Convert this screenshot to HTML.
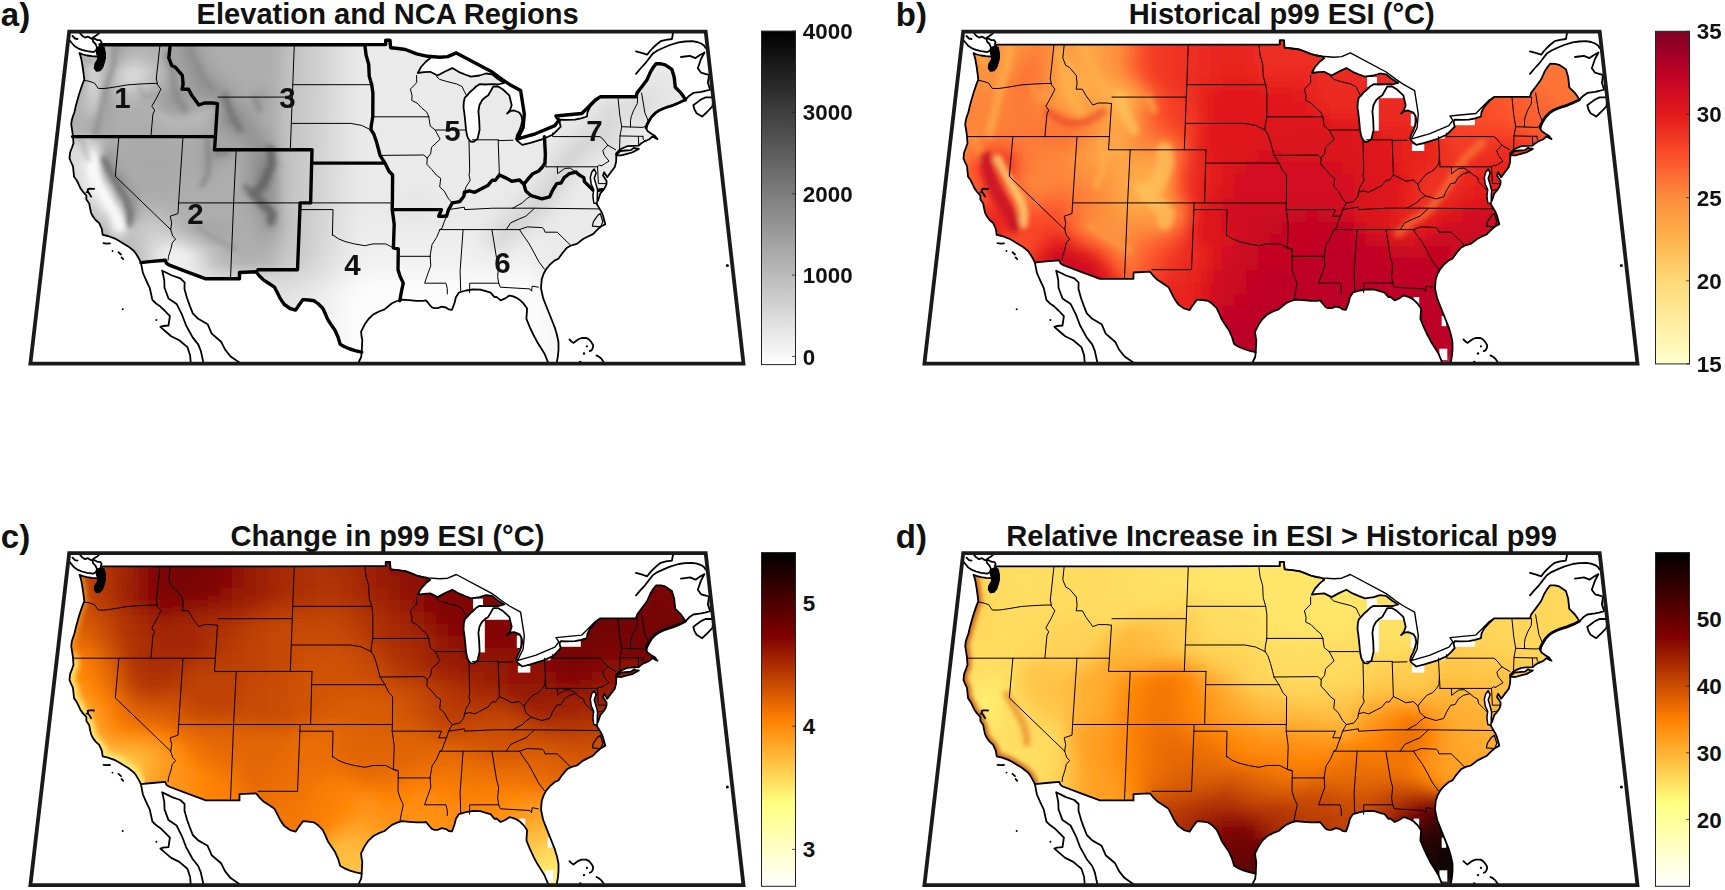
<!DOCTYPE html><html><head><meta charset="utf-8"><title>ESI figure</title><style>html,body{margin:0;padding:0;background:#fff}body{width:1725px;height:890px;overflow:hidden}svg{display:block}text{font-family:"Liberation Sans",Arial,Helvetica,sans-serif;font-weight:bold;fill:#111}</style></head><body><svg width="1725" height="890" viewBox="0 0 1725 890"><defs><clipPath id="land"><path d="M102.8 44.7L160.3 44.7 170.4 44.7 250 44.7 300 44.7 365.3 44.6 385.7 44.6 385.7 40.3 390 40.3 390.6 47.7 398 48.5 405.4 49.5 411 51.5 416.6 53.9 422 55.5 427.7 56.3 430.2 58.2 426 61.5 421 67 417.8 73 424 72.2 430.2 71.8 437.6 75.5 445 71.5 452.4 68.1 458.6 71.8 465 74.5 471 76.7 479.6 75.5 486 73.5 492 74.3 498.2 79.2 504.3 82.9 498 84.5 492 84.2 485 84.5 479.6 84.2 476 86.5 473.4 89.1 470 92 467.2 95.3 464.8 97.7 463.8 102 463.5 107.6 464.2 112 464.8 117.5 465.5 124 466 129.9 467.2 136 468.2 138.5 470.5 141.5 473.5 141.8 477.5 139 479.6 129.9 479.2 120 478.4 111.3 479.5 105 482.1 100.2 485 97.5 488.3 95.3 491 90.5 493.2 86.6 498.2 86.6 503 89.5 509.3 95.3 511.7 105.2 510 110 507.1 113.5 511 110.8 514.2 110.5 519.3 112.5 521.5 116 522.3 120.6 521 126 519.3 130.7 517 135 516.2 138.8 517.2 140.8 522.3 144.9 530.4 142.8 537 140.8 543.5 138.8 548 136.8 552.6 134.7 557 130.5 560.7 126.6 559.5 122 560.7 119.6 567 119.8 574.9 119.6 581 118.3 587 116.5 587.5 112 590 107 595 101.5 600.2 96.8 618 96.8 636 96.8 637.1 92.9 642 86.5 647.2 79.4 650.6 71.6 653.5 67 656.2 63.7 661 63.8 665.2 64.8 671.9 69.3 674.2 77.2 675.3 87.3 680.9 92.9 683.5 96.5 685.4 99.7 679 102.8 673 105.3 668 106.8 662.9 108.7 658.5 110.8 655.1 113.2 651.5 117 648.3 122.1 646.8 125 646.1 127.8 647.5 131 651 133.5 654.8 135.7 657.5 139.1 656.2 138.5 652.5 136.5 649 139.5 645 141 641 143.5 638.7 145.6 633 145.8 627.4 146.2 623 148 619.5 149.8 616 153.5 616.3 157.1 616.1 161.7 614.8 167 610.8 172.3 607.2 177.2 604.1 172.2 603 175.5 606.6 180.9 606.5 184 605.3 187.1 603 190.5 600.4 193.3 597.9 200.7 596 201.5 597.3 205 599.2 208.1 601.5 212 602.9 215.5 605.3 224.2 601 226.5 597.9 229.1 593 234.1 588 236.5 583.1 239 576.9 243.9 571 245.5 567 247.7 562.5 253 558.4 258.8 554.8 260.4 550 264.5 546.1 269.2 543.5 274 541.7 279.4 541 288.2 543.2 298.4 546 305.5 549 313 552 320.5 554.8 327.6 557 335 558.5 342.2 558.5 350 557.8 356.8 556.5 363.6 548.5 363.6 546.5 358.5 544.6 353.9 541 348 537.3 342.2 533.5 335 530 327.6 526.4 318.8 527.1 308.6 523.5 303.5 519.8 299.9 516.5 297.8 512.5 296.2 509.4 295.6 505.2 298.4 500.7 300.4 496.4 296.9 494.5 297.2 490.6 292.6 487.4 291.7 480.4 289.6 473.2 289.3 466 290.5 459 292.5 455.9 297.2 454.5 303 452 309.8 448.8 309.4 446 307.5 441.7 306.6 437.7 308.2 433.9 308.2 431.5 307 426 300.4 422.9 300.8 416.7 300.8 409 300.2 401.9 299.6 397 301 392 303.3 388 306.5 384.6 309.4 379 311.5 373.4 314.4 368.5 319 364.8 324.3 361.1 331.7 361.5 336 362.3 340.3 362 346 361.7 352.1 356 350.8 349.9 349 344 346.5 340.1 344.1 338 337 335.1 330.5 331 324.5 327.7 319.3 325 313 322.7 308.2 318.5 304 314.1 300.8 308.5 300 303 299.6 299 305 295.6 310.1 290 308.5 284.4 304.5 281.5 300.5 279.5 297.1 277 292 274.5 287.2 269 283.5 263.4 279.8 259.5 276 256 271.7 239.5 272.5 239.5 278.8 205.9 278.8 187 271.8 168.8 264.9 166.4 263.2 165.3 260.3 152 261.4 140.9 262.6 138.6 258 136.5 254.5 134 251 128.2 246.4 122.4 242.9 118 240.2 114.3 238.3 108 236 102.7 234.8 101.8 229 99.2 223.2 95.6 220 93 216.5 91.1 212.8 90.3 209.3 89.2 203.5 86.4 199.5 86.3 195.4 83 191.8 80.5 188.4 78.5 184 76.5 180 74.1 176.8 73.5 171.5 73 166.4 71 162 69.5 158.3 70.1 152.5 72 147.5 73.5 143.2 73.2 139.5 73 136.2 72.2 130.5 71.2 124.6 71.8 120 73 116 74.4 112.2 75.8 106 77.3 100.6 79 94.5 80.8 89 82.5 84 84.3 79.7 83.5 73 82.5 66 81.5 60 80.5 56 79.5 53.2 83 54.5 87 55.5 92 56.2 96 56.5 98.8 56.2 99 52 100.5 48.5 101.5 46.5 102.8 44.7ZM616.1 155.1L620.2 151.1 625 150.5 630.9 150.1 634 147.8 636 148.5 638.8 148.9 632.2 152.5 627 153.8 621.6 155.4Z"/></clipPath><clipPath id="frm"><path d="M69.2 31.6L705.7 31.6 743.5 363.6 30.4 363.6Z"/></clipPath><filter id="bl" x="-2%" y="-2%" width="104%" height="104%"><feGaussianBlur stdDeviation="5.5"/></filter><filter id="bl2" x="-5%" y="-5%" width="110%" height="110%"><feGaussianBlur stdDeviation="2.6"/></filter><path id="fr" d="M69.2 31.6L705.7 31.6 743.5 363.6 30.4 363.6Z"/><path id="pug" d="M97 48L101 46 104 47.5 105.2 53 105.3 58 104 63 102.5 67.5 100 70.5 96.5 71 94.5 68 95 64 97.5 60 98 57 96.5 53Z"/><path id="mec" d="M685.4 99.7L679 102.8 673 105.3 668 106.8 662.9 108.7 658.5 110.8 655.1 113.2 651.5 117 648.3 122.1 646.8 125 646.1 127.8"/><path id="bays" d="M594.2 169L596.1 173 594.2 178.3 596.2 184.9 597.6 190.3 597.3 196.2 597.2 201.6 596.5 203.6 593.8 202.9 592.9 196.2 593.7 189.6 591.2 184.3 590.3 177.6 591.7 172.3Z"/><path id="pam" d="M592.4 226.2L600.7 226.9 602.8 221.6 600.3 213.6 597.6 215.6 593.4 221.6Z"/><g id="msk" fill="#fff"><rect x="474" y="98.2" width="10.8" height="32.6"/><rect x="486" y="85" width="25" height="13.2"/><rect x="473" y="77" width="10" height="10"/><rect x="516.8" y="114" width="3.6" height="12.3"/><rect x="517.9" y="144.3" width="12.4" height="6.7"/><rect x="544.9" y="135.3" width="5.6" height="3.4"/><rect x="558.4" y="119.6" width="22.4" height="5.6"/><rect x="519.6" y="297" width="5.6" height="9"/><rect x="547.7" y="316" width="4.5" height="10.2"/><rect x="545.4" y="348.7" width="7.9" height="11.3"/></g><path id="st" d="M84.3 80.3L90 81.5 94.7 83.2 98.2 88.4 104 88.5 109.8 87.8 118 86.5 127.2 84.9 140 84 150 83.5 157.3 83.4M160 44.7L156.3 78.4M156.3 78.4L157.3 83.4M157 84L160.9 89.2 157 97.1 151.8 106.3 154.7 110.2 152.9 114.2 150.9 136.6M73.6 136.6L150.9 136.6 183.1 136.6 215.4 136.6M118.9 136.6L115.3 176.3 170.7 229.6M170.7 229.6L171.7 222.9 170.2 216.2 174 214.9 178 213.6 178.6 202.9M170.7 229.6L172.8 236.2 175.7 238.9 172.2 242.9 171.1 248.3 168.5 256.3 168.1 260.1M183 136.6L178.6 202.9M178.6 202.9L233.6 202.9 300.1 202.9 392.3 202.9M215.4 136.6L214.5 149.8 236.2 149.8M236.2 149.8L290.3 149.8 312 149.8M236.2 149.8L233.6 202.9M233.6 202.9L230.5 278.7M170.2 44.7L168.8 58 171.7 65.4 175.7 67.6 182.3 75.4 183.1 84 182.1 89.2 188.4 89.2 192.1 95.8 196.9 102.3 198.8 105 204.3 103 212.8 103 217.5 103.7M217.5 103.7L215.4 136.6M218 97.1L292.3 97.1M294.3 44.7L290.3 149.8M312 149.8L310.6 202.9M311.6 163.1L385 163.1M300.1 202.9L299.9 209.6M299.9 209.6L297.5 269.7 257.9 269.7M299.9 209.6L333 209.6 332.4 235.4M332.4 234.6L338.2 238.7 345 241.5 354.4 243.9 364.8 245.7 373 243.9 385.7 243.9 393.8 248 397.3 249.1M392.2 209.6L394.2 224.2 393.4 247.8M393.4 247.8L398.3 249 398.2 256.3M398.2 256.3L430.1 256.3M398.2 256.3L398 269.7 400.1 276.4 403.3 283.2 401.5 291.2 399.8 300.7M292.7 84.7L371.7 84.7M364.8 44.7L366.1 55.1 368.7 64.3 369.2 76.1 371.7 84.7M371.7 84.7L372.9 93.1 372.8 116.8M291.3 123.4L350.8 123.4 361.5 125.4 371.1 130M372.8 116.8L371.2 126 371.1 130M371.1 130L373.8 134 376.5 141.9 378.6 149.8 380 155.4M380 155.4L385 163.1M385 163.1L388.8 171 392.6 175 392.4 202.9M392.3 202.9L392.2 209.6M372.8 116.8L428.8 116.8M428.8 116.8L426.8 112.2 421.3 107.6 417 103 411.7 100.4 412.1 95.8 410.4 89.2 416.7 82.6 416.6 75.4M428.8 116.8L430.2 126 435.2 130 440.1 139.2 435.9 143.2 431.6 147.2 430.6 153.8 427.2 158M380 155.4L423.8 155 427.2 158M435.2 130L465.8 130M466.7 95.8L464.5 91.8 462.1 86.6 456.8 84 446.1 81.3 439.7 79.4 436.5 76.5M427.2 158L426.9 164.4 431.9 169.7 436.3 175 440.7 178.3 439.7 186.9 444.1 190.9 448.6 198.9 452.4 202.9M469 140.6L469.7 171 469 175 470.2 180.3 466 186.9 464.4 192.3M464.4 192.3L463.9 196.2 459.6 201.6 452.4 202.9M472.5 139.8L498.4 139.8M498.2 140.6L499.4 175M498.4 140.6L513 140.2M499.4 175L495.4 180.3 492.1 180.3 487.8 185.6 482.4 188.3 474.8 192.3 469.3 190.9 464.4 192.3M499.4 175L505.1 177.6 511.8 181.2 519.4 180 523.9 184.3M523.9 184.3L528.1 179 532.8 173.7 538.7 171 542.4 167 544.9 163.1 545.4 154.6M545.4 154.6L544.4 136.6M523.9 184.3L525.8 190.9 531.2 195.7M531.2 195.7L526.6 198.9 522.3 202.9 512.8 208.2M512.8 208.2L492.7 208.2 464.6 209.6 464.4 207.2 448.6 209.6M452.4 202.9L450.8 205.6 448.6 209.6M392.2 209.6L441.5 209.6 438.7 216.2 446.5 216.2M448.6 209.6L446.5 216.2M446.5 216.2L444.3 221.6 442.1 228.2 439.9 229.6M439.9 229.6L436.5 237.6 432.1 244.3 430.9 251 430.1 256.3M430.1 256.3L430.8 265.7 427.4 275.1 424.6 283.2 445.9 283.2 447.3 288.5 447.3 293.9M439.9 229.6L463.1 229.6 491.9 229.6 506.2 229.6 519.5 229.6M463.1 229.6L460.1 271.1 460.7 291.2M491.9 229.6L496.5 257.7 498.7 265.7 497.6 276.4 498.7 283.2M469.6 292.6L469.7 283.2 498.7 283.2M498.7 283.2L500.3 287.2 529.9 288.9 531.6 291.2 532.2 286.1 538.3 287.2M519.5 229.6L522.9 234.9 528.6 242.9 533.1 251 538.8 261.7 544.4 269.1M519.5 229.6L527.2 226.9 542.2 227.6 543.8 228.9 545 232.2 557.2 232.2 570.2 244.9M506.2 229.6L510.6 222.9 519.3 218.9 525.9 216.2 534.5 208.2M512.8 208.2L534.5 208.2 598.7 208.9M531.2 195.7L541.9 198.9 549.6 196.9 552.6 190.3 556.7 183.6 561.1 183 564.1 177.6 569.4 173.7 575.9 172.1M575.9 172.1L579.3 175 583.8 177.6 584.5 181.6 589.7 186.9 593.2 190.3 598.1 190.3 602.5 189.6M575.9 172.1L570.2 168.1 564.8 168.4 557.6 173.7 557.3 166.8M546 166.8L557.3 166.8 597.4 166.8M546 166.8L545.4 154.6M597.5 166.8L598.4 183.6 606.5 183.6M597.4 166.8L599.4 165.2 601.6 165.7M601.6 165.7L604.8 163.7 609 161.1 604.2 155.1 602.8 150.5 607.8 145.2M552.4 133L552.6 136.6 600 136.6 603 139.2 607.8 145.2M607.8 145.2L615.7 149.8M619.5 149.8L620 135.9 621.7 126.7 619.8 115.5 617.9 97M630.5 127L630.5 120.8 631.2 116.8 633.7 110.2 637.3 103.7 637.6 97M621.7 126.7L630.5 127 642.9 127.4 648.1 125.1M648.9 122.4L644.9 112.9 641.6 93.1M620 135.9L638.4 136.3 642.9 136.3M638.4 136.3L638.7 145.6M642.9 136.3L643.2 139.2 645.9 141.9"/><path id="cst" d="M102.8 44.7L160.3 44.7 170.4 44.7 250 44.7 300 44.7 365.3 44.6 385.7 44.6 385.7 40.3 390 40.3 390.6 47.7 398 48.5 405.4 49.5 411 51.5 416.6 53.9 422 55.5 427.7 56.3 430.2 58.2 426 61.5 421 67 417.8 73 424 72.2 430.2 71.8 437.6 75.5 445 71.5 452.4 68.1 458.6 71.8 465 74.5 471 76.7 479.6 75.5 486 73.5 492 74.3 498.2 79.2 504.3 82.9 498 84.5 492 84.2 485 84.5 479.6 84.2 476 86.5 473.4 89.1 470 92 467.2 95.3 464.8 97.7 463.8 102 463.5 107.6 464.2 112 464.8 117.5 465.5 124 466 129.9 467.2 136 468.2 138.5 470.5 141.5 473.5 141.8 477.5 139 479.6 129.9 479.2 120 478.4 111.3 479.5 105 482.1 100.2 485 97.5 488.3 95.3 491 90.5 493.2 86.6 498.2 86.6 503 89.5 509.3 95.3 511.7 105.2 510 110 507.1 113.5 511 110.8 514.2 110.5 519.3 112.5 521.5 116 522.3 120.6 521 126 519.3 130.7 517 135 516.2 138.8 517.2 140.8 522.3 144.9 530.4 142.8 537 140.8 543.5 138.8 548 136.8 552.6 134.7 557 130.5 560.7 126.6 559.5 122 560.7 119.6 567 119.8 574.9 119.6 581 118.3 587 116.5 587.5 112 590 107 595 101.5 600.2 96.8 618 96.8 636 96.8 637.1 92.9 642 86.5 647.2 79.4 650.6 71.6 653.5 67 656.2 63.7 661 63.8 665.2 64.8 671.9 69.3 674.2 77.2 675.3 87.3 680.9 92.9 683.5 96.5 685.4 99.7 679 102.8 673 105.3 668 106.8 662.9 108.7 658.5 110.8 655.1 113.2 651.5 117 648.3 122.1 646.8 125 646.1 127.8 647.5 131 651 133.5 654.8 135.7 657.5 139.1 656.2 138.5 652.5 136.5 649 139.5 645 141 641 143.5 638.7 145.6 633 145.8 627.4 146.2 623 148 619.5 149.8 616 153.5 616.3 157.1 616.1 161.7 614.8 167 610.8 172.3 607.2 177.2 604.1 172.2 603 175.5 606.6 180.9 606.5 184 605.3 187.1 603 190.5 600.4 193.3 597.9 200.7 596 201.5 597.3 205 599.2 208.1 601.5 212 602.9 215.5 605.3 224.2 601 226.5 597.9 229.1 593 234.1 588 236.5 583.1 239 576.9 243.9 571 245.5 567 247.7 562.5 253 558.4 258.8 554.8 260.4 550 264.5 546.1 269.2 543.5 274 541.7 279.4 541 288.2 543.2 298.4 546 305.5 549 313 552 320.5 554.8 327.6 557 335 558.5 342.2 558.5 350 557.8 356.8 556.5 363.6 548.5 363.6 546.5 358.5 544.6 353.9 541 348 537.3 342.2 533.5 335 530 327.6 526.4 318.8 527.1 308.6 523.5 303.5 519.8 299.9 516.5 297.8 512.5 296.2 509.4 295.6 505.2 298.4 500.7 300.4 496.4 296.9 494.5 297.2 490.6 292.6 487.4 291.7 480.4 289.6 473.2 289.3 466 290.5 459 292.5 455.9 297.2 454.5 303 452 309.8 448.8 309.4 446 307.5 441.7 306.6 437.7 308.2 433.9 308.2 431.5 307 426 300.4 422.9 300.8 416.7 300.8 409 300.2 401.9 299.6 397 301 392 303.3 388 306.5 384.6 309.4 379 311.5 373.4 314.4 368.5 319 364.8 324.3 361.1 331.7 361.5 336 362.3 340.3 362 346 361.7 352.1 356 350.8 349.9 349 344 346.5 340.1 344.1 338 337 335.1 330.5 331 324.5 327.7 319.3 325 313 322.7 308.2 318.5 304 314.1 300.8 308.5 300 303 299.6 299 305 295.6 310.1 290 308.5 284.4 304.5 281.5 300.5 279.5 297.1 277 292 274.5 287.2 269 283.5 263.4 279.8 259.5 276 256 271.7 239.5 272.5 239.5 278.8 205.9 278.8 187 271.8 168.8 264.9 166.4 263.2 165.3 260.3 152 261.4 140.9 262.6 138.6 258 136.5 254.5 134 251 128.2 246.4 122.4 242.9 118 240.2 114.3 238.3 108 236 102.7 234.8 101.8 229 99.2 223.2 95.6 220 93 216.5 91.1 212.8 90.3 209.3 89.2 203.5 86.4 199.5 86.3 195.4 83 191.8 80.5 188.4 78.5 184 76.5 180 74.1 176.8 73.5 171.5 73 166.4 71 162 69.5 158.3 70.1 152.5 72 147.5 73.5 143.2 73.2 139.5 73 136.2 72.2 130.5 71.2 124.6 71.8 120 73 116 74.4 112.2 75.8 106 77.3 100.6 79 94.5 80.8 89 82.5 84 84.3 79.7 83.5 73 82.5 66 81.5 60 80.5 56 79.5 53.2 83 54.5 87 55.5 92 56.2 96 56.5 98.8 56.2 99 52 100.5 48.5 101.5 46.5 102.8 44.7ZM616.1 155.1L620.2 151.1 625 150.5 630.9 150.1 634 147.8 636 148.5 638.8 148.9 632.2 152.5 627 153.8 621.6 155.4Z"/><path id="out" d="M140.9 262.6L142.9 272.9 146 280 149.7 287.8 152.4 299.9 156 303.5 160.4 306.6 165 311 169.9 316.1 168.5 325.5 163 326 160.4 326.9 165 331 171.2 336.3 179.3 340.3 187.4 347.1 190.1 355.2 190.8 363.6M162.2 270.7L163.2 275 164.3 280.6 164.5 287.8 168.5 298.5 176.6 303.9 182 314.7 186.1 325.5 192.8 337.6 198.2 344.4 200.9 351.1 203.6 363.6M162.2 270.7L167 273 172 275.5 180.3 278.4 184.6 282.4 184.5 289.1 187 298 190.1 306.6 192.8 313.4 198.2 318.8 207.6 324.2 211.7 333.6 221.1 341.7 225.2 349.8 230.6 356.5 238.6 361.9 241 363.6M361.7 352.1L361.2 357 359.2 361 358.3 363.6M636 73.8L640.5 68.5 645 63.7 649 58.5 652.8 53.6 657.5 50.5 662.9 48 670 45 678.7 42.4 685 41.5 692.1 41.2 697 42 701.1 43.5 704 45.5 705.6 48M636 51.3L641.5 52.8 647.2 54.7 650 51 652.8 48 656.5 44.5 660.7 41.2 666 39.8 671.9 39 673 33.4M680.9 57L685 56.5 689.9 55.8 695.5 58.1 700 55 704.5 52.5 701 59 697.8 68.2 701.1 72.7 705 73.8 709 74.9 707.9 82.8 710.1 89.6 705 91 701.1 91.8 693.3 92.9 689 96 685.4 99.7M693.3 105.3L694.5 109.5 696.6 113.2 702.2 116.6 707 112 712.4 106.4 713.5 97.4 705.6 97.4 701 99.5 697.8 101.9 693.3 105.3M68.5 39L71 42 74.4 46 78 48.3 82 49.9 87 51.2 93.4 52.1 96 50.5 97 47.5 95.5 44 93 41.5 92.5 37.8 95 36.2 97.5 34.6 99 33.2M80 33.2L82.5 36 85 37.6 88 36.6 91 38.6 94.5 38.6 97.5 40.2 100.2 40.2 101.6 42.2 100.8 44.6M72.5 36L75 38.5 77.5 39M86.6 192.1L88.4 192.3 89.7 194.2 91.1 196.6M88 191.2L87.7 189.3 89.6 188.7 92.3 188.8 94 188.9M103.5 243.2L106.5 243.6 110 243.4M118.5 252.3L121 254.5M121.6 257.4L123.2 259.2M569.5 339.5L571.5 341.5 573.4 342.9 576.7 340.5 579 339 581.6 338 586.4 338 589 339.5 591.2 341.9 593.2 345.3 592.8 348 591.7 350.1 589.8 351.1M596.5 355.4L599 356.8 601.4 358.8 603.8 362.2"/><path id="intl" d="M385.7 44.6L385.7 40.3 390 40.3 390.6 47.7 398 48.5 405.4 49.5 416.6 53.9 427.7 56.3 440 57.2 447.7 56.6 456.3 52.9 492.2 72 502 79.4 509.5 84.4 520.6 90.6 524.3 114 523.1 127.7 518.1 137.5 517.1 139.1 535.4 133.8 554.9 125.6 558.9 120.2 556 116 566 115 581.8 113.5 587.2 108.1 595.3 100 600.2 96.8"/><path id="reg" d="M100 44.7L160.3 44.7 170.4 44.7 250 44.7 300 44.7 365.3 44.6 385.7 44.6 385.7 40.3 390 40.3 390.6 47.7 398 48.5 405.4 49.5 416.6 53.9 427.7 56.3 440 57.2 447.7 56.6 456.3 52.9 492.2 72 502 79.4 509.5 84.4 520.6 90.6 524.3 114 523.1 127.7 518.1 137.5 517.1 139.1 535.4 133.8 554.9 125.6 558.9 120.2 556 116 566 115 581.8 113.5 587.2 108.1 595.3 100 600.2 96.8 618 96.8 636 96.8 637.1 92.9 642 86.5 647.2 79.4 650.6 71.6 653.5 67 656.2 63.7 661 63.8 665.2 64.8 671.9 69.3 674.2 77.2 675.3 87.3 680.9 92.9 683.5 96.5 685.4 99.7M72.5 136.6L150.9 136.6 183.1 136.6 215.4 136.6M170.2 44.7L168.8 58 171.7 65.4 175.7 67.6 182.3 75.4 183.1 84 182.1 89.2 188.4 89.2 192.1 95.8 196.9 102.3 198.8 105 204.3 103 212.8 103 217.5 103.7M217.5 103.7L215.4 136.6M215.4 136.6L214.5 149.8 236.2 149.8M236.2 149.8L290.3 149.8 312 149.8M312 149.8L310.6 202.9 300.1 202.9M300.1 202.9L299.9 209.6M299.9 209.6L297.5 269.7 257.9 269.7M311.6 163.1L385 163.1M364.8 44.7L366.1 55.1 368.7 64.3 369.2 76.1 371.7 84.7M371.7 84.7L372.9 93.1 372.8 116.8M372.8 116.8L371.2 126 371.1 130M371.1 130L373.8 134 376.5 141.9 378.6 149.8 380 155.4M380 155.4L385 163.1M385 163.1L388.8 171 392.6 175 392.4 202.9M392.2 209.6L394.2 224.2 393.4 247.8M393.4 247.8L398.3 249 398.2 256.3M398.2 256.3L398 269.7 400.1 276.4 403.3 283.2 401.5 291.2 399.8 300.7M392.3 202.9L392.2 209.6M392.2 209.6L441.5 209.6 438.7 216.2 446.5 216.2M448.6 209.6L446.5 216.2M452.4 202.9L450.8 205.6 448.6 209.6M464.4 192.3L463.9 196.2 459.6 201.6 452.4 202.9M499.4 175L495.4 180.3 492.1 180.3 487.8 185.6 482.4 188.3 474.8 192.3 469.3 190.9 464.4 192.3M499.4 175L505.1 177.6 511.8 181.2 519.4 180 523.9 184.3M523.9 184.3L528.1 179 532.8 173.7 538.7 171 542.4 167 544.9 163.1 545.4 154.6M545.4 154.6L544.4 136.6M523.9 184.3L525.8 190.9 531.2 195.7M531.2 195.7L541.9 198.9 549.6 196.9 552.6 190.3 556.7 183.6 561.1 183 564.1 177.6 569.4 173.7 575.9 172.1M575.9 172.1L579.3 175 583.8 177.6 584.5 181.6 589.7 186.9 593.2 190.3 598.1 190.3 602.5 189.6M140.9 262.6L152 261.4 165.3 260.3 166.4 263.2 168.8 264.9 187 271.8 205.9 278.8 239.5 278.8 239.5 272.5 256 271.7 259.5 276 263.4 279.8 269 283.5 274.5 287.2 277 292 279.5 297.1 281.5 300.5 284.4 304.5 290 308.5 295.6 310.1 299 305 303 299.6 308.5 300 314.1 300.8 318.5 304 322.7 308.2 325 313 327.7 319.3 331 324.5 335.1 330.5 338 337 340.1 344.1 344 346.5 349.9 349 356 350.8 361.7 352.1"/><g id="dots"><circle cx="727.4" cy="265.5" r="1.5"/><circle cx="586.9" cy="346.3" r="1.1"/><circle cx="584" cy="353.5" r="1.2"/><circle cx="580.3" cy="362.2" r="1.5"/><circle cx="122.7" cy="309.3" r="1"/><circle cx="156.4" cy="320.1" r="1"/><circle cx="112.5" cy="251" r="0.9"/></g><linearGradient id="cb0" x1="0" y1="1" x2="0" y2="0"><stop offset="0%" stop-color="#ffffff"/><stop offset="5%" stop-color="#f2f2f2"/><stop offset="10%" stop-color="#e6e6e6"/><stop offset="15%" stop-color="#d9d9d9"/><stop offset="20%" stop-color="#cccccc"/><stop offset="25%" stop-color="#bfbfbf"/><stop offset="30%" stop-color="#b2b2b2"/><stop offset="35%" stop-color="#a6a6a6"/><stop offset="40%" stop-color="#999999"/><stop offset="45%" stop-color="#8c8c8c"/><stop offset="50%" stop-color="#808080"/><stop offset="55%" stop-color="#737373"/><stop offset="60%" stop-color="#666666"/><stop offset="65%" stop-color="#595959"/><stop offset="70%" stop-color="#4c4c4c"/><stop offset="75%" stop-color="#404040"/><stop offset="80%" stop-color="#333333"/><stop offset="85%" stop-color="#262626"/><stop offset="90%" stop-color="#1a1a1a"/><stop offset="95%" stop-color="#0d0d0d"/><stop offset="100%" stop-color="#000000"/></linearGradient><linearGradient id="cb1" x1="0" y1="1" x2="0" y2="0"><stop offset="0%" stop-color="#ffffcc"/><stop offset="5%" stop-color="#fff8ba"/><stop offset="10%" stop-color="#fff1a9"/><stop offset="15%" stop-color="#ffe998"/><stop offset="20%" stop-color="#fee187"/><stop offset="25%" stop-color="#fed976"/><stop offset="30%" stop-color="#fec965"/><stop offset="35%" stop-color="#feba54"/><stop offset="40%" stop-color="#feab49"/><stop offset="45%" stop-color="#fd9c42"/><stop offset="50%" stop-color="#fd8d3c"/><stop offset="55%" stop-color="#fd7435"/><stop offset="60%" stop-color="#fc5b2e"/><stop offset="65%" stop-color="#f74427"/><stop offset="70%" stop-color="#ed2f22"/><stop offset="75%" stop-color="#e31a1c"/><stop offset="80%" stop-color="#d41020"/><stop offset="85%" stop-color="#c50524"/><stop offset="90%" stop-color="#b10026"/><stop offset="95%" stop-color="#980026"/><stop offset="100%" stop-color="#800026"/></linearGradient><linearGradient id="cb2" x1="0" y1="1" x2="0" y2="0"><stop offset="0%" stop-color="#ffffff"/><stop offset="5%" stop-color="#ffffe5"/><stop offset="10%" stop-color="#ffffcc"/><stop offset="15%" stop-color="#ffffb2"/><stop offset="20%" stop-color="#ffff99"/><stop offset="25%" stop-color="#ffff80"/><stop offset="30%" stop-color="#ffe566"/><stop offset="35%" stop-color="#ffcc4d"/><stop offset="40%" stop-color="#ffb233"/><stop offset="45%" stop-color="#ff991a"/><stop offset="50%" stop-color="#ff8000"/><stop offset="55%" stop-color="#e56600"/><stop offset="60%" stop-color="#cc4d00"/><stop offset="65%" stop-color="#b23300"/><stop offset="70%" stop-color="#991a00"/><stop offset="75%" stop-color="#800000"/><stop offset="80%" stop-color="#660000"/><stop offset="85%" stop-color="#4d0000"/><stop offset="90%" stop-color="#330000"/><stop offset="95%" stop-color="#1a0000"/><stop offset="100%" stop-color="#000000"/></linearGradient><linearGradient id="cb3" x1="0" y1="1" x2="0" y2="0"><stop offset="0%" stop-color="#ffffff"/><stop offset="5%" stop-color="#ffffe5"/><stop offset="10%" stop-color="#ffffcc"/><stop offset="15%" stop-color="#ffffb2"/><stop offset="20%" stop-color="#ffff99"/><stop offset="25%" stop-color="#ffff80"/><stop offset="30%" stop-color="#ffe566"/><stop offset="35%" stop-color="#ffcc4d"/><stop offset="40%" stop-color="#ffb233"/><stop offset="45%" stop-color="#ff991a"/><stop offset="50%" stop-color="#ff8000"/><stop offset="55%" stop-color="#e56600"/><stop offset="60%" stop-color="#cc4d00"/><stop offset="65%" stop-color="#b23300"/><stop offset="70%" stop-color="#991a00"/><stop offset="75%" stop-color="#800000"/><stop offset="80%" stop-color="#660000"/><stop offset="85%" stop-color="#4d0000"/><stop offset="90%" stop-color="#330000"/><stop offset="95%" stop-color="#1a0000"/><stop offset="100%" stop-color="#000000"/></linearGradient></defs><rect width="1725" height="890" fill="#fff"/><g font-size="33"><text x="0.8" y="26.4">a)</text><text x="895.8" y="26.4">b)</text><text x="0.8" y="548">c)</text><text x="895.8" y="548">d)</text></g><g font-size="29.1" text-anchor="middle"><text x="387.6" y="24.2">Elevation and NCA Regions</text><text x="1281.8" y="24.2">Historical p99 ESI (°C)</text><text x="387.5" y="545.8">Change in p99 ESI (°C)</text><text x="1281.6" y="545.8">Relative Increase in ESI &gt; Historical p99</text></g><g transform="translate(0 0)"><g clip-path="url(#land)"><g class="c" filter="url(#bl)"><g transform="translate(0 30)"><rect x="88" width="12" height="12" fill="#aeaeae"/><rect x="100" width="12" height="12" fill="#aeaeae"/><rect x="112" width="12" height="12" fill="#ababab"/><rect x="124" width="12" height="12" fill="#aeaeae"/><rect x="136" width="12" height="12" fill="#aeaeae"/><rect x="148" width="12" height="12" fill="#aeaeae"/><rect x="160" width="12" height="12" fill="#adadad"/><rect x="172" width="12" height="12" fill="#a6a6a6"/><rect x="184" width="12" height="12" fill="#a0a0a0"/><rect x="196" width="12" height="12" fill="#ababab"/><rect x="208" width="12" height="12" fill="#adadad"/><rect x="220" width="12" height="12" fill="#aeaeae"/><rect x="232" width="12" height="12" fill="#aeaeae"/><rect x="244" width="12" height="12" fill="#aeaeae"/><rect x="256" width="12" height="12" fill="#aeaeae"/><rect x="268" width="12" height="12" fill="#aeaeae"/><rect x="280" width="12" height="12" fill="#bbbbbb"/><rect x="292" width="12" height="12" fill="#c6c6c6"/><rect x="304" width="12" height="12" fill="#cbcbcb"/><rect x="316" width="12" height="12" fill="#d2d2d2"/><rect x="328" width="12" height="12" fill="#dadada"/><rect x="340" width="12" height="12" fill="#e1e1e1"/><rect x="352" width="12" height="12" fill="#e7e7e7"/><rect x="364" width="12" height="12" fill="#eaeaea"/><rect x="376" width="12" height="12" fill="#eaeaea"/><rect x="388" width="12" height="12" fill="#eaeaea"/><rect x="400" width="12" height="12" fill="#eaeaea"/></g><g transform="translate(0 42)"><rect x="64" width="12" height="12" fill="#aeaeae"/><rect x="76" width="12" height="12" fill="#aeaeae"/><rect x="88" width="12" height="12" fill="#c3c3c3"/><rect x="100" width="12" height="12" fill="#b8b8b8"/><rect x="112" width="12" height="12" fill="#a2a2a2"/><rect x="124" width="12" height="12" fill="#b0b0b0"/><rect x="136" width="12" height="12" fill="#b0b0b0"/><rect x="148" width="12" height="12" fill="#afafaf"/><rect x="160" width="12" height="12" fill="#adadad"/><rect x="172" width="12" height="12" fill="#9d9d9d"/><rect x="184" width="12" height="12" fill="#959595"/><rect x="196" width="12" height="12" fill="#a7a7a7"/><rect x="208" width="12" height="12" fill="#adadad"/><rect x="220" width="12" height="12" fill="#aeaeae"/><rect x="232" width="12" height="12" fill="#aeaeae"/><rect x="244" width="12" height="12" fill="#aeaeae"/><rect x="256" width="12" height="12" fill="#aeaeae"/><rect x="268" width="12" height="12" fill="#aeaeae"/><rect x="280" width="12" height="12" fill="#bcbcbc"/><rect x="292" width="12" height="12" fill="#c6c6c6"/><rect x="304" width="12" height="12" fill="#cbcbcb"/><rect x="316" width="12" height="12" fill="#d2d2d2"/><rect x="328" width="12" height="12" fill="#dadada"/><rect x="340" width="12" height="12" fill="#e2e2e2"/><rect x="352" width="12" height="12" fill="#e7e7e7"/><rect x="364" width="12" height="12" fill="#eaeaea"/><rect x="376" width="12" height="12" fill="#eaeaea"/><rect x="388" width="12" height="12" fill="#eaeaea"/><rect x="400" width="12" height="12" fill="#eaeaea"/><rect x="412" width="12" height="12" fill="#eaeaea"/><rect x="424" width="12" height="12" fill="#eaeaea"/></g><g transform="translate(0 54)"><rect x="64" width="12" height="12" fill="#aeaeae"/><rect x="76" width="12" height="12" fill="#aeaeae"/><rect x="88" width="12" height="12" fill="#cfcfcf"/><rect x="100" width="12" height="12" fill="#b5b5b5"/><rect x="112" width="12" height="12" fill="#afafaf"/><rect x="124" width="12" height="12" fill="#c0c0c0"/><rect x="136" width="12" height="12" fill="#bfbfbf"/><rect x="148" width="12" height="12" fill="#b7b7b7"/><rect x="160" width="12" height="12" fill="#afafaf"/><rect x="172" width="12" height="12" fill="#a3a3a3"/><rect x="184" width="12" height="12" fill="#939393"/><rect x="196" width="12" height="12" fill="#a0a0a0"/><rect x="208" width="12" height="12" fill="#ababab"/><rect x="220" width="12" height="12" fill="#adadad"/><rect x="232" width="12" height="12" fill="#aeaeae"/><rect x="244" width="12" height="12" fill="#aeaeae"/><rect x="256" width="12" height="12" fill="#aeaeae"/><rect x="268" width="12" height="12" fill="#aeaeae"/><rect x="280" width="12" height="12" fill="#bdbdbd"/><rect x="292" width="12" height="12" fill="#c6c6c6"/><rect x="304" width="12" height="12" fill="#cbcbcb"/><rect x="316" width="12" height="12" fill="#d2d2d2"/><rect x="328" width="12" height="12" fill="#dadada"/><rect x="340" width="12" height="12" fill="#e2e2e2"/><rect x="352" width="12" height="12" fill="#e8e8e8"/><rect x="364" width="12" height="12" fill="#eaeaea"/><rect x="376" width="12" height="12" fill="#eaeaea"/><rect x="388" width="12" height="12" fill="#eaeaea"/><rect x="400" width="12" height="12" fill="#eaeaea"/><rect x="412" width="12" height="12" fill="#eaeaea"/><rect x="424" width="12" height="12" fill="#eaeaea"/><rect x="436" width="12" height="12" fill="#eaeaea"/><rect x="448" width="12" height="12" fill="#eaeaea"/><rect x="460" width="12" height="12" fill="#eaeaea"/><rect x="484" width="12" height="12" fill="#eaeaea"/><rect x="640" width="12" height="12" fill="#eaeaea"/><rect x="652" width="12" height="12" fill="#eaeaea"/><rect x="664" width="12" height="12" fill="#eaeaea"/><rect x="676" width="12" height="12" fill="#eaeaea"/></g><g transform="translate(0 66)"><rect x="64" width="12" height="12" fill="#aeaeae"/><rect x="76" width="12" height="12" fill="#aeaeae"/><rect x="88" width="12" height="12" fill="#d6d6d6"/><rect x="100" width="12" height="12" fill="#b5b5b5"/><rect x="112" width="12" height="12" fill="#c5c5c5"/><rect x="124" width="12" height="12" fill="#dbdbdb"/><rect x="136" width="12" height="12" fill="#d6d6d6"/><rect x="148" width="12" height="12" fill="#c1c1c1"/><rect x="160" width="12" height="12" fill="#b2b2b2"/><rect x="172" width="12" height="12" fill="#a7a7a7"/><rect x="184" width="12" height="12" fill="#979797"/><rect x="196" width="12" height="12" fill="#969696"/><rect x="208" width="12" height="12" fill="#a6a6a6"/><rect x="220" width="12" height="12" fill="#acacac"/><rect x="232" width="12" height="12" fill="#adadad"/><rect x="244" width="12" height="12" fill="#aeaeae"/><rect x="256" width="12" height="12" fill="#aeaeae"/><rect x="268" width="12" height="12" fill="#aeaeae"/><rect x="280" width="12" height="12" fill="#bebebe"/><rect x="292" width="12" height="12" fill="#c6c6c6"/><rect x="304" width="12" height="12" fill="#cbcbcb"/><rect x="316" width="12" height="12" fill="#d2d2d2"/><rect x="328" width="12" height="12" fill="#dadada"/><rect x="340" width="12" height="12" fill="#e2e2e2"/><rect x="352" width="12" height="12" fill="#e8e8e8"/><rect x="364" width="12" height="12" fill="#eaeaea"/><rect x="376" width="12" height="12" fill="#eaeaea"/><rect x="388" width="12" height="12" fill="#eaeaea"/><rect x="400" width="12" height="12" fill="#eaeaea"/><rect x="412" width="12" height="12" fill="#eaeaea"/><rect x="424" width="12" height="12" fill="#eaeaea"/><rect x="436" width="12" height="12" fill="#eaeaea"/><rect x="448" width="12" height="12" fill="#eaeaea"/><rect x="460" width="12" height="12" fill="#eaeaea"/><rect x="472" width="12" height="12" fill="#eaeaea"/><rect x="484" width="12" height="12" fill="#eaeaea"/><rect x="496" width="12" height="12" fill="#eaeaea"/><rect x="640" width="12" height="12" fill="#e8e8e8"/><rect x="652" width="12" height="12" fill="#e8e8e8"/><rect x="664" width="12" height="12" fill="#e9e9e9"/><rect x="676" width="12" height="12" fill="#eaeaea"/></g><g transform="translate(0 78)"><rect x="64" width="12" height="12" fill="#aeaeae"/><rect x="76" width="12" height="12" fill="#afafaf"/><rect x="88" width="12" height="12" fill="#dbdbdb"/><rect x="100" width="12" height="12" fill="#acacac"/><rect x="112" width="12" height="12" fill="#c6c6c6"/><rect x="124" width="12" height="12" fill="#d5d5d5"/><rect x="136" width="12" height="12" fill="#cecece"/><rect x="148" width="12" height="12" fill="#bababa"/><rect x="160" width="12" height="12" fill="#ababab"/><rect x="172" width="12" height="12" fill="#a4a4a4"/><rect x="184" width="12" height="12" fill="#9d9d9d"/><rect x="196" width="12" height="12" fill="#939393"/><rect x="208" width="12" height="12" fill="#989898"/><rect x="220" width="12" height="12" fill="#a3a3a3"/><rect x="232" width="12" height="12" fill="#ababab"/><rect x="244" width="12" height="12" fill="#adadad"/><rect x="256" width="12" height="12" fill="#adadad"/><rect x="268" width="12" height="12" fill="#aeaeae"/><rect x="280" width="12" height="12" fill="#bfbfbf"/><rect x="292" width="12" height="12" fill="#c7c7c7"/><rect x="304" width="12" height="12" fill="#cbcbcb"/><rect x="316" width="12" height="12" fill="#d2d2d2"/><rect x="328" width="12" height="12" fill="#dadada"/><rect x="340" width="12" height="12" fill="#e2e2e2"/><rect x="352" width="12" height="12" fill="#e8e8e8"/><rect x="364" width="12" height="12" fill="#eaeaea"/><rect x="376" width="12" height="12" fill="#eaeaea"/><rect x="388" width="12" height="12" fill="#eaeaea"/><rect x="400" width="12" height="12" fill="#eaeaea"/><rect x="412" width="12" height="12" fill="#eaeaea"/><rect x="424" width="12" height="12" fill="#eaeaea"/><rect x="436" width="12" height="12" fill="#eaeaea"/><rect x="448" width="12" height="12" fill="#eaeaea"/><rect x="460" width="12" height="12" fill="#eaeaea"/><rect x="472" width="12" height="12" fill="#eaeaea"/><rect x="484" width="12" height="12" fill="#eaeaea"/><rect x="496" width="12" height="12" fill="#eaeaea"/><rect x="508" width="12" height="12" fill="#eaeaea"/><rect x="592" width="12" height="12" fill="#eaeaea"/><rect x="604" width="12" height="12" fill="#eaeaea"/><rect x="616" width="12" height="12" fill="#e9e9e9"/><rect x="628" width="12" height="12" fill="#e7e7e7"/><rect x="640" width="12" height="12" fill="#e5e5e5"/><rect x="652" width="12" height="12" fill="#e4e4e4"/><rect x="664" width="12" height="12" fill="#e6e6e6"/><rect x="676" width="12" height="12" fill="#e9e9e9"/></g><g transform="translate(0 90)"><rect x="64" width="12" height="12" fill="#aeaeae"/><rect x="76" width="12" height="12" fill="#b2b2b2"/><rect x="88" width="12" height="12" fill="#d6d6d6"/><rect x="100" width="12" height="12" fill="#a3a3a3"/><rect x="112" width="12" height="12" fill="#b6b6b6"/><rect x="124" width="12" height="12" fill="#b9b9b9"/><rect x="136" width="12" height="12" fill="#b6b6b6"/><rect x="148" width="12" height="12" fill="#ababab"/><rect x="160" width="12" height="12" fill="#9d9d9d"/><rect x="172" width="12" height="12" fill="#999999"/><rect x="184" width="12" height="12" fill="#9f9f9f"/><rect x="196" width="12" height="12" fill="#9c9c9c"/><rect x="208" width="12" height="12" fill="#959595"/><rect x="220" width="12" height="12" fill="#959595"/><rect x="232" width="12" height="12" fill="#a6a6a6"/><rect x="244" width="12" height="12" fill="#aaaaaa"/><rect x="256" width="12" height="12" fill="#9d9d9d"/><rect x="268" width="12" height="12" fill="#aeaeae"/><rect x="280" width="12" height="12" fill="#bfbfbf"/><rect x="292" width="12" height="12" fill="#c7c7c7"/><rect x="304" width="12" height="12" fill="#cccccc"/><rect x="316" width="12" height="12" fill="#d3d3d3"/><rect x="328" width="12" height="12" fill="#dadada"/><rect x="340" width="12" height="12" fill="#e2e2e2"/><rect x="352" width="12" height="12" fill="#e8e8e8"/><rect x="364" width="12" height="12" fill="#eaeaea"/><rect x="376" width="12" height="12" fill="#eaeaea"/><rect x="388" width="12" height="12" fill="#eaeaea"/><rect x="400" width="12" height="12" fill="#eaeaea"/><rect x="412" width="12" height="12" fill="#eaeaea"/><rect x="424" width="12" height="12" fill="#eaeaea"/><rect x="436" width="12" height="12" fill="#eaeaea"/><rect x="448" width="12" height="12" fill="#eaeaea"/><rect x="460" width="12" height="12" fill="#eaeaea"/><rect x="472" width="12" height="12" fill="#eaeaea"/><rect x="484" width="12" height="12" fill="#eaeaea"/><rect x="496" width="12" height="12" fill="#eaeaea"/><rect x="508" width="12" height="12" fill="#eaeaea"/><rect x="580" width="12" height="12" fill="#eaeaea"/><rect x="592" width="12" height="12" fill="#e9e9e9"/><rect x="604" width="12" height="12" fill="#e7e7e7"/><rect x="616" width="12" height="12" fill="#e6e6e6"/><rect x="628" width="12" height="12" fill="#e0e0e0"/><rect x="640" width="12" height="12" fill="#dfdfdf"/><rect x="652" width="12" height="12" fill="#e2e2e2"/><rect x="664" width="12" height="12" fill="#e5e5e5"/><rect x="676" width="12" height="12" fill="#e8e8e8"/><rect x="688" width="12" height="12" fill="#eaeaea"/></g><g transform="translate(0 102)"><rect x="64" width="12" height="12" fill="#aeaeae"/><rect x="76" width="12" height="12" fill="#b8b8b8"/><rect x="88" width="12" height="12" fill="#c9c9c9"/><rect x="100" width="12" height="12" fill="#a2a2a2"/><rect x="112" width="12" height="12" fill="#aeaeae"/><rect x="124" width="12" height="12" fill="#aeaeae"/><rect x="136" width="12" height="12" fill="#adadad"/><rect x="148" width="12" height="12" fill="#b2b2b2"/><rect x="160" width="12" height="12" fill="#a0a0a0"/><rect x="172" width="12" height="12" fill="#9b9b9b"/><rect x="184" width="12" height="12" fill="#a5a5a5"/><rect x="196" width="12" height="12" fill="#aeaeae"/><rect x="208" width="12" height="12" fill="#aaaaaa"/><rect x="220" width="12" height="12" fill="#8e8e8e"/><rect x="232" width="12" height="12" fill="#9a9a9a"/><rect x="244" width="12" height="12" fill="#a2a2a2"/><rect x="256" width="12" height="12" fill="#a8a8a8"/><rect x="268" width="12" height="12" fill="#afafaf"/><rect x="280" width="12" height="12" fill="#c0c0c0"/><rect x="292" width="12" height="12" fill="#c7c7c7"/><rect x="304" width="12" height="12" fill="#cccccc"/><rect x="316" width="12" height="12" fill="#d3d3d3"/><rect x="328" width="12" height="12" fill="#dbdbdb"/><rect x="340" width="12" height="12" fill="#e2e2e2"/><rect x="352" width="12" height="12" fill="#e8e8e8"/><rect x="364" width="12" height="12" fill="#eaeaea"/><rect x="376" width="12" height="12" fill="#eaeaea"/><rect x="388" width="12" height="12" fill="#eaeaea"/><rect x="400" width="12" height="12" fill="#eaeaea"/><rect x="412" width="12" height="12" fill="#eaeaea"/><rect x="424" width="12" height="12" fill="#eaeaea"/><rect x="436" width="12" height="12" fill="#eaeaea"/><rect x="448" width="12" height="12" fill="#eaeaea"/><rect x="460" width="12" height="12" fill="#eaeaea"/><rect x="472" width="12" height="12" fill="#eaeaea"/><rect x="484" width="12" height="12" fill="#eaeaea"/><rect x="496" width="12" height="12" fill="#eaeaea"/><rect x="508" width="12" height="12" fill="#eaeaea"/><rect x="520" width="12" height="12" fill="#eaeaea"/><rect x="556" width="12" height="12" fill="#eaeaea"/><rect x="568" width="12" height="12" fill="#eaeaea"/><rect x="580" width="12" height="12" fill="#e9e9e9"/><rect x="592" width="12" height="12" fill="#e3e3e3"/><rect x="604" width="12" height="12" fill="#d7d7d7"/><rect x="616" width="12" height="12" fill="#dfdfdf"/><rect x="628" width="12" height="12" fill="#dbdbdb"/><rect x="640" width="12" height="12" fill="#dcdcdc"/><rect x="652" width="12" height="12" fill="#e4e4e4"/><rect x="664" width="12" height="12" fill="#e8e8e8"/><rect x="676" width="12" height="12" fill="#e9e9e9"/><rect x="688" width="12" height="12" fill="#eaeaea"/></g><g transform="translate(0 114)"><rect x="52" width="12" height="12" fill="#aeaeae"/><rect x="64" width="12" height="12" fill="#aeaeae"/><rect x="76" width="12" height="12" fill="#b2b2b2"/><rect x="88" width="12" height="12" fill="#acacac"/><rect x="100" width="12" height="12" fill="#a6a6a6"/><rect x="112" width="12" height="12" fill="#adadad"/><rect x="124" width="12" height="12" fill="#adadad"/><rect x="136" width="12" height="12" fill="#adadad"/><rect x="148" width="12" height="12" fill="#b3b3b3"/><rect x="160" width="12" height="12" fill="#b6b6b6"/><rect x="172" width="12" height="12" fill="#b4b4b4"/><rect x="184" width="12" height="12" fill="#b9b9b9"/><rect x="196" width="12" height="12" fill="#bababa"/><rect x="208" width="12" height="12" fill="#aaaaaa"/><rect x="220" width="12" height="12" fill="#8b8b8b"/><rect x="232" width="12" height="12" fill="#888888"/><rect x="244" width="12" height="12" fill="#9c9c9c"/><rect x="256" width="12" height="12" fill="#a8a8a8"/><rect x="268" width="12" height="12" fill="#afafaf"/><rect x="280" width="12" height="12" fill="#c1c1c1"/><rect x="292" width="12" height="12" fill="#c7c7c7"/><rect x="304" width="12" height="12" fill="#cccccc"/><rect x="316" width="12" height="12" fill="#d3d3d3"/><rect x="328" width="12" height="12" fill="#dbdbdb"/><rect x="340" width="12" height="12" fill="#e2e2e2"/><rect x="352" width="12" height="12" fill="#e8e8e8"/><rect x="364" width="12" height="12" fill="#eaeaea"/><rect x="376" width="12" height="12" fill="#eaeaea"/><rect x="388" width="12" height="12" fill="#eaeaea"/><rect x="400" width="12" height="12" fill="#eaeaea"/><rect x="412" width="12" height="12" fill="#eaeaea"/><rect x="424" width="12" height="12" fill="#eaeaea"/><rect x="436" width="12" height="12" fill="#eaeaea"/><rect x="448" width="12" height="12" fill="#eaeaea"/><rect x="460" width="12" height="12" fill="#eaeaea"/><rect x="472" width="12" height="12" fill="#eaeaea"/><rect x="484" width="12" height="12" fill="#eaeaea"/><rect x="496" width="12" height="12" fill="#eaeaea"/><rect x="508" width="12" height="12" fill="#eaeaea"/><rect x="520" width="12" height="12" fill="#eaeaea"/><rect x="544" width="12" height="12" fill="#eaeaea"/><rect x="556" width="12" height="12" fill="#eaeaea"/><rect x="568" width="12" height="12" fill="#e8e8e8"/><rect x="580" width="12" height="12" fill="#e5e5e5"/><rect x="592" width="12" height="12" fill="#dfdfdf"/><rect x="604" width="12" height="12" fill="#d7d7d7"/><rect x="616" width="12" height="12" fill="#e1e1e1"/><rect x="628" width="12" height="12" fill="#e3e3e3"/><rect x="640" width="12" height="12" fill="#e3e3e3"/><rect x="652" width="12" height="12" fill="#e8e8e8"/><rect x="664" width="12" height="12" fill="#eaeaea"/></g><g transform="translate(0 126)"><rect x="64" width="12" height="12" fill="#b0b0b0"/><rect x="76" width="12" height="12" fill="#b0b0b0"/><rect x="88" width="12" height="12" fill="#a5a5a5"/><rect x="100" width="12" height="12" fill="#a9a9a9"/><rect x="112" width="12" height="12" fill="#adadad"/><rect x="124" width="12" height="12" fill="#acacac"/><rect x="136" width="12" height="12" fill="#ababab"/><rect x="148" width="12" height="12" fill="#ababab"/><rect x="160" width="12" height="12" fill="#adadad"/><rect x="172" width="12" height="12" fill="#b0b0b0"/><rect x="184" width="12" height="12" fill="#afafaf"/><rect x="196" width="12" height="12" fill="#ababab"/><rect x="208" width="12" height="12" fill="#a7a7a7"/><rect x="220" width="12" height="12" fill="#9f9f9f"/><rect x="232" width="12" height="12" fill="#949494"/><rect x="244" width="12" height="12" fill="#939393"/><rect x="256" width="12" height="12" fill="#9e9e9e"/><rect x="268" width="12" height="12" fill="#adadad"/><rect x="280" width="12" height="12" fill="#c1c1c1"/><rect x="292" width="12" height="12" fill="#c7c7c7"/><rect x="304" width="12" height="12" fill="#cccccc"/><rect x="316" width="12" height="12" fill="#d3d3d3"/><rect x="328" width="12" height="12" fill="#dbdbdb"/><rect x="340" width="12" height="12" fill="#e2e2e2"/><rect x="352" width="12" height="12" fill="#e8e8e8"/><rect x="364" width="12" height="12" fill="#eaeaea"/><rect x="376" width="12" height="12" fill="#eaeaea"/><rect x="388" width="12" height="12" fill="#eaeaea"/><rect x="400" width="12" height="12" fill="#eaeaea"/><rect x="412" width="12" height="12" fill="#eaeaea"/><rect x="424" width="12" height="12" fill="#eaeaea"/><rect x="436" width="12" height="12" fill="#eaeaea"/><rect x="448" width="12" height="12" fill="#eaeaea"/><rect x="460" width="12" height="12" fill="#eaeaea"/><rect x="472" width="12" height="12" fill="#eaeaea"/><rect x="484" width="12" height="12" fill="#eaeaea"/><rect x="496" width="12" height="12" fill="#eaeaea"/><rect x="508" width="12" height="12" fill="#eaeaea"/><rect x="520" width="12" height="12" fill="#eaeaea"/><rect x="532" width="12" height="12" fill="#eaeaea"/><rect x="544" width="12" height="12" fill="#eaeaea"/><rect x="556" width="12" height="12" fill="#e8e8e8"/><rect x="568" width="12" height="12" fill="#e3e3e3"/><rect x="580" width="12" height="12" fill="#dbdbdb"/><rect x="592" width="12" height="12" fill="#d7d7d7"/><rect x="604" width="12" height="12" fill="#d6d6d6"/><rect x="616" width="12" height="12" fill="#e2e2e2"/><rect x="628" width="12" height="12" fill="#e9e9e9"/><rect x="640" width="12" height="12" fill="#e9e9e9"/><rect x="652" width="12" height="12" fill="#eaeaea"/></g><g transform="translate(0 138)"><rect x="64" width="12" height="12" fill="#d9d9d9"/><rect x="76" width="12" height="12" fill="#d9d9d9"/><rect x="88" width="12" height="12" fill="#d0d0d0"/><rect x="100" width="12" height="12" fill="#adadad"/><rect x="112" width="12" height="12" fill="#acacac"/><rect x="124" width="12" height="12" fill="#ababab"/><rect x="136" width="12" height="12" fill="#aaaaaa"/><rect x="148" width="12" height="12" fill="#aaaaaa"/><rect x="160" width="12" height="12" fill="#aaaaaa"/><rect x="172" width="12" height="12" fill="#ababab"/><rect x="184" width="12" height="12" fill="#acacac"/><rect x="196" width="12" height="12" fill="#a6a6a6"/><rect x="208" width="12" height="12" fill="#a4a4a4"/><rect x="220" width="12" height="12" fill="#a9a9a9"/><rect x="232" width="12" height="12" fill="#a5a5a5"/><rect x="244" width="12" height="12" fill="#989898"/><rect x="256" width="12" height="12" fill="#949494"/><rect x="268" width="12" height="12" fill="#a8a8a8"/><rect x="280" width="12" height="12" fill="#c1c1c1"/><rect x="292" width="12" height="12" fill="#c7c7c7"/><rect x="304" width="12" height="12" fill="#cccccc"/><rect x="316" width="12" height="12" fill="#d3d3d3"/><rect x="328" width="12" height="12" fill="#dbdbdb"/><rect x="340" width="12" height="12" fill="#e2e2e2"/><rect x="352" width="12" height="12" fill="#e8e8e8"/><rect x="364" width="12" height="12" fill="#eaeaea"/><rect x="376" width="12" height="12" fill="#eaeaea"/><rect x="388" width="12" height="12" fill="#eaeaea"/><rect x="400" width="12" height="12" fill="#eaeaea"/><rect x="412" width="12" height="12" fill="#eaeaea"/><rect x="424" width="12" height="12" fill="#eaeaea"/><rect x="436" width="12" height="12" fill="#eaeaea"/><rect x="448" width="12" height="12" fill="#eaeaea"/><rect x="460" width="12" height="12" fill="#eaeaea"/><rect x="472" width="12" height="12" fill="#eaeaea"/><rect x="484" width="12" height="12" fill="#eaeaea"/><rect x="496" width="12" height="12" fill="#eaeaea"/><rect x="508" width="12" height="12" fill="#eaeaea"/><rect x="520" width="12" height="12" fill="#eaeaea"/><rect x="532" width="12" height="12" fill="#eaeaea"/><rect x="544" width="12" height="12" fill="#e8e8e8"/><rect x="556" width="12" height="12" fill="#e2e2e2"/><rect x="568" width="12" height="12" fill="#d9d9d9"/><rect x="580" width="12" height="12" fill="#d6d6d6"/><rect x="592" width="12" height="12" fill="#d9d9d9"/><rect x="604" width="12" height="12" fill="#dddddd"/><rect x="616" width="12" height="12" fill="#e4e4e4"/><rect x="628" width="12" height="12" fill="#eaeaea"/><rect x="640" width="12" height="12" fill="#eaeaea"/><rect x="652" width="12" height="12" fill="#eaeaea"/><rect x="664" width="12" height="12" fill="#eaeaea"/></g><g transform="translate(0 150)"><rect x="52" width="12" height="12" fill="#d9d9d9"/><rect x="64" width="12" height="12" fill="#d9d9d9"/><rect x="76" width="12" height="12" fill="#dedede"/><rect x="88" width="12" height="12" fill="#fcfcfc"/><rect x="100" width="12" height="12" fill="#8d8d8d"/><rect x="112" width="12" height="12" fill="#ababab"/><rect x="124" width="12" height="12" fill="#aaaaaa"/><rect x="136" width="12" height="12" fill="#a9a9a9"/><rect x="148" width="12" height="12" fill="#a9a9a9"/><rect x="160" width="12" height="12" fill="#a9a9a9"/><rect x="172" width="12" height="12" fill="#aaaaaa"/><rect x="184" width="12" height="12" fill="#ababab"/><rect x="196" width="12" height="12" fill="#a5a5a5"/><rect x="208" width="12" height="12" fill="#9a9a9a"/><rect x="220" width="12" height="12" fill="#9c9c9c"/><rect x="232" width="12" height="12" fill="#a8a8a8"/><rect x="244" width="12" height="12" fill="#9e9e9e"/><rect x="256" width="12" height="12" fill="#8c8c8c"/><rect x="268" width="12" height="12" fill="#9f9f9f"/><rect x="280" width="12" height="12" fill="#c0c0c0"/><rect x="292" width="12" height="12" fill="#c7c7c7"/><rect x="304" width="12" height="12" fill="#cdcdcd"/><rect x="316" width="12" height="12" fill="#d4d4d4"/><rect x="328" width="12" height="12" fill="#dbdbdb"/><rect x="340" width="12" height="12" fill="#e2e2e2"/><rect x="352" width="12" height="12" fill="#e8e8e8"/><rect x="364" width="12" height="12" fill="#eaeaea"/><rect x="376" width="12" height="12" fill="#eaeaea"/><rect x="388" width="12" height="12" fill="#eaeaea"/><rect x="400" width="12" height="12" fill="#eaeaea"/><rect x="412" width="12" height="12" fill="#eaeaea"/><rect x="424" width="12" height="12" fill="#eaeaea"/><rect x="436" width="12" height="12" fill="#eaeaea"/><rect x="448" width="12" height="12" fill="#eaeaea"/><rect x="460" width="12" height="12" fill="#eaeaea"/><rect x="472" width="12" height="12" fill="#eaeaea"/><rect x="484" width="12" height="12" fill="#eaeaea"/><rect x="496" width="12" height="12" fill="#eaeaea"/><rect x="508" width="12" height="12" fill="#eaeaea"/><rect x="520" width="12" height="12" fill="#eaeaea"/><rect x="532" width="12" height="12" fill="#eaeaea"/><rect x="544" width="12" height="12" fill="#e5e5e5"/><rect x="556" width="12" height="12" fill="#d9d9d9"/><rect x="568" width="12" height="12" fill="#d6d6d6"/><rect x="580" width="12" height="12" fill="#dddddd"/><rect x="592" width="12" height="12" fill="#e4e4e4"/><rect x="604" width="12" height="12" fill="#e7e7e7"/><rect x="616" width="12" height="12" fill="#e9e9e9"/><rect x="628" width="12" height="12" fill="#eaeaea"/><rect x="640" width="12" height="12" fill="#eaeaea"/></g><g transform="translate(0 162)"><rect x="64" width="12" height="12" fill="#d9d9d9"/><rect x="76" width="12" height="12" fill="#e4e4e4"/><rect x="88" width="12" height="12" fill="#fcfcfc"/><rect x="100" width="12" height="12" fill="#888888"/><rect x="112" width="12" height="12" fill="#a7a7a7"/><rect x="124" width="12" height="12" fill="#aaaaaa"/><rect x="136" width="12" height="12" fill="#a9a9a9"/><rect x="148" width="12" height="12" fill="#a9a9a9"/><rect x="160" width="12" height="12" fill="#a9a9a9"/><rect x="172" width="12" height="12" fill="#aaaaaa"/><rect x="184" width="12" height="12" fill="#ababab"/><rect x="196" width="12" height="12" fill="#a4a4a4"/><rect x="208" width="12" height="12" fill="#a7a7a7"/><rect x="220" width="12" height="12" fill="#adadad"/><rect x="232" width="12" height="12" fill="#ababab"/><rect x="244" width="12" height="12" fill="#9d9d9d"/><rect x="256" width="12" height="12" fill="#848484"/><rect x="268" width="12" height="12" fill="#999999"/><rect x="280" width="12" height="12" fill="#bfbfbf"/><rect x="292" width="12" height="12" fill="#c7c7c7"/><rect x="304" width="12" height="12" fill="#cdcdcd"/><rect x="316" width="12" height="12" fill="#d4d4d4"/><rect x="328" width="12" height="12" fill="#dbdbdb"/><rect x="340" width="12" height="12" fill="#e3e3e3"/><rect x="352" width="12" height="12" fill="#e8e8e8"/><rect x="364" width="12" height="12" fill="#eaeaea"/><rect x="376" width="12" height="12" fill="#eaeaea"/><rect x="388" width="12" height="12" fill="#eaeaea"/><rect x="400" width="12" height="12" fill="#eaeaea"/><rect x="412" width="12" height="12" fill="#eaeaea"/><rect x="424" width="12" height="12" fill="#eaeaea"/><rect x="436" width="12" height="12" fill="#eaeaea"/><rect x="448" width="12" height="12" fill="#eaeaea"/><rect x="460" width="12" height="12" fill="#eaeaea"/><rect x="472" width="12" height="12" fill="#eaeaea"/><rect x="484" width="12" height="12" fill="#eaeaea"/><rect x="496" width="12" height="12" fill="#eaeaea"/><rect x="508" width="12" height="12" fill="#eaeaea"/><rect x="520" width="12" height="12" fill="#eaeaea"/><rect x="532" width="12" height="12" fill="#e8e8e8"/><rect x="544" width="12" height="12" fill="#dfdfdf"/><rect x="556" width="12" height="12" fill="#d6d6d6"/><rect x="568" width="12" height="12" fill="#dddddd"/><rect x="580" width="12" height="12" fill="#e5e5e5"/><rect x="592" width="12" height="12" fill="#e9e9e9"/><rect x="604" width="12" height="12" fill="#eaeaea"/><rect x="616" width="12" height="12" fill="#eaeaea"/></g><g transform="translate(0 174)"><rect x="64" width="12" height="12" fill="#d9d9d9"/><rect x="76" width="12" height="12" fill="#dddddd"/><rect x="88" width="12" height="12" fill="#fcfcfc"/><rect x="100" width="12" height="12" fill="#b6b6b6"/><rect x="112" width="12" height="12" fill="#898989"/><rect x="124" width="12" height="12" fill="#aaaaaa"/><rect x="136" width="12" height="12" fill="#aaaaaa"/><rect x="148" width="12" height="12" fill="#a9a9a9"/><rect x="160" width="12" height="12" fill="#aaaaaa"/><rect x="172" width="12" height="12" fill="#ababab"/><rect x="184" width="12" height="12" fill="#acacac"/><rect x="196" width="12" height="12" fill="#ababab"/><rect x="208" width="12" height="12" fill="#acacac"/><rect x="220" width="12" height="12" fill="#adadad"/><rect x="232" width="12" height="12" fill="#aaaaaa"/><rect x="244" width="12" height="12" fill="#9b9b9b"/><rect x="256" width="12" height="12" fill="#818181"/><rect x="268" width="12" height="12" fill="#969696"/><rect x="280" width="12" height="12" fill="#bfbfbf"/><rect x="292" width="12" height="12" fill="#c7c7c7"/><rect x="304" width="12" height="12" fill="#cdcdcd"/><rect x="316" width="12" height="12" fill="#d4d4d4"/><rect x="328" width="12" height="12" fill="#dcdcdc"/><rect x="340" width="12" height="12" fill="#e3e3e3"/><rect x="352" width="12" height="12" fill="#e8e8e8"/><rect x="364" width="12" height="12" fill="#eaeaea"/><rect x="376" width="12" height="12" fill="#eaeaea"/><rect x="388" width="12" height="12" fill="#eaeaea"/><rect x="400" width="12" height="12" fill="#eaeaea"/><rect x="412" width="12" height="12" fill="#eaeaea"/><rect x="424" width="12" height="12" fill="#eaeaea"/><rect x="436" width="12" height="12" fill="#eaeaea"/><rect x="448" width="12" height="12" fill="#eaeaea"/><rect x="460" width="12" height="12" fill="#eaeaea"/><rect x="472" width="12" height="12" fill="#eaeaea"/><rect x="484" width="12" height="12" fill="#eaeaea"/><rect x="496" width="12" height="12" fill="#eaeaea"/><rect x="508" width="12" height="12" fill="#eaeaea"/><rect x="520" width="12" height="12" fill="#e9e9e9"/><rect x="532" width="12" height="12" fill="#e2e2e2"/><rect x="544" width="12" height="12" fill="#d8d8d8"/><rect x="556" width="12" height="12" fill="#d8d8d8"/><rect x="568" width="12" height="12" fill="#e4e4e4"/><rect x="580" width="12" height="12" fill="#e9e9e9"/><rect x="592" width="12" height="12" fill="#eaeaea"/><rect x="604" width="12" height="12" fill="#eaeaea"/><rect x="616" width="12" height="12" fill="#eaeaea"/></g><g transform="translate(0 186)"><rect x="64" width="12" height="12" fill="#d9d9d9"/><rect x="76" width="12" height="12" fill="#dadada"/><rect x="88" width="12" height="12" fill="#f2f2f2"/><rect x="100" width="12" height="12" fill="#eeeeee"/><rect x="112" width="12" height="12" fill="#8b8b8b"/><rect x="124" width="12" height="12" fill="#9d9d9d"/><rect x="136" width="12" height="12" fill="#ababab"/><rect x="148" width="12" height="12" fill="#ababab"/><rect x="160" width="12" height="12" fill="#ababab"/><rect x="172" width="12" height="12" fill="#acacac"/><rect x="184" width="12" height="12" fill="#acacac"/><rect x="196" width="12" height="12" fill="#adadad"/><rect x="208" width="12" height="12" fill="#adadad"/><rect x="220" width="12" height="12" fill="#adadad"/><rect x="232" width="12" height="12" fill="#ababab"/><rect x="244" width="12" height="12" fill="#9f9f9f"/><rect x="256" width="12" height="12" fill="#888888"/><rect x="268" width="12" height="12" fill="#979797"/><rect x="280" width="12" height="12" fill="#bfbfbf"/><rect x="292" width="12" height="12" fill="#c8c8c8"/><rect x="304" width="12" height="12" fill="#cdcdcd"/><rect x="316" width="12" height="12" fill="#d4d4d4"/><rect x="328" width="12" height="12" fill="#dcdcdc"/><rect x="340" width="12" height="12" fill="#e3e3e3"/><rect x="352" width="12" height="12" fill="#e8e8e8"/><rect x="364" width="12" height="12" fill="#eaeaea"/><rect x="376" width="12" height="12" fill="#eaeaea"/><rect x="388" width="12" height="12" fill="#eaeaea"/><rect x="400" width="12" height="12" fill="#e9e9e9"/><rect x="412" width="12" height="12" fill="#e9e9e9"/><rect x="424" width="12" height="12" fill="#e9e9e9"/><rect x="436" width="12" height="12" fill="#eaeaea"/><rect x="448" width="12" height="12" fill="#eaeaea"/><rect x="460" width="12" height="12" fill="#eaeaea"/><rect x="472" width="12" height="12" fill="#eaeaea"/><rect x="484" width="12" height="12" fill="#eaeaea"/><rect x="496" width="12" height="12" fill="#eaeaea"/><rect x="508" width="12" height="12" fill="#e9e9e9"/><rect x="520" width="12" height="12" fill="#e4e4e4"/><rect x="532" width="12" height="12" fill="#dadada"/><rect x="544" width="12" height="12" fill="#d6d6d6"/><rect x="556" width="12" height="12" fill="#dfdfdf"/><rect x="568" width="12" height="12" fill="#e8e8e8"/><rect x="580" width="12" height="12" fill="#eaeaea"/><rect x="592" width="12" height="12" fill="#eaeaea"/><rect x="604" width="12" height="12" fill="#eaeaea"/></g><g transform="translate(0 198)"><rect x="76" width="12" height="12" fill="#d9d9d9"/><rect x="88" width="12" height="12" fill="#cccccc"/><rect x="100" width="12" height="12" fill="#fafafa"/><rect x="112" width="12" height="12" fill="#c7c7c7"/><rect x="124" width="12" height="12" fill="#858585"/><rect x="136" width="12" height="12" fill="#b0b0b0"/><rect x="148" width="12" height="12" fill="#b0b0b0"/><rect x="160" width="12" height="12" fill="#afafaf"/><rect x="172" width="12" height="12" fill="#aeaeae"/><rect x="184" width="12" height="12" fill="#adadad"/><rect x="196" width="12" height="12" fill="#adadad"/><rect x="208" width="12" height="12" fill="#adadad"/><rect x="220" width="12" height="12" fill="#adadad"/><rect x="232" width="12" height="12" fill="#acacac"/><rect x="244" width="12" height="12" fill="#a6a6a6"/><rect x="256" width="12" height="12" fill="#949494"/><rect x="268" width="12" height="12" fill="#9a9a9a"/><rect x="280" width="12" height="12" fill="#bfbfbf"/><rect x="292" width="12" height="12" fill="#c8c8c8"/><rect x="304" width="12" height="12" fill="#cdcdcd"/><rect x="316" width="12" height="12" fill="#d4d4d4"/><rect x="328" width="12" height="12" fill="#dcdcdc"/><rect x="340" width="12" height="12" fill="#e3e3e3"/><rect x="352" width="12" height="12" fill="#e8e8e8"/><rect x="364" width="12" height="12" fill="#eaeaea"/><rect x="376" width="12" height="12" fill="#eaeaea"/><rect x="388" width="12" height="12" fill="#e8e8e8"/><rect x="400" width="12" height="12" fill="#e6e6e6"/><rect x="412" width="12" height="12" fill="#e5e5e5"/><rect x="424" width="12" height="12" fill="#e7e7e7"/><rect x="436" width="12" height="12" fill="#e9e9e9"/><rect x="448" width="12" height="12" fill="#eaeaea"/><rect x="460" width="12" height="12" fill="#eaeaea"/><rect x="472" width="12" height="12" fill="#eaeaea"/><rect x="484" width="12" height="12" fill="#eaeaea"/><rect x="496" width="12" height="12" fill="#e8e8e8"/><rect x="508" width="12" height="12" fill="#e2e2e2"/><rect x="520" width="12" height="12" fill="#dadada"/><rect x="532" width="12" height="12" fill="#d6d6d6"/><rect x="544" width="12" height="12" fill="#dcdcdc"/><rect x="556" width="12" height="12" fill="#e6e6e6"/><rect x="568" width="12" height="12" fill="#eaeaea"/><rect x="580" width="12" height="12" fill="#eaeaea"/><rect x="592" width="12" height="12" fill="#eaeaea"/><rect x="604" width="12" height="12" fill="#eaeaea"/></g><g transform="translate(0 210)"><rect x="76" width="12" height="12" fill="#d9d9d9"/><rect x="88" width="12" height="12" fill="#c0c0c0"/><rect x="100" width="12" height="12" fill="#d2d2d2"/><rect x="112" width="12" height="12" fill="#f6f6f6"/><rect x="124" width="12" height="12" fill="#898989"/><rect x="136" width="12" height="12" fill="#bbbbbb"/><rect x="148" width="12" height="12" fill="#bebebe"/><rect x="160" width="12" height="12" fill="#b8b8b8"/><rect x="172" width="12" height="12" fill="#b2b2b2"/><rect x="184" width="12" height="12" fill="#aeaeae"/><rect x="196" width="12" height="12" fill="#adadad"/><rect x="208" width="12" height="12" fill="#adadad"/><rect x="220" width="12" height="12" fill="#adadad"/><rect x="232" width="12" height="12" fill="#adadad"/><rect x="244" width="12" height="12" fill="#ababab"/><rect x="256" width="12" height="12" fill="#9c9c9c"/><rect x="268" width="12" height="12" fill="#9a9a9a"/><rect x="280" width="12" height="12" fill="#bebebe"/><rect x="292" width="12" height="12" fill="#c8c8c8"/><rect x="304" width="12" height="12" fill="#cdcdcd"/><rect x="316" width="12" height="12" fill="#d4d4d4"/><rect x="328" width="12" height="12" fill="#dcdcdc"/><rect x="340" width="12" height="12" fill="#e3e3e3"/><rect x="352" width="12" height="12" fill="#e8e8e8"/><rect x="364" width="12" height="12" fill="#eaeaea"/><rect x="376" width="12" height="12" fill="#eaeaea"/><rect x="388" width="12" height="12" fill="#e8e8e8"/><rect x="400" width="12" height="12" fill="#e6e6e6"/><rect x="412" width="12" height="12" fill="#e5e5e5"/><rect x="424" width="12" height="12" fill="#e7e7e7"/><rect x="436" width="12" height="12" fill="#e9e9e9"/><rect x="448" width="12" height="12" fill="#eaeaea"/><rect x="460" width="12" height="12" fill="#eaeaea"/><rect x="472" width="12" height="12" fill="#eaeaea"/><rect x="484" width="12" height="12" fill="#e8e8e8"/><rect x="496" width="12" height="12" fill="#e2e2e2"/><rect x="508" width="12" height="12" fill="#d9d9d9"/><rect x="520" width="12" height="12" fill="#d6d6d6"/><rect x="532" width="12" height="12" fill="#dbdbdb"/><rect x="544" width="12" height="12" fill="#e4e4e4"/><rect x="556" width="12" height="12" fill="#e9e9e9"/><rect x="568" width="12" height="12" fill="#eaeaea"/><rect x="580" width="12" height="12" fill="#eaeaea"/><rect x="592" width="12" height="12" fill="#eaeaea"/><rect x="604" width="12" height="12" fill="#eaeaea"/></g><g transform="translate(0 222)"><rect x="88" width="12" height="12" fill="#bcbcbc"/><rect x="100" width="12" height="12" fill="#b6b6b6"/><rect x="112" width="12" height="12" fill="#fcfcfc"/><rect x="124" width="12" height="12" fill="#c4c4c4"/><rect x="136" width="12" height="12" fill="#c8c8c8"/><rect x="148" width="12" height="12" fill="#cccccc"/><rect x="160" width="12" height="12" fill="#c5c5c5"/><rect x="172" width="12" height="12" fill="#b9b9b9"/><rect x="184" width="12" height="12" fill="#aeaeae"/><rect x="196" width="12" height="12" fill="#a7a7a7"/><rect x="208" width="12" height="12" fill="#a5a5a5"/><rect x="220" width="12" height="12" fill="#a8a8a8"/><rect x="232" width="12" height="12" fill="#acacac"/><rect x="244" width="12" height="12" fill="#acacac"/><rect x="256" width="12" height="12" fill="#a1a1a1"/><rect x="268" width="12" height="12" fill="#9e9e9e"/><rect x="280" width="12" height="12" fill="#bebebe"/><rect x="292" width="12" height="12" fill="#c8c8c8"/><rect x="304" width="12" height="12" fill="#cecece"/><rect x="316" width="12" height="12" fill="#d5d5d5"/><rect x="328" width="12" height="12" fill="#dddddd"/><rect x="340" width="12" height="12" fill="#e4e4e4"/><rect x="352" width="12" height="12" fill="#e9e9e9"/><rect x="364" width="12" height="12" fill="#ebebeb"/><rect x="376" width="12" height="12" fill="#ebebeb"/><rect x="388" width="12" height="12" fill="#ebebeb"/><rect x="400" width="12" height="12" fill="#eaeaea"/><rect x="412" width="12" height="12" fill="#eaeaea"/><rect x="424" width="12" height="12" fill="#eaeaea"/><rect x="436" width="12" height="12" fill="#ebebeb"/><rect x="448" width="12" height="12" fill="#ebebeb"/><rect x="460" width="12" height="12" fill="#ebebeb"/><rect x="472" width="12" height="12" fill="#eaeaea"/><rect x="484" width="12" height="12" fill="#e2e2e2"/><rect x="496" width="12" height="12" fill="#d9d9d9"/><rect x="508" width="12" height="12" fill="#d7d7d7"/><rect x="520" width="12" height="12" fill="#dedede"/><rect x="532" width="12" height="12" fill="#e5e5e5"/><rect x="544" width="12" height="12" fill="#e9e9e9"/><rect x="556" width="12" height="12" fill="#eaeaea"/><rect x="568" width="12" height="12" fill="#eaeaea"/><rect x="580" width="12" height="12" fill="#eaeaea"/><rect x="592" width="12" height="12" fill="#eaeaea"/><rect x="604" width="12" height="12" fill="#eaeaea"/></g><g transform="translate(0 234)"><rect x="88" width="12" height="12" fill="#b9b9b9"/><rect x="100" width="12" height="12" fill="#afafaf"/><rect x="112" width="12" height="12" fill="#bdbdbd"/><rect x="124" width="12" height="12" fill="#bcbcbc"/><rect x="136" width="12" height="12" fill="#c8c8c8"/><rect x="148" width="12" height="12" fill="#d4d4d4"/><rect x="160" width="12" height="12" fill="#d7d7d7"/><rect x="172" width="12" height="12" fill="#cfcfcf"/><rect x="184" width="12" height="12" fill="#c2c2c2"/><rect x="196" width="12" height="12" fill="#b5b5b5"/><rect x="208" width="12" height="12" fill="#adadad"/><rect x="220" width="12" height="12" fill="#acacac"/><rect x="232" width="12" height="12" fill="#adadad"/><rect x="244" width="12" height="12" fill="#adadad"/><rect x="256" width="12" height="12" fill="#a9a9a9"/><rect x="268" width="12" height="12" fill="#aeaeae"/><rect x="280" width="12" height="12" fill="#c3c3c3"/><rect x="292" width="12" height="12" fill="#c8c8c8"/><rect x="304" width="12" height="12" fill="#cecece"/><rect x="316" width="12" height="12" fill="#d6d6d6"/><rect x="328" width="12" height="12" fill="#dedede"/><rect x="340" width="12" height="12" fill="#e5e5e5"/><rect x="352" width="12" height="12" fill="#ebebeb"/><rect x="364" width="12" height="12" fill="#ededed"/><rect x="376" width="12" height="12" fill="#ededed"/><rect x="388" width="12" height="12" fill="#ededed"/><rect x="400" width="12" height="12" fill="#ededed"/><rect x="412" width="12" height="12" fill="#ededed"/><rect x="424" width="12" height="12" fill="#ededed"/><rect x="436" width="12" height="12" fill="#ededed"/><rect x="448" width="12" height="12" fill="#ededed"/><rect x="460" width="12" height="12" fill="#ededed"/><rect x="472" width="12" height="12" fill="#ebebeb"/><rect x="484" width="12" height="12" fill="#dfdfdf"/><rect x="496" width="12" height="12" fill="#d9d9d9"/><rect x="508" width="12" height="12" fill="#e1e1e1"/><rect x="520" width="12" height="12" fill="#e8e8e8"/><rect x="532" width="12" height="12" fill="#ebebeb"/><rect x="544" width="12" height="12" fill="#eaeaea"/><rect x="556" width="12" height="12" fill="#eaeaea"/><rect x="568" width="12" height="12" fill="#eaeaea"/><rect x="580" width="12" height="12" fill="#eaeaea"/><rect x="592" width="12" height="12" fill="#eaeaea"/></g><g transform="translate(0 246)"><rect x="112" width="12" height="12" fill="#b1b1b1"/><rect x="124" width="12" height="12" fill="#b7b7b7"/><rect x="136" width="12" height="12" fill="#c6c6c6"/><rect x="148" width="12" height="12" fill="#dddddd"/><rect x="160" width="12" height="12" fill="#efefef"/><rect x="172" width="12" height="12" fill="#f1f1f1"/><rect x="184" width="12" height="12" fill="#e6e6e6"/><rect x="196" width="12" height="12" fill="#d2d2d2"/><rect x="208" width="12" height="12" fill="#bebebe"/><rect x="220" width="12" height="12" fill="#b3b3b3"/><rect x="232" width="12" height="12" fill="#afafaf"/><rect x="244" width="12" height="12" fill="#afafaf"/><rect x="256" width="12" height="12" fill="#aeaeae"/><rect x="268" width="12" height="12" fill="#b6b6b6"/><rect x="280" width="12" height="12" fill="#c6c6c6"/><rect x="292" width="12" height="12" fill="#cacaca"/><rect x="304" width="12" height="12" fill="#d0d0d0"/><rect x="316" width="12" height="12" fill="#d8d8d8"/><rect x="328" width="12" height="12" fill="#e0e0e0"/><rect x="340" width="12" height="12" fill="#e8e8e8"/><rect x="352" width="12" height="12" fill="#ededed"/><rect x="364" width="12" height="12" fill="#f0f0f0"/><rect x="376" width="12" height="12" fill="#f0f0f0"/><rect x="388" width="12" height="12" fill="#f0f0f0"/><rect x="400" width="12" height="12" fill="#f0f0f0"/><rect x="412" width="12" height="12" fill="#f0f0f0"/><rect x="424" width="12" height="12" fill="#f0f0f0"/><rect x="436" width="12" height="12" fill="#f0f0f0"/><rect x="448" width="12" height="12" fill="#f0f0f0"/><rect x="460" width="12" height="12" fill="#f0f0f0"/><rect x="472" width="12" height="12" fill="#eeeeee"/><rect x="484" width="12" height="12" fill="#e8e8e8"/><rect x="496" width="12" height="12" fill="#e5e5e5"/><rect x="508" width="12" height="12" fill="#ececec"/><rect x="520" width="12" height="12" fill="#eeeeee"/><rect x="532" width="12" height="12" fill="#ededed"/><rect x="544" width="12" height="12" fill="#ebebeb"/><rect x="556" width="12" height="12" fill="#eaeaea"/><rect x="568" width="12" height="12" fill="#eaeaea"/><rect x="580" width="12" height="12" fill="#eaeaea"/></g><g transform="translate(0 258)"><rect x="124" width="12" height="12" fill="#b9b9b9"/><rect x="136" width="12" height="12" fill="#c4c4c4"/><rect x="148" width="12" height="12" fill="#dadada"/><rect x="160" width="12" height="12" fill="#ececec"/><rect x="172" width="12" height="12" fill="#f2f2f2"/><rect x="184" width="12" height="12" fill="#ebebeb"/><rect x="196" width="12" height="12" fill="#d8d8d8"/><rect x="208" width="12" height="12" fill="#c3c3c3"/><rect x="220" width="12" height="12" fill="#b8b8b8"/><rect x="232" width="12" height="12" fill="#b4b4b4"/><rect x="244" width="12" height="12" fill="#b4b4b4"/><rect x="256" width="12" height="12" fill="#b4b4b4"/><rect x="268" width="12" height="12" fill="#bcbcbc"/><rect x="280" width="12" height="12" fill="#cbcbcb"/><rect x="292" width="12" height="12" fill="#cfcfcf"/><rect x="304" width="12" height="12" fill="#d4d4d4"/><rect x="316" width="12" height="12" fill="#dbdbdb"/><rect x="328" width="12" height="12" fill="#e3e3e3"/><rect x="340" width="12" height="12" fill="#eaeaea"/><rect x="352" width="12" height="12" fill="#efefef"/><rect x="364" width="12" height="12" fill="#f2f2f2"/><rect x="376" width="12" height="12" fill="#f2f2f2"/><rect x="388" width="12" height="12" fill="#f2f2f2"/><rect x="400" width="12" height="12" fill="#f2f2f2"/><rect x="412" width="12" height="12" fill="#f2f2f2"/><rect x="424" width="12" height="12" fill="#f2f2f2"/><rect x="436" width="12" height="12" fill="#f2f2f2"/><rect x="448" width="12" height="12" fill="#f2f2f2"/><rect x="460" width="12" height="12" fill="#f2f2f2"/><rect x="472" width="12" height="12" fill="#f2f2f2"/><rect x="484" width="12" height="12" fill="#f0f0f0"/><rect x="496" width="12" height="12" fill="#f0f0f0"/><rect x="508" width="12" height="12" fill="#f1f1f1"/><rect x="520" width="12" height="12" fill="#f1f1f1"/><rect x="532" width="12" height="12" fill="#eeeeee"/><rect x="544" width="12" height="12" fill="#ebebeb"/><rect x="556" width="12" height="12" fill="#eaeaea"/></g><g transform="translate(0 270)"><rect x="136" width="12" height="12" fill="#dbdbdb"/><rect x="160" width="12" height="12" fill="#ebebeb"/><rect x="172" width="12" height="12" fill="#ededed"/><rect x="184" width="12" height="12" fill="#eaeaea"/><rect x="196" width="12" height="12" fill="#e2e2e2"/><rect x="208" width="12" height="12" fill="#dadada"/><rect x="220" width="12" height="12" fill="#d5d5d5"/><rect x="232" width="12" height="12" fill="#d4d4d4"/><rect x="244" width="12" height="12" fill="#d4d4d4"/><rect x="256" width="12" height="12" fill="#d4d4d4"/><rect x="268" width="12" height="12" fill="#d4d4d4"/><rect x="280" width="12" height="12" fill="#d4d4d4"/><rect x="292" width="12" height="12" fill="#d7d7d7"/><rect x="304" width="12" height="12" fill="#dcdcdc"/><rect x="316" width="12" height="12" fill="#e2e2e2"/><rect x="328" width="12" height="12" fill="#e8e8e8"/><rect x="340" width="12" height="12" fill="#eeeeee"/><rect x="352" width="12" height="12" fill="#f4f4f4"/><rect x="364" width="12" height="12" fill="#f7f7f7"/><rect x="376" width="12" height="12" fill="#f7f7f7"/><rect x="388" width="12" height="12" fill="#f7f7f7"/><rect x="400" width="12" height="12" fill="#f7f7f7"/><rect x="412" width="12" height="12" fill="#f7f7f7"/><rect x="424" width="12" height="12" fill="#f7f7f7"/><rect x="436" width="12" height="12" fill="#f7f7f7"/><rect x="448" width="12" height="12" fill="#f7f7f7"/><rect x="460" width="12" height="12" fill="#f7f7f7"/><rect x="472" width="12" height="12" fill="#f7f7f7"/><rect x="484" width="12" height="12" fill="#f6f6f6"/><rect x="496" width="12" height="12" fill="#f6f6f6"/><rect x="508" width="12" height="12" fill="#f6f6f6"/><rect x="520" width="12" height="12" fill="#f6f6f6"/><rect x="532" width="12" height="12" fill="#f2f2f2"/><rect x="544" width="12" height="12" fill="#eeeeee"/></g><g transform="translate(0 282)"><rect x="196" width="12" height="12" fill="#e0e0e0"/><rect x="208" width="12" height="12" fill="#dfdfdf"/><rect x="220" width="12" height="12" fill="#dedede"/><rect x="232" width="12" height="12" fill="#dedede"/><rect x="244" width="12" height="12" fill="#dedede"/><rect x="256" width="12" height="12" fill="#dedede"/><rect x="268" width="12" height="12" fill="#dedede"/><rect x="280" width="12" height="12" fill="#dedede"/><rect x="292" width="12" height="12" fill="#e1e1e1"/><rect x="304" width="12" height="12" fill="#e5e5e5"/><rect x="316" width="12" height="12" fill="#e9e9e9"/><rect x="328" width="12" height="12" fill="#efefef"/><rect x="340" width="12" height="12" fill="#f4f4f4"/><rect x="352" width="12" height="12" fill="#fafafa"/><rect x="364" width="12" height="12" fill="#fcfcfc"/><rect x="376" width="12" height="12" fill="#fcfcfc"/><rect x="388" width="12" height="12" fill="#fcfcfc"/><rect x="400" width="12" height="12" fill="#fcfcfc"/><rect x="412" width="12" height="12" fill="#fcfcfc"/><rect x="424" width="12" height="12" fill="#fcfcfc"/><rect x="436" width="12" height="12" fill="#fcfcfc"/><rect x="448" width="12" height="12" fill="#fcfcfc"/><rect x="460" width="12" height="12" fill="#fcfcfc"/><rect x="472" width="12" height="12" fill="#fcfcfc"/><rect x="484" width="12" height="12" fill="#fcfcfc"/><rect x="496" width="12" height="12" fill="#fcfcfc"/><rect x="508" width="12" height="12" fill="#fcfcfc"/><rect x="520" width="12" height="12" fill="#fcfcfc"/><rect x="532" width="12" height="12" fill="#f7f7f7"/><rect x="544" width="12" height="12" fill="#f3f3f3"/></g><g transform="translate(0 294)"><rect x="268" width="12" height="12" fill="#e3e3e3"/><rect x="280" width="12" height="12" fill="#e3e3e3"/><rect x="292" width="12" height="12" fill="#e6e6e6"/><rect x="304" width="12" height="12" fill="#eaeaea"/><rect x="316" width="12" height="12" fill="#eeeeee"/><rect x="328" width="12" height="12" fill="#f3f3f3"/><rect x="340" width="12" height="12" fill="#f8f8f8"/><rect x="352" width="12" height="12" fill="#fcfcfc"/><rect x="364" width="12" height="12" fill="#fcfcfc"/><rect x="376" width="12" height="12" fill="#fcfcfc"/><rect x="388" width="12" height="12" fill="#fcfcfc"/><rect x="400" width="12" height="12" fill="#fcfcfc"/><rect x="412" width="12" height="12" fill="#fcfcfc"/><rect x="424" width="12" height="12" fill="#fcfcfc"/><rect x="436" width="12" height="12" fill="#fcfcfc"/><rect x="448" width="12" height="12" fill="#fcfcfc"/><rect x="460" width="12" height="12" fill="#fcfcfc"/><rect x="472" width="12" height="12" fill="#fcfcfc"/><rect x="484" width="12" height="12" fill="#fcfcfc"/><rect x="496" width="12" height="12" fill="#fcfcfc"/><rect x="508" width="12" height="12" fill="#fcfcfc"/><rect x="520" width="12" height="12" fill="#fcfcfc"/><rect x="532" width="12" height="12" fill="#fbfbfb"/><rect x="544" width="12" height="12" fill="#f7f7f7"/></g><g transform="translate(0 306)"><rect x="268" width="12" height="12" fill="#e3e3e3"/><rect x="280" width="12" height="12" fill="#e4e4e4"/><rect x="292" width="12" height="12" fill="#e6e6e6"/><rect x="304" width="12" height="12" fill="#eaeaea"/><rect x="316" width="12" height="12" fill="#eeeeee"/><rect x="328" width="12" height="12" fill="#f3f3f3"/><rect x="340" width="12" height="12" fill="#f9f9f9"/><rect x="352" width="12" height="12" fill="#fcfcfc"/><rect x="364" width="12" height="12" fill="#fcfcfc"/><rect x="376" width="12" height="12" fill="#fcfcfc"/><rect x="388" width="12" height="12" fill="#fcfcfc"/><rect x="400" width="12" height="12" fill="#fcfcfc"/><rect x="412" width="12" height="12" fill="#fcfcfc"/><rect x="424" width="12" height="12" fill="#fcfcfc"/><rect x="436" width="12" height="12" fill="#fcfcfc"/><rect x="448" width="12" height="12" fill="#fcfcfc"/><rect x="460" width="12" height="12" fill="#fcfcfc"/><rect x="496" width="12" height="12" fill="#fcfcfc"/><rect x="508" width="12" height="12" fill="#fcfcfc"/><rect x="520" width="12" height="12" fill="#fcfcfc"/><rect x="532" width="12" height="12" fill="#fbfbfb"/><rect x="544" width="12" height="12" fill="#f7f7f7"/><rect x="556" width="12" height="12" fill="#f7f7f7"/></g><g transform="translate(0 318)"><rect x="316" width="12" height="12" fill="#eeeeee"/><rect x="328" width="12" height="12" fill="#f3f3f3"/><rect x="340" width="12" height="12" fill="#f9f9f9"/><rect x="352" width="12" height="12" fill="#fcfcfc"/><rect x="364" width="12" height="12" fill="#fcfcfc"/><rect x="376" width="12" height="12" fill="#fcfcfc"/><rect x="508" width="12" height="12" fill="#fcfcfc"/><rect x="520" width="12" height="12" fill="#fcfcfc"/><rect x="532" width="12" height="12" fill="#fbfbfb"/><rect x="544" width="12" height="12" fill="#f7f7f7"/><rect x="556" width="12" height="12" fill="#f7f7f7"/></g><g transform="translate(0 330)"><rect x="316" width="12" height="12" fill="#eeeeee"/><rect x="328" width="12" height="12" fill="#f3f3f3"/><rect x="340" width="12" height="12" fill="#f9f9f9"/><rect x="352" width="12" height="12" fill="#fcfcfc"/><rect x="364" width="12" height="12" fill="#fcfcfc"/><rect x="520" width="12" height="12" fill="#fcfcfc"/><rect x="532" width="12" height="12" fill="#fbfbfb"/><rect x="544" width="12" height="12" fill="#f7f7f7"/><rect x="556" width="12" height="12" fill="#f7f7f7"/></g><g transform="translate(0 342)"><rect x="328" width="12" height="12" fill="#f4f4f4"/><rect x="340" width="12" height="12" fill="#f9f9f9"/><rect x="352" width="12" height="12" fill="#fcfcfc"/><rect x="364" width="12" height="12" fill="#fcfcfc"/><rect x="520" width="12" height="12" fill="#fcfcfc"/><rect x="532" width="12" height="12" fill="#fbfbfb"/><rect x="544" width="12" height="12" fill="#f7f7f7"/><rect x="556" width="12" height="12" fill="#f7f7f7"/></g><g transform="translate(0 354)"><rect x="340" width="12" height="12" fill="#f9f9f9"/><rect x="352" width="12" height="12" fill="#fcfcfc"/><rect x="364" width="12" height="12" fill="#fcfcfc"/><rect x="532" width="12" height="12" fill="#fbfbfb"/><rect x="544" width="12" height="12" fill="#f7f7f7"/><rect x="556" width="12" height="12" fill="#f7f7f7"/></g></g><g fill="none" stroke-linecap="round" stroke-linejoin="round" filter="url(#bl2)"><path d="M91.9 157.8L93.9 171 98.2 184.3 105.9 197.6 113.7 210.9 120.4 225.6" stroke="#fafafa" stroke-width="9" opacity="0.9"/><path d="M103.7 159.1L111.1 173.7 118.8 186.9 126.5 200.2 130 213.6 129.3 224.2" stroke="#6e6e6e" stroke-width="6" opacity="0.9"/><path d="M115.6 47.3L113 66.9 108 81.3 103.6 99.7 99.5 116.8 95.5 134" stroke="#8c8c8c" stroke-width="5" opacity="0.8"/><path d="M270.3 149.8L271.9 163.1 267.1 176.3 262.3 185.6 253.2 193.6 260.6 201.6 272.2 213.6 270.8 221.6" stroke="#5e5e5e" stroke-width="9" opacity="0.8"/><path d="M245.8 186.9L252.1 194.9" stroke="#686868" stroke-width="6" opacity="0.8"/><path d="M225 95.8L228.5 106.3 233.1 118.1 240 130" stroke="#6e6e6e" stroke-width="6" opacity="0.8"/><path d="M254.5 98.4L260.3 110.2" stroke="#7c7c7c" stroke-width="4" opacity="0.8"/><path d="M214.8 153.8L227.9 152.5" stroke="#747474" stroke-width="4" opacity="0.8"/><path d="M207.2 137.9L208.3 155.1 208.3 172.3 202.1 185.6" stroke="#7c7c7c" stroke-width="4" opacity="0.8"/><path d="M166.6 53.8L172.2 70.8 173.9 86.6 178 99.7 185.6 110.2" stroke="#808080" stroke-width="7" opacity="0.6"/><path d="M189.2 46L196.9 64.3 203 78.7 212.7 89.2" stroke="#868686" stroke-width="6" opacity="0.6"/><path d="M153.5 111.6L163.6 118.1 173.8 123.4 190 122.1 202.2 116.8 209 111.6" stroke="#b6b6b6" stroke-width="6" opacity="0.8"/><path d="M196.6 226.9L210.5 236.2 223.5 242.9 235.5 249.6" stroke="#8e8e8e" stroke-width="4" opacity="0.6"/><path d="M504.1 233.6L517.2 221.6 531.3 213.6 544.1 198.9 554.6 184.3 562.7 169.7 572.8 156.4 588.2 143.2" stroke="#d2d2d2" stroke-width="5" opacity="0.5"/><path d="M86.8 59.7L92.9 61" stroke="#9a9a9a" stroke-width="4" opacity="0.8"/><path d="M80.1 136.6L85.1 149.8 88.5 159.1" stroke="#a0a0a0" stroke-width="5" opacity="0.6"/><path d="M139 86.6L144.3 97.1 151.9 94.5" stroke="#959595" stroke-width="4" opacity="0.6"/></g></g><g clip-path="url(#frm)" fill="none" stroke="#000" stroke-linejoin="round" stroke-linecap="round"><use href="#st" stroke-width="1"/><use href="#cst" stroke-width="1.8"/><use href="#out" stroke-width="1.8"/><use href="#reg" stroke-width="3.4"/><use href="#dots" fill="#000" stroke="none"/><use href="#mec" stroke-width="2.8"/><use href="#pug" fill="#000" stroke="#000" stroke-width="1.5"/><use href="#bays" fill="#fff" stroke="#000" stroke-width="1.5"/><use href="#pam" fill="none" stroke="#000" stroke-width="1.2"/></g><use href="#fr" fill="none" stroke="#1a1a1a" stroke-width="3.8" stroke-linejoin="miter"/><g font-size="29.5" text-anchor="middle"><text x="122.5" y="108">1</text><text x="195.5" y="224.2">2</text><text x="287.5" y="107.5">3</text><text x="352.5" y="275">4</text><text x="452.5" y="140.7">5</text><text x="502.5" y="272.5">6</text><text x="594.5" y="141">7</text></g><rect x="761.5" y="31.1" width="34" height="333.5" fill="url(#cb0)" stroke="#222" stroke-width="1"/><path d="M795.6 356.5h-3.5" stroke="#222" stroke-width="0.8"/><text x="802.8" y="364.5" font-size="22.4">0</text><path d="M795.6 275.1h-3.5" stroke="#222" stroke-width="0.8"/><text x="802.8" y="283.1" font-size="22.4">1000</text><path d="M795.6 193.8h-3.5" stroke="#222" stroke-width="0.8"/><text x="802.8" y="201.8" font-size="22.4">2000</text><path d="M795.6 112.4h-3.5" stroke="#222" stroke-width="0.8"/><text x="802.8" y="120.4" font-size="22.4">3000</text><path d="M795.6 31.1h-3.5" stroke="#222" stroke-width="0.8"/><text x="802.8" y="39.1" font-size="22.4">4000</text></g><g transform="translate(894 0)"><g clip-path="url(#land)"><g class="c" filter="url(#bl)"><g transform="translate(0 30)"><rect x="88" width="12" height="12" fill="#fd933f"/><rect x="100" width="12" height="12" fill="#fd9841"/><rect x="112" width="12" height="12" fill="#fd9a41"/><rect x="124" width="12" height="12" fill="#fd923e"/><rect x="136" width="12" height="12" fill="#fd893b"/><rect x="148" width="12" height="12" fill="#fd8c3c"/><rect x="160" width="12" height="12" fill="#fd923e"/><rect x="172" width="12" height="12" fill="#fd9a42"/><rect x="184" width="12" height="12" fill="#fea145"/><rect x="196" width="12" height="12" fill="#fea044"/><rect x="208" width="12" height="12" fill="#fd9741"/><rect x="220" width="12" height="12" fill="#fd8b3b"/><rect x="232" width="12" height="12" fill="#fd6f33"/><rect x="244" width="12" height="12" fill="#fb4b29"/><rect x="256" width="12" height="12" fill="#f33c25"/><rect x="268" width="12" height="12" fill="#f13724"/><rect x="280" width="12" height="12" fill="#ef3223"/><rect x="292" width="12" height="12" fill="#ed2f22"/><rect x="304" width="12" height="12" fill="#ec2c21"/><rect x="316" width="12" height="12" fill="#ea2820"/><rect x="328" width="12" height="12" fill="#e8251f"/><rect x="340" width="12" height="12" fill="#e8251f"/><rect x="352" width="12" height="12" fill="#ea2820"/><rect x="364" width="12" height="12" fill="#ec2d21"/><rect x="376" width="12" height="12" fill="#ed2e22"/><rect x="388" width="12" height="12" fill="#ed2f22"/><rect x="400" width="12" height="12" fill="#ed2f22"/></g><g transform="translate(0 42)"><rect x="64" width="12" height="12" fill="#fd893b"/><rect x="76" width="12" height="12" fill="#fd8e3d"/><rect x="88" width="12" height="12" fill="#fd943f"/><rect x="100" width="12" height="12" fill="#fd9841"/><rect x="112" width="12" height="12" fill="#fd9740"/><rect x="124" width="12" height="12" fill="#fd8d3c"/><rect x="136" width="12" height="12" fill="#fd8339"/><rect x="148" width="12" height="12" fill="#fd8b3c"/><rect x="160" width="12" height="12" fill="#fd953f"/><rect x="172" width="12" height="12" fill="#fd9e43"/><rect x="184" width="12" height="12" fill="#fea446"/><rect x="196" width="12" height="12" fill="#fea145"/><rect x="208" width="12" height="12" fill="#fd9741"/><rect x="220" width="12" height="12" fill="#fd8a3b"/><rect x="232" width="12" height="12" fill="#fc6c33"/><rect x="244" width="12" height="12" fill="#fa4a29"/><rect x="256" width="12" height="12" fill="#f33c25"/><rect x="268" width="12" height="12" fill="#f13624"/><rect x="280" width="12" height="12" fill="#ef3223"/><rect x="292" width="12" height="12" fill="#ed2f22"/><rect x="304" width="12" height="12" fill="#ec2c21"/><rect x="316" width="12" height="12" fill="#e92720"/><rect x="328" width="12" height="12" fill="#e8251f"/><rect x="340" width="12" height="12" fill="#e8251f"/><rect x="352" width="12" height="12" fill="#ea2820"/><rect x="364" width="12" height="12" fill="#ec2d21"/><rect x="376" width="12" height="12" fill="#ed2e22"/><rect x="388" width="12" height="12" fill="#ed2f22"/><rect x="400" width="12" height="12" fill="#ed2f22"/><rect x="412" width="12" height="12" fill="#ed2f22"/><rect x="424" width="12" height="12" fill="#ec2e21"/></g><g transform="translate(0 54)"><rect x="64" width="12" height="12" fill="#fd8a3b"/><rect x="76" width="12" height="12" fill="#fd8f3d"/><rect x="88" width="12" height="12" fill="#fd943f"/><rect x="100" width="12" height="12" fill="#fd9740"/><rect x="112" width="12" height="12" fill="#fd933e"/><rect x="124" width="12" height="12" fill="#fd8139"/><rect x="136" width="12" height="12" fill="#fd7b37"/><rect x="148" width="12" height="12" fill="#fd8b3b"/><rect x="160" width="12" height="12" fill="#fd9841"/><rect x="172" width="12" height="12" fill="#fea245"/><rect x="184" width="12" height="12" fill="#fea647"/><rect x="196" width="12" height="12" fill="#fea245"/><rect x="208" width="12" height="12" fill="#fd9841"/><rect x="220" width="12" height="12" fill="#fd893b"/><rect x="232" width="12" height="12" fill="#fc6a32"/><rect x="244" width="12" height="12" fill="#f94828"/><rect x="256" width="12" height="12" fill="#f33b25"/><rect x="268" width="12" height="12" fill="#f13624"/><rect x="280" width="12" height="12" fill="#ef3222"/><rect x="292" width="12" height="12" fill="#ed2f22"/><rect x="304" width="12" height="12" fill="#eb2c21"/><rect x="316" width="12" height="12" fill="#e92720"/><rect x="328" width="12" height="12" fill="#e8251f"/><rect x="340" width="12" height="12" fill="#e8251f"/><rect x="352" width="12" height="12" fill="#ea2820"/><rect x="364" width="12" height="12" fill="#ec2d21"/><rect x="376" width="12" height="12" fill="#ed2e21"/><rect x="388" width="12" height="12" fill="#ed2e22"/><rect x="400" width="12" height="12" fill="#ed2e22"/><rect x="412" width="12" height="12" fill="#ed2e21"/><rect x="424" width="12" height="12" fill="#ec2c21"/><rect x="436" width="12" height="12" fill="#eb2b21"/><rect x="448" width="12" height="12" fill="#eb2b20"/><rect x="460" width="12" height="12" fill="#eb2b20"/><rect x="484" width="12" height="12" fill="#eb2b20"/><rect x="640" width="12" height="12" fill="#fd7335"/><rect x="652" width="12" height="12" fill="#fd7435"/><rect x="664" width="12" height="12" fill="#fd7435"/><rect x="676" width="12" height="12" fill="#fd7435"/></g><g transform="translate(0 66)"><rect x="64" width="12" height="12" fill="#fd8a3b"/><rect x="76" width="12" height="12" fill="#fd8f3d"/><rect x="88" width="12" height="12" fill="#fd943f"/><rect x="100" width="12" height="12" fill="#fd953f"/><rect x="112" width="12" height="12" fill="#fd8b3b"/><rect x="124" width="12" height="12" fill="#fd7535"/><rect x="136" width="12" height="12" fill="#fd7635"/><rect x="148" width="12" height="12" fill="#fd8d3c"/><rect x="160" width="12" height="12" fill="#fd9d43"/><rect x="172" width="12" height="12" fill="#fea747"/><rect x="184" width="12" height="12" fill="#feaa48"/><rect x="196" width="12" height="12" fill="#fea546"/><rect x="208" width="12" height="12" fill="#fd9a42"/><rect x="220" width="12" height="12" fill="#fd8d3c"/><rect x="232" width="12" height="12" fill="#fc6c33"/><rect x="244" width="12" height="12" fill="#fa4929"/><rect x="256" width="12" height="12" fill="#f33c25"/><rect x="268" width="12" height="12" fill="#f03624"/><rect x="280" width="12" height="12" fill="#ee3222"/><rect x="292" width="12" height="12" fill="#ed2f22"/><rect x="304" width="12" height="12" fill="#eb2b21"/><rect x="316" width="12" height="12" fill="#e9261f"/><rect x="328" width="12" height="12" fill="#e8241f"/><rect x="340" width="12" height="12" fill="#e8241f"/><rect x="352" width="12" height="12" fill="#e9261f"/><rect x="364" width="12" height="12" fill="#eb2b20"/><rect x="376" width="12" height="12" fill="#ec2c21"/><rect x="388" width="12" height="12" fill="#ec2c21"/><rect x="400" width="12" height="12" fill="#ec2c21"/><rect x="412" width="12" height="12" fill="#eb2c21"/><rect x="424" width="12" height="12" fill="#eb2b21"/><rect x="436" width="12" height="12" fill="#eb2b20"/><rect x="448" width="12" height="12" fill="#eb2b20"/><rect x="460" width="12" height="12" fill="#eb2b20"/><rect x="472" width="12" height="12" fill="#eb2b20"/><rect x="484" width="12" height="12" fill="#eb2b20"/><rect x="496" width="12" height="12" fill="#eb2b20"/><rect x="640" width="12" height="12" fill="#fd7334"/><rect x="652" width="12" height="12" fill="#fd7335"/><rect x="664" width="12" height="12" fill="#fd7435"/><rect x="676" width="12" height="12" fill="#fd7435"/></g><g transform="translate(0 78)"><rect x="64" width="12" height="12" fill="#fd883b"/><rect x="76" width="12" height="12" fill="#fd8d3c"/><rect x="88" width="12" height="12" fill="#fd913e"/><rect x="100" width="12" height="12" fill="#fd8f3d"/><rect x="112" width="12" height="12" fill="#fd7f38"/><rect x="124" width="12" height="12" fill="#fd7234"/><rect x="136" width="12" height="12" fill="#fd7c37"/><rect x="148" width="12" height="12" fill="#fd923e"/><rect x="160" width="12" height="12" fill="#fea245"/><rect x="172" width="12" height="12" fill="#feab49"/><rect x="184" width="12" height="12" fill="#fead4a"/><rect x="196" width="12" height="12" fill="#feaa48"/><rect x="208" width="12" height="12" fill="#fea546"/><rect x="220" width="12" height="12" fill="#fd9f44"/><rect x="232" width="12" height="12" fill="#fd8d3c"/><rect x="244" width="12" height="12" fill="#fc5e2f"/><rect x="256" width="12" height="12" fill="#f74327"/><rect x="268" width="12" height="12" fill="#f13824"/><rect x="280" width="12" height="12" fill="#ef3323"/><rect x="292" width="12" height="12" fill="#ed2e21"/><rect x="304" width="12" height="12" fill="#e9271f"/><rect x="316" width="12" height="12" fill="#e6201e"/><rect x="328" width="12" height="12" fill="#e51e1d"/><rect x="340" width="12" height="12" fill="#e51d1d"/><rect x="352" width="12" height="12" fill="#e51f1d"/><rect x="364" width="12" height="12" fill="#e7211e"/><rect x="376" width="12" height="12" fill="#e7221e"/><rect x="388" width="12" height="12" fill="#e7221e"/><rect x="400" width="12" height="12" fill="#e8241f"/><rect x="412" width="12" height="12" fill="#ea2820"/><rect x="424" width="12" height="12" fill="#eb2a20"/><rect x="436" width="12" height="12" fill="#eb2b20"/><rect x="448" width="12" height="12" fill="#eb2b20"/><rect x="460" width="12" height="12" fill="#eb2b20"/><rect x="472" width="12" height="12" fill="#eb2b20"/><rect x="484" width="12" height="12" fill="#eb2b20"/><rect x="496" width="12" height="12" fill="#eb2b20"/><rect x="508" width="12" height="12" fill="#eb2b20"/><rect x="592" width="12" height="12" fill="#fc532b"/><rect x="604" width="12" height="12" fill="#fc5a2d"/><rect x="616" width="12" height="12" fill="#fc6130"/><rect x="628" width="12" height="12" fill="#fc6a32"/><rect x="640" width="12" height="12" fill="#fd7034"/><rect x="652" width="12" height="12" fill="#fd7334"/><rect x="664" width="12" height="12" fill="#fd7435"/><rect x="676" width="12" height="12" fill="#fd7435"/></g><g transform="translate(0 90)"><rect x="64" width="12" height="12" fill="#fd853a"/><rect x="76" width="12" height="12" fill="#fd873a"/><rect x="88" width="12" height="12" fill="#fd883b"/><rect x="100" width="12" height="12" fill="#fd843a"/><rect x="112" width="12" height="12" fill="#fd7d37"/><rect x="124" width="12" height="12" fill="#fd7c37"/><rect x="136" width="12" height="12" fill="#fd853a"/><rect x="148" width="12" height="12" fill="#fd943f"/><rect x="160" width="12" height="12" fill="#fea044"/><rect x="172" width="12" height="12" fill="#fea747"/><rect x="184" width="12" height="12" fill="#fea847"/><rect x="196" width="12" height="12" fill="#fea847"/><rect x="208" width="12" height="12" fill="#fead4a"/><rect x="220" width="12" height="12" fill="#feb44e"/><rect x="232" width="12" height="12" fill="#fea848"/><rect x="244" width="12" height="12" fill="#fd8a3b"/><rect x="256" width="12" height="12" fill="#fc582d"/><rect x="268" width="12" height="12" fill="#f54026"/><rect x="280" width="12" height="12" fill="#f23824"/><rect x="292" width="12" height="12" fill="#ee3022"/><rect x="304" width="12" height="12" fill="#e6201e"/><rect x="316" width="12" height="12" fill="#e2191c"/><rect x="328" width="12" height="12" fill="#e1191d"/><rect x="340" width="12" height="12" fill="#e1191d"/><rect x="352" width="12" height="12" fill="#e1191c"/><rect x="364" width="12" height="12" fill="#e2191c"/><rect x="376" width="12" height="12" fill="#e2191c"/><rect x="388" width="12" height="12" fill="#e2191c"/><rect x="400" width="12" height="12" fill="#e31b1c"/><rect x="412" width="12" height="12" fill="#e8241f"/><rect x="424" width="12" height="12" fill="#ea2920"/><rect x="436" width="12" height="12" fill="#eb2a20"/><rect x="448" width="12" height="12" fill="#eb2b20"/><rect x="460" width="12" height="12" fill="#eb2b20"/><rect x="472" width="12" height="12" fill="#eb2b20"/><rect x="484" width="12" height="12" fill="#eb2b20"/><rect x="496" width="12" height="12" fill="#eb2b20"/><rect x="508" width="12" height="12" fill="#eb2b20"/><rect x="580" width="12" height="12" fill="#fc4f2a"/><rect x="592" width="12" height="12" fill="#fc512b"/><rect x="604" width="12" height="12" fill="#fc562c"/><rect x="616" width="12" height="12" fill="#fc5d2e"/><rect x="628" width="12" height="12" fill="#fc6330"/><rect x="640" width="12" height="12" fill="#fc6a32"/><rect x="652" width="12" height="12" fill="#fd7034"/><rect x="664" width="12" height="12" fill="#fd7335"/><rect x="676" width="12" height="12" fill="#fd7435"/><rect x="688" width="12" height="12" fill="#fd7435"/></g><g transform="translate(0 102)"><rect x="64" width="12" height="12" fill="#fd8439"/><rect x="76" width="12" height="12" fill="#fd853a"/><rect x="88" width="12" height="12" fill="#fd863a"/><rect x="100" width="12" height="12" fill="#fd8239"/><rect x="112" width="12" height="12" fill="#fd7d37"/><rect x="124" width="12" height="12" fill="#fd7d37"/><rect x="136" width="12" height="12" fill="#fd8239"/><rect x="148" width="12" height="12" fill="#fd8c3c"/><rect x="160" width="12" height="12" fill="#fd943f"/><rect x="172" width="12" height="12" fill="#fd9941"/><rect x="184" width="12" height="12" fill="#fd9a41"/><rect x="196" width="12" height="12" fill="#fd9d43"/><rect x="208" width="12" height="12" fill="#fea848"/><rect x="220" width="12" height="12" fill="#feb14c"/><rect x="232" width="12" height="12" fill="#fea446"/><rect x="244" width="12" height="12" fill="#fd8339"/><rect x="256" width="12" height="12" fill="#fc592d"/><rect x="268" width="12" height="12" fill="#f74327"/><rect x="280" width="12" height="12" fill="#f33b25"/><rect x="292" width="12" height="12" fill="#f03523"/><rect x="304" width="12" height="12" fill="#e7211e"/><rect x="316" width="12" height="12" fill="#e1191d"/><rect x="328" width="12" height="12" fill="#e0181d"/><rect x="340" width="12" height="12" fill="#e0181d"/><rect x="352" width="12" height="12" fill="#e0181d"/><rect x="364" width="12" height="12" fill="#e0181d"/><rect x="376" width="12" height="12" fill="#e0181d"/><rect x="388" width="12" height="12" fill="#e0181d"/><rect x="400" width="12" height="12" fill="#e0181d"/><rect x="412" width="12" height="12" fill="#e41c1c"/><rect x="424" width="12" height="12" fill="#e9261f"/><rect x="436" width="12" height="12" fill="#ea2920"/><rect x="448" width="12" height="12" fill="#ea2920"/><rect x="460" width="12" height="12" fill="#eb2a20"/><rect x="472" width="12" height="12" fill="#eb2a20"/><rect x="484" width="12" height="12" fill="#eb2b20"/><rect x="496" width="12" height="12" fill="#eb2b20"/><rect x="508" width="12" height="12" fill="#eb2b20"/><rect x="520" width="12" height="12" fill="#eb2a20"/><rect x="556" width="12" height="12" fill="#fa4b29"/><rect x="568" width="12" height="12" fill="#fb4d2a"/><rect x="580" width="12" height="12" fill="#fc4e2a"/><rect x="592" width="12" height="12" fill="#fc502a"/><rect x="604" width="12" height="12" fill="#fc542c"/><rect x="616" width="12" height="12" fill="#fc5a2d"/><rect x="628" width="12" height="12" fill="#fc5f2f"/><rect x="640" width="12" height="12" fill="#fc6430"/><rect x="652" width="12" height="12" fill="#fc6b32"/><rect x="664" width="12" height="12" fill="#fd7134"/><rect x="676" width="12" height="12" fill="#fd7335"/><rect x="688" width="12" height="12" fill="#fd7435"/></g><g transform="translate(0 114)"><rect x="52" width="12" height="12" fill="#fd8339"/><rect x="64" width="12" height="12" fill="#fd853a"/><rect x="76" width="12" height="12" fill="#fd863a"/><rect x="88" width="12" height="12" fill="#fd853a"/><rect x="100" width="12" height="12" fill="#fd8139"/><rect x="112" width="12" height="12" fill="#fd7d37"/><rect x="124" width="12" height="12" fill="#fd7b37"/><rect x="136" width="12" height="12" fill="#fd7a37"/><rect x="148" width="12" height="12" fill="#fd7b37"/><rect x="160" width="12" height="12" fill="#fd8138"/><rect x="172" width="12" height="12" fill="#fd863a"/><rect x="184" width="12" height="12" fill="#fd8b3b"/><rect x="196" width="12" height="12" fill="#fd933f"/><rect x="208" width="12" height="12" fill="#fea245"/><rect x="220" width="12" height="12" fill="#feaa49"/><rect x="232" width="12" height="12" fill="#fd9b42"/><rect x="244" width="12" height="12" fill="#fd7936"/><rect x="256" width="12" height="12" fill="#fc5c2e"/><rect x="268" width="12" height="12" fill="#f94728"/><rect x="280" width="12" height="12" fill="#f43e26"/><rect x="292" width="12" height="12" fill="#f13724"/><rect x="304" width="12" height="12" fill="#e8241f"/><rect x="316" width="12" height="12" fill="#e1191c"/><rect x="328" width="12" height="12" fill="#e0181d"/><rect x="340" width="12" height="12" fill="#e0181d"/><rect x="352" width="12" height="12" fill="#e0181d"/><rect x="364" width="12" height="12" fill="#df171d"/><rect x="376" width="12" height="12" fill="#de171d"/><rect x="388" width="12" height="12" fill="#dd161e"/><rect x="400" width="12" height="12" fill="#dc151e"/><rect x="412" width="12" height="12" fill="#dd161e"/><rect x="424" width="12" height="12" fill="#e1191d"/><rect x="436" width="12" height="12" fill="#e41c1c"/><rect x="448" width="12" height="12" fill="#e41b1c"/><rect x="460" width="12" height="12" fill="#e61f1d"/><rect x="472" width="12" height="12" fill="#e92720"/><rect x="484" width="12" height="12" fill="#eb2a20"/><rect x="496" width="12" height="12" fill="#eb2a20"/><rect x="508" width="12" height="12" fill="#ea2920"/><rect x="520" width="12" height="12" fill="#ea2820"/><rect x="544" width="12" height="12" fill="#f33a25"/><rect x="556" width="12" height="12" fill="#f74427"/><rect x="568" width="12" height="12" fill="#f94828"/><rect x="580" width="12" height="12" fill="#fb4b29"/><rect x="592" width="12" height="12" fill="#fc4d2a"/><rect x="604" width="12" height="12" fill="#fc502b"/><rect x="616" width="12" height="12" fill="#fc562c"/><rect x="628" width="12" height="12" fill="#fc5d2e"/><rect x="640" width="12" height="12" fill="#fc602f"/><rect x="652" width="12" height="12" fill="#fc6531"/><rect x="664" width="12" height="12" fill="#fc6c33"/></g><g transform="translate(0 126)"><rect x="64" width="12" height="12" fill="#fd873a"/><rect x="76" width="12" height="12" fill="#fd863a"/><rect x="88" width="12" height="12" fill="#fd8339"/><rect x="100" width="12" height="12" fill="#fd7e38"/><rect x="112" width="12" height="12" fill="#fd7d37"/><rect x="124" width="12" height="12" fill="#fd7c37"/><rect x="136" width="12" height="12" fill="#fd7836"/><rect x="148" width="12" height="12" fill="#fd7435"/><rect x="160" width="12" height="12" fill="#fd7435"/><rect x="172" width="12" height="12" fill="#fd7836"/><rect x="184" width="12" height="12" fill="#fd8239"/><rect x="196" width="12" height="12" fill="#fd933e"/><rect x="208" width="12" height="12" fill="#fea145"/><rect x="220" width="12" height="12" fill="#fea647"/><rect x="232" width="12" height="12" fill="#fd9640"/><rect x="244" width="12" height="12" fill="#fd7a37"/><rect x="256" width="12" height="12" fill="#fc6831"/><rect x="268" width="12" height="12" fill="#fc562c"/><rect x="280" width="12" height="12" fill="#f84628"/><rect x="292" width="12" height="12" fill="#f13724"/><rect x="304" width="12" height="12" fill="#e51f1d"/><rect x="316" width="12" height="12" fill="#e1181d"/><rect x="328" width="12" height="12" fill="#e0181d"/><rect x="340" width="12" height="12" fill="#e0181d"/><rect x="352" width="12" height="12" fill="#e0181d"/><rect x="364" width="12" height="12" fill="#de161d"/><rect x="376" width="12" height="12" fill="#dc151e"/><rect x="388" width="12" height="12" fill="#db141e"/><rect x="400" width="12" height="12" fill="#da141e"/><rect x="412" width="12" height="12" fill="#da141e"/><rect x="424" width="12" height="12" fill="#da141e"/><rect x="436" width="12" height="12" fill="#db141e"/><rect x="448" width="12" height="12" fill="#db141e"/><rect x="460" width="12" height="12" fill="#dc151e"/><rect x="472" width="12" height="12" fill="#e1191c"/><rect x="484" width="12" height="12" fill="#e6201e"/><rect x="496" width="12" height="12" fill="#e8231f"/><rect x="508" width="12" height="12" fill="#e8241f"/><rect x="520" width="12" height="12" fill="#e7231f"/><rect x="532" width="12" height="12" fill="#e9271f"/><rect x="544" width="12" height="12" fill="#f03624"/><rect x="556" width="12" height="12" fill="#f53f26"/><rect x="568" width="12" height="12" fill="#f64126"/><rect x="580" width="12" height="12" fill="#f64327"/><rect x="592" width="12" height="12" fill="#f74427"/><rect x="604" width="12" height="12" fill="#f84528"/><rect x="616" width="12" height="12" fill="#fa4a29"/><rect x="628" width="12" height="12" fill="#fc532c"/><rect x="640" width="12" height="12" fill="#fc5c2e"/><rect x="652" width="12" height="12" fill="#fc602f"/></g><g transform="translate(0 138)"><rect x="64" width="12" height="12" fill="#fd873a"/><rect x="76" width="12" height="12" fill="#fd7e38"/><rect x="88" width="12" height="12" fill="#fd6f34"/><rect x="100" width="12" height="12" fill="#fc6932"/><rect x="112" width="12" height="12" fill="#fd7234"/><rect x="124" width="12" height="12" fill="#fd7a37"/><rect x="136" width="12" height="12" fill="#fd7d37"/><rect x="148" width="12" height="12" fill="#fd7c37"/><rect x="160" width="12" height="12" fill="#fd7a37"/><rect x="172" width="12" height="12" fill="#fd7f38"/><rect x="184" width="12" height="12" fill="#fd913e"/><rect x="196" width="12" height="12" fill="#fd9d43"/><rect x="208" width="12" height="12" fill="#fea446"/><rect x="220" width="12" height="12" fill="#fea446"/><rect x="232" width="12" height="12" fill="#fd9640"/><rect x="244" width="12" height="12" fill="#fd863a"/><rect x="256" width="12" height="12" fill="#fd8139"/><rect x="268" width="12" height="12" fill="#fd7936"/><rect x="280" width="12" height="12" fill="#fc5e2f"/><rect x="292" width="12" height="12" fill="#f03623"/><rect x="304" width="12" height="12" fill="#e41c1d"/><rect x="316" width="12" height="12" fill="#e1181d"/><rect x="328" width="12" height="12" fill="#e0181d"/><rect x="340" width="12" height="12" fill="#e0181d"/><rect x="352" width="12" height="12" fill="#df171d"/><rect x="364" width="12" height="12" fill="#dc151e"/><rect x="376" width="12" height="12" fill="#da141e"/><rect x="388" width="12" height="12" fill="#da141e"/><rect x="400" width="12" height="12" fill="#da141e"/><rect x="412" width="12" height="12" fill="#da141e"/><rect x="424" width="12" height="12" fill="#da141e"/><rect x="436" width="12" height="12" fill="#da141e"/><rect x="448" width="12" height="12" fill="#da141e"/><rect x="460" width="12" height="12" fill="#db151e"/><rect x="472" width="12" height="12" fill="#de161d"/><rect x="484" width="12" height="12" fill="#e1191d"/><rect x="496" width="12" height="12" fill="#e41d1d"/><rect x="508" width="12" height="12" fill="#e6211e"/><rect x="520" width="12" height="12" fill="#e7231e"/><rect x="532" width="12" height="12" fill="#e9261f"/><rect x="544" width="12" height="12" fill="#ef3223"/><rect x="556" width="12" height="12" fill="#f33c25"/><rect x="568" width="12" height="12" fill="#f43d25"/><rect x="580" width="12" height="12" fill="#f23a25"/><rect x="592" width="12" height="12" fill="#f03623"/><rect x="604" width="12" height="12" fill="#ef3323"/><rect x="616" width="12" height="12" fill="#ef3323"/><rect x="628" width="12" height="12" fill="#f23824"/><rect x="640" width="12" height="12" fill="#f84528"/><rect x="652" width="12" height="12" fill="#fc542c"/><rect x="664" width="12" height="12" fill="#fc5f2f"/></g><g transform="translate(0 150)"><rect x="52" width="12" height="12" fill="#fd873a"/><rect x="64" width="12" height="12" fill="#fd7c37"/><rect x="76" width="12" height="12" fill="#fc6531"/><rect x="88" width="12" height="12" fill="#f94728"/><rect x="100" width="12" height="12" fill="#f23a25"/><rect x="112" width="12" height="12" fill="#fb4b29"/><rect x="124" width="12" height="12" fill="#fd7334"/><rect x="136" width="12" height="12" fill="#fd8038"/><rect x="148" width="12" height="12" fill="#fd8239"/><rect x="160" width="12" height="12" fill="#fd853a"/><rect x="172" width="12" height="12" fill="#fd8e3c"/><rect x="184" width="12" height="12" fill="#fd9941"/><rect x="196" width="12" height="12" fill="#fea044"/><rect x="208" width="12" height="12" fill="#fea446"/><rect x="220" width="12" height="12" fill="#fea546"/><rect x="232" width="12" height="12" fill="#fd9d43"/><rect x="244" width="12" height="12" fill="#fd9941"/><rect x="256" width="12" height="12" fill="#fd9d43"/><rect x="268" width="12" height="12" fill="#fd9540"/><rect x="280" width="12" height="12" fill="#fc6330"/><rect x="292" width="12" height="12" fill="#ef3423"/><rect x="304" width="12" height="12" fill="#e6201e"/><rect x="316" width="12" height="12" fill="#e2191c"/><rect x="328" width="12" height="12" fill="#df181d"/><rect x="340" width="12" height="12" fill="#dd161d"/><rect x="352" width="12" height="12" fill="#da141e"/><rect x="364" width="12" height="12" fill="#d7111f"/><rect x="376" width="12" height="12" fill="#d6111f"/><rect x="388" width="12" height="12" fill="#d7121f"/><rect x="400" width="12" height="12" fill="#d8121f"/><rect x="412" width="12" height="12" fill="#d8121f"/><rect x="424" width="12" height="12" fill="#d8121f"/><rect x="436" width="12" height="12" fill="#d9131f"/><rect x="448" width="12" height="12" fill="#d9131f"/><rect x="460" width="12" height="12" fill="#db151e"/><rect x="472" width="12" height="12" fill="#de171d"/><rect x="484" width="12" height="12" fill="#e0181d"/><rect x="496" width="12" height="12" fill="#e31b1c"/><rect x="508" width="12" height="12" fill="#e6201e"/><rect x="520" width="12" height="12" fill="#e7231e"/><rect x="532" width="12" height="12" fill="#e9271f"/><rect x="544" width="12" height="12" fill="#ee3122"/><rect x="556" width="12" height="12" fill="#f13824"/><rect x="568" width="12" height="12" fill="#f13724"/><rect x="580" width="12" height="12" fill="#ef3222"/><rect x="592" width="12" height="12" fill="#ec2d21"/><rect x="604" width="12" height="12" fill="#eb2b21"/><rect x="616" width="12" height="12" fill="#eb2b21"/><rect x="628" width="12" height="12" fill="#ec2c21"/><rect x="640" width="12" height="12" fill="#ed2e21"/></g><g transform="translate(0 162)"><rect x="64" width="12" height="12" fill="#fc6831"/><rect x="76" width="12" height="12" fill="#fb4c29"/><rect x="88" width="12" height="12" fill="#f03523"/><rect x="100" width="12" height="12" fill="#ea2920"/><rect x="112" width="12" height="12" fill="#f43c25"/><rect x="124" width="12" height="12" fill="#fd7234"/><rect x="136" width="12" height="12" fill="#fd8339"/><rect x="148" width="12" height="12" fill="#fd863a"/><rect x="160" width="12" height="12" fill="#fd883b"/><rect x="172" width="12" height="12" fill="#fd8d3c"/><rect x="184" width="12" height="12" fill="#fd933f"/><rect x="196" width="12" height="12" fill="#fd9941"/><rect x="208" width="12" height="12" fill="#fd9e43"/><rect x="220" width="12" height="12" fill="#fea446"/><rect x="232" width="12" height="12" fill="#fea446"/><rect x="244" width="12" height="12" fill="#fea647"/><rect x="256" width="12" height="12" fill="#feaa49"/><rect x="268" width="12" height="12" fill="#fd9740"/><rect x="280" width="12" height="12" fill="#fc582d"/><rect x="292" width="12" height="12" fill="#ee3022"/><rect x="304" width="12" height="12" fill="#e7221e"/><rect x="316" width="12" height="12" fill="#e31b1c"/><rect x="328" width="12" height="12" fill="#dd161e"/><rect x="340" width="12" height="12" fill="#d8121f"/><rect x="352" width="12" height="12" fill="#d51020"/><rect x="364" width="12" height="12" fill="#d41020"/><rect x="376" width="12" height="12" fill="#d41020"/><rect x="388" width="12" height="12" fill="#d41020"/><rect x="400" width="12" height="12" fill="#d41020"/><rect x="412" width="12" height="12" fill="#d51020"/><rect x="424" width="12" height="12" fill="#d51120"/><rect x="436" width="12" height="12" fill="#d6111f"/><rect x="448" width="12" height="12" fill="#d7121f"/><rect x="460" width="12" height="12" fill="#da141e"/><rect x="472" width="12" height="12" fill="#dd161e"/><rect x="484" width="12" height="12" fill="#df171d"/><rect x="496" width="12" height="12" fill="#e2191c"/><rect x="508" width="12" height="12" fill="#e6201e"/><rect x="520" width="12" height="12" fill="#e9261f"/><rect x="532" width="12" height="12" fill="#ec2c21"/><rect x="544" width="12" height="12" fill="#ef3223"/><rect x="556" width="12" height="12" fill="#ee3222"/><rect x="568" width="12" height="12" fill="#ec2c21"/><rect x="580" width="12" height="12" fill="#e92720"/><rect x="592" width="12" height="12" fill="#e8251f"/><rect x="604" width="12" height="12" fill="#e9271f"/><rect x="616" width="12" height="12" fill="#ea2920"/></g><g transform="translate(0 174)"><rect x="64" width="12" height="12" fill="#fc6531"/><rect x="76" width="12" height="12" fill="#fc512b"/><rect x="88" width="12" height="12" fill="#f43e26"/><rect x="100" width="12" height="12" fill="#f03623"/><rect x="112" width="12" height="12" fill="#fc4e2a"/><rect x="124" width="12" height="12" fill="#fd7a37"/><rect x="136" width="12" height="12" fill="#fd863a"/><rect x="148" width="12" height="12" fill="#fd853a"/><rect x="160" width="12" height="12" fill="#fd843a"/><rect x="172" width="12" height="12" fill="#fd863a"/><rect x="184" width="12" height="12" fill="#fd8c3c"/><rect x="196" width="12" height="12" fill="#fd923e"/><rect x="208" width="12" height="12" fill="#fd9941"/><rect x="220" width="12" height="12" fill="#fea245"/><rect x="232" width="12" height="12" fill="#fea747"/><rect x="244" width="12" height="12" fill="#feac49"/><rect x="256" width="12" height="12" fill="#fead4a"/><rect x="268" width="12" height="12" fill="#fd933f"/><rect x="280" width="12" height="12" fill="#fc4f2a"/><rect x="292" width="12" height="12" fill="#ec2d21"/><rect x="304" width="12" height="12" fill="#e7221e"/><rect x="316" width="12" height="12" fill="#e31a1c"/><rect x="328" width="12" height="12" fill="#da141e"/><rect x="340" width="12" height="12" fill="#d51020"/><rect x="352" width="12" height="12" fill="#d41020"/><rect x="364" width="12" height="12" fill="#d41020"/><rect x="376" width="12" height="12" fill="#d41020"/><rect x="388" width="12" height="12" fill="#d41020"/><rect x="400" width="12" height="12" fill="#d41020"/><rect x="412" width="12" height="12" fill="#d41020"/><rect x="424" width="12" height="12" fill="#d41020"/><rect x="436" width="12" height="12" fill="#d41020"/><rect x="448" width="12" height="12" fill="#d51120"/><rect x="460" width="12" height="12" fill="#d7121f"/><rect x="472" width="12" height="12" fill="#db141e"/><rect x="484" width="12" height="12" fill="#dd161e"/><rect x="496" width="12" height="12" fill="#df171d"/><rect x="508" width="12" height="12" fill="#e51f1d"/><rect x="520" width="12" height="12" fill="#ec2c21"/><rect x="532" width="12" height="12" fill="#ef3222"/><rect x="544" width="12" height="12" fill="#ef3323"/><rect x="556" width="12" height="12" fill="#ed2e21"/><rect x="568" width="12" height="12" fill="#e9261f"/><rect x="580" width="12" height="12" fill="#e6211e"/><rect x="592" width="12" height="12" fill="#e51f1d"/><rect x="604" width="12" height="12" fill="#e6211e"/><rect x="616" width="12" height="12" fill="#e8251f"/></g><g transform="translate(0 186)"><rect x="64" width="12" height="12" fill="#fd6f34"/><rect x="76" width="12" height="12" fill="#fc5e2f"/><rect x="88" width="12" height="12" fill="#f84628"/><rect x="100" width="12" height="12" fill="#f43d26"/><rect x="112" width="12" height="12" fill="#fc552c"/><rect x="124" width="12" height="12" fill="#fd7736"/><rect x="136" width="12" height="12" fill="#fd8139"/><rect x="148" width="12" height="12" fill="#fd7b37"/><rect x="160" width="12" height="12" fill="#fd7736"/><rect x="172" width="12" height="12" fill="#fd7b37"/><rect x="184" width="12" height="12" fill="#fd8239"/><rect x="196" width="12" height="12" fill="#fd8c3c"/><rect x="208" width="12" height="12" fill="#fd953f"/><rect x="220" width="12" height="12" fill="#fea145"/><rect x="232" width="12" height="12" fill="#feaa48"/><rect x="244" width="12" height="12" fill="#fead4a"/><rect x="256" width="12" height="12" fill="#feab49"/><rect x="268" width="12" height="12" fill="#fd923e"/><rect x="280" width="12" height="12" fill="#fc4f2a"/><rect x="292" width="12" height="12" fill="#ec2d21"/><rect x="304" width="12" height="12" fill="#e6211e"/><rect x="316" width="12" height="12" fill="#e2191c"/><rect x="328" width="12" height="12" fill="#d8121f"/><rect x="340" width="12" height="12" fill="#d30f20"/><rect x="352" width="12" height="12" fill="#d30f20"/><rect x="364" width="12" height="12" fill="#d30f20"/><rect x="376" width="12" height="12" fill="#d30f20"/><rect x="388" width="12" height="12" fill="#d40f20"/><rect x="400" width="12" height="12" fill="#d30f20"/><rect x="412" width="12" height="12" fill="#d30f20"/><rect x="424" width="12" height="12" fill="#d30f20"/><rect x="436" width="12" height="12" fill="#d41020"/><rect x="448" width="12" height="12" fill="#d51020"/><rect x="460" width="12" height="12" fill="#d7121f"/><rect x="472" width="12" height="12" fill="#d9131f"/><rect x="484" width="12" height="12" fill="#db151e"/><rect x="496" width="12" height="12" fill="#de171d"/><rect x="508" width="12" height="12" fill="#e6211e"/><rect x="520" width="12" height="12" fill="#ed2f22"/><rect x="532" width="12" height="12" fill="#ee3122"/><rect x="544" width="12" height="12" fill="#ed2e21"/><rect x="556" width="12" height="12" fill="#ea2920"/><rect x="568" width="12" height="12" fill="#e7221e"/><rect x="580" width="12" height="12" fill="#e41d1d"/><rect x="592" width="12" height="12" fill="#e31a1c"/><rect x="604" width="12" height="12" fill="#e31b1c"/></g><g transform="translate(0 198)"><rect x="76" width="12" height="12" fill="#fc582d"/><rect x="88" width="12" height="12" fill="#f33b25"/><rect x="100" width="12" height="12" fill="#f03523"/><rect x="112" width="12" height="12" fill="#f94828"/><rect x="124" width="12" height="12" fill="#fc6330"/><rect x="136" width="12" height="12" fill="#fc6c33"/><rect x="148" width="12" height="12" fill="#fc6530"/><rect x="160" width="12" height="12" fill="#fc6430"/><rect x="172" width="12" height="12" fill="#fd6f33"/><rect x="184" width="12" height="12" fill="#fd7d37"/><rect x="196" width="12" height="12" fill="#fd873a"/><rect x="208" width="12" height="12" fill="#fd913e"/><rect x="220" width="12" height="12" fill="#fd9f44"/><rect x="232" width="12" height="12" fill="#feaa48"/><rect x="244" width="12" height="12" fill="#fea948"/><rect x="256" width="12" height="12" fill="#fea446"/><rect x="268" width="12" height="12" fill="#fd9841"/><rect x="280" width="12" height="12" fill="#fd6f33"/><rect x="292" width="12" height="12" fill="#f03523"/><rect x="304" width="12" height="12" fill="#e41c1c"/><rect x="316" width="12" height="12" fill="#dd161e"/><rect x="328" width="12" height="12" fill="#d51120"/><rect x="340" width="12" height="12" fill="#d00d21"/><rect x="352" width="12" height="12" fill="#cf0c21"/><rect x="364" width="12" height="12" fill="#cf0d21"/><rect x="376" width="12" height="12" fill="#d10d21"/><rect x="388" width="12" height="12" fill="#d10d21"/><rect x="400" width="12" height="12" fill="#cf0c21"/><rect x="412" width="12" height="12" fill="#cf0c21"/><rect x="424" width="12" height="12" fill="#cf0d21"/><rect x="436" width="12" height="12" fill="#d20e20"/><rect x="448" width="12" height="12" fill="#d51020"/><rect x="460" width="12" height="12" fill="#d8121f"/><rect x="472" width="12" height="12" fill="#da141e"/><rect x="484" width="12" height="12" fill="#dc151e"/><rect x="496" width="12" height="12" fill="#e1191d"/><rect x="508" width="12" height="12" fill="#e8241f"/><rect x="520" width="12" height="12" fill="#ec2d21"/><rect x="532" width="12" height="12" fill="#eb2c21"/><rect x="544" width="12" height="12" fill="#e8251f"/><rect x="556" width="12" height="12" fill="#e51d1d"/><rect x="568" width="12" height="12" fill="#e1191d"/><rect x="580" width="12" height="12" fill="#dc161e"/><rect x="592" width="12" height="12" fill="#d9131f"/><rect x="604" width="12" height="12" fill="#d8121f"/></g><g transform="translate(0 210)"><rect x="76" width="12" height="12" fill="#f64227"/><rect x="88" width="12" height="12" fill="#ea2920"/><rect x="100" width="12" height="12" fill="#ea2920"/><rect x="112" width="12" height="12" fill="#f23824"/><rect x="124" width="12" height="12" fill="#f94929"/><rect x="136" width="12" height="12" fill="#fc4f2a"/><rect x="148" width="12" height="12" fill="#fc4d2a"/><rect x="160" width="12" height="12" fill="#fc532c"/><rect x="172" width="12" height="12" fill="#fc6932"/><rect x="184" width="12" height="12" fill="#fd7e38"/><rect x="196" width="12" height="12" fill="#fd8c3c"/><rect x="208" width="12" height="12" fill="#fd933e"/><rect x="220" width="12" height="12" fill="#fd9841"/><rect x="232" width="12" height="12" fill="#fd9d43"/><rect x="244" width="12" height="12" fill="#fd9d43"/><rect x="256" width="12" height="12" fill="#fd9b42"/><rect x="268" width="12" height="12" fill="#fd9640"/><rect x="280" width="12" height="12" fill="#fd7f38"/><rect x="292" width="12" height="12" fill="#ef3223"/><rect x="304" width="12" height="12" fill="#df171d"/><rect x="316" width="12" height="12" fill="#db141e"/><rect x="328" width="12" height="12" fill="#d51120"/><rect x="340" width="12" height="12" fill="#ce0b22"/><rect x="352" width="12" height="12" fill="#cc0a22"/><rect x="364" width="12" height="12" fill="#cb0a22"/><rect x="376" width="12" height="12" fill="#ca0923"/><rect x="388" width="12" height="12" fill="#c80823"/><rect x="400" width="12" height="12" fill="#c70723"/><rect x="412" width="12" height="12" fill="#c60624"/><rect x="424" width="12" height="12" fill="#c70723"/><rect x="436" width="12" height="12" fill="#c90823"/><rect x="448" width="12" height="12" fill="#d20e21"/><rect x="460" width="12" height="12" fill="#d8131f"/><rect x="472" width="12" height="12" fill="#da141e"/><rect x="484" width="12" height="12" fill="#dd161d"/><rect x="496" width="12" height="12" fill="#e31b1c"/><rect x="508" width="12" height="12" fill="#e8251f"/><rect x="520" width="12" height="12" fill="#ea2820"/><rect x="532" width="12" height="12" fill="#e6211e"/><rect x="544" width="12" height="12" fill="#df181d"/><rect x="556" width="12" height="12" fill="#d9131f"/><rect x="568" width="12" height="12" fill="#d51120"/><rect x="580" width="12" height="12" fill="#d20e20"/><rect x="592" width="12" height="12" fill="#d00d21"/><rect x="604" width="12" height="12" fill="#ce0c21"/></g><g transform="translate(0 222)"><rect x="88" width="12" height="12" fill="#e51f1d"/><rect x="100" width="12" height="12" fill="#e9261f"/><rect x="112" width="12" height="12" fill="#f03523"/><rect x="124" width="12" height="12" fill="#f74327"/><rect x="136" width="12" height="12" fill="#f84628"/><rect x="148" width="12" height="12" fill="#f64127"/><rect x="160" width="12" height="12" fill="#f74427"/><rect x="172" width="12" height="12" fill="#fc5f2f"/><rect x="184" width="12" height="12" fill="#fd7f38"/><rect x="196" width="12" height="12" fill="#fd8d3c"/><rect x="208" width="12" height="12" fill="#fd933f"/><rect x="220" width="12" height="12" fill="#fd953f"/><rect x="232" width="12" height="12" fill="#fd8f3d"/><rect x="244" width="12" height="12" fill="#fd8d3c"/><rect x="256" width="12" height="12" fill="#fd8d3c"/><rect x="268" width="12" height="12" fill="#fd8339"/><rect x="280" width="12" height="12" fill="#fc5e2f"/><rect x="292" width="12" height="12" fill="#ea2820"/><rect x="304" width="12" height="12" fill="#de171d"/><rect x="316" width="12" height="12" fill="#db151e"/><rect x="328" width="12" height="12" fill="#d7111f"/><rect x="340" width="12" height="12" fill="#ce0b22"/><rect x="352" width="12" height="12" fill="#cb0922"/><rect x="364" width="12" height="12" fill="#ca0923"/><rect x="376" width="12" height="12" fill="#c70723"/><rect x="388" width="12" height="12" fill="#c50624"/><rect x="400" width="12" height="12" fill="#c50524"/><rect x="412" width="12" height="12" fill="#c50524"/><rect x="424" width="12" height="12" fill="#c40524"/><rect x="436" width="12" height="12" fill="#c30424"/><rect x="448" width="12" height="12" fill="#c40524"/><rect x="460" width="12" height="12" fill="#cf0d21"/><rect x="472" width="12" height="12" fill="#d7121f"/><rect x="484" width="12" height="12" fill="#dc151e"/><rect x="496" width="12" height="12" fill="#e31a1c"/><rect x="508" width="12" height="12" fill="#e6201e"/><rect x="520" width="12" height="12" fill="#e41c1d"/><rect x="532" width="12" height="12" fill="#db141e"/><rect x="544" width="12" height="12" fill="#d30f20"/><rect x="556" width="12" height="12" fill="#cf0d21"/><rect x="568" width="12" height="12" fill="#ce0c22"/><rect x="580" width="12" height="12" fill="#cd0b22"/><rect x="592" width="12" height="12" fill="#cd0b22"/><rect x="604" width="12" height="12" fill="#cc0b22"/></g><g transform="translate(0 234)"><rect x="88" width="12" height="12" fill="#e8241f"/><rect x="100" width="12" height="12" fill="#ef3323"/><rect x="112" width="12" height="12" fill="#f74427"/><rect x="124" width="12" height="12" fill="#fb4b29"/><rect x="136" width="12" height="12" fill="#f74327"/><rect x="148" width="12" height="12" fill="#ed2f22"/><rect x="160" width="12" height="12" fill="#e7231e"/><rect x="172" width="12" height="12" fill="#f03523"/><rect x="184" width="12" height="12" fill="#fc572d"/><rect x="196" width="12" height="12" fill="#fd6e33"/><rect x="208" width="12" height="12" fill="#fd863a"/><rect x="220" width="12" height="12" fill="#fd903d"/><rect x="232" width="12" height="12" fill="#fd853a"/><rect x="244" width="12" height="12" fill="#fd7435"/><rect x="256" width="12" height="12" fill="#fc6a32"/><rect x="268" width="12" height="12" fill="#fc582d"/><rect x="280" width="12" height="12" fill="#f53f26"/><rect x="292" width="12" height="12" fill="#ea2820"/><rect x="304" width="12" height="12" fill="#e2191c"/><rect x="316" width="12" height="12" fill="#dd161e"/><rect x="328" width="12" height="12" fill="#d8121f"/><rect x="340" width="12" height="12" fill="#ce0c21"/><rect x="352" width="12" height="12" fill="#ca0922"/><rect x="364" width="12" height="12" fill="#c80823"/><rect x="376" width="12" height="12" fill="#c60624"/><rect x="388" width="12" height="12" fill="#c50524"/><rect x="400" width="12" height="12" fill="#c50524"/><rect x="412" width="12" height="12" fill="#c40524"/><rect x="424" width="12" height="12" fill="#c30425"/><rect x="436" width="12" height="12" fill="#c00225"/><rect x="448" width="12" height="12" fill="#c00225"/><rect x="460" width="12" height="12" fill="#c30424"/><rect x="472" width="12" height="12" fill="#ca0923"/><rect x="484" width="12" height="12" fill="#d10e21"/><rect x="496" width="12" height="12" fill="#d8121f"/><rect x="508" width="12" height="12" fill="#d9131f"/><rect x="520" width="12" height="12" fill="#d41020"/><rect x="532" width="12" height="12" fill="#cd0b22"/><rect x="544" width="12" height="12" fill="#ca0922"/><rect x="556" width="12" height="12" fill="#ca0923"/><rect x="568" width="12" height="12" fill="#ca0923"/><rect x="580" width="12" height="12" fill="#ca0923"/><rect x="592" width="12" height="12" fill="#cb0a22"/></g><g transform="translate(0 246)"><rect x="112" width="12" height="12" fill="#fc532b"/><rect x="124" width="12" height="12" fill="#fc4d2a"/><rect x="136" width="12" height="12" fill="#ef3323"/><rect x="148" width="12" height="12" fill="#df171d"/><rect x="160" width="12" height="12" fill="#d51020"/><rect x="172" width="12" height="12" fill="#d8131f"/><rect x="184" width="12" height="12" fill="#e51e1d"/><rect x="196" width="12" height="12" fill="#f03523"/><rect x="208" width="12" height="12" fill="#fc5e2e"/><rect x="220" width="12" height="12" fill="#fd8239"/><rect x="232" width="12" height="12" fill="#fd7d37"/><rect x="244" width="12" height="12" fill="#fc6531"/><rect x="256" width="12" height="12" fill="#fc552c"/><rect x="268" width="12" height="12" fill="#f74327"/><rect x="280" width="12" height="12" fill="#ef3323"/><rect x="292" width="12" height="12" fill="#eb2a20"/><rect x="304" width="12" height="12" fill="#e6211e"/><rect x="316" width="12" height="12" fill="#de171d"/><rect x="328" width="12" height="12" fill="#d51020"/><rect x="340" width="12" height="12" fill="#ce0b22"/><rect x="352" width="12" height="12" fill="#c90923"/><rect x="364" width="12" height="12" fill="#c60624"/><rect x="376" width="12" height="12" fill="#c50524"/><rect x="388" width="12" height="12" fill="#c40524"/><rect x="400" width="12" height="12" fill="#c40524"/><rect x="412" width="12" height="12" fill="#c20425"/><rect x="424" width="12" height="12" fill="#c00225"/><rect x="436" width="12" height="12" fill="#bf0126"/><rect x="448" width="12" height="12" fill="#bf0125"/><rect x="460" width="12" height="12" fill="#c00225"/><rect x="472" width="12" height="12" fill="#c20425"/><rect x="484" width="12" height="12" fill="#c40524"/><rect x="496" width="12" height="12" fill="#c70723"/><rect x="508" width="12" height="12" fill="#c70723"/><rect x="520" width="12" height="12" fill="#c70723"/><rect x="532" width="12" height="12" fill="#c60624"/><rect x="544" width="12" height="12" fill="#c60624"/><rect x="556" width="12" height="12" fill="#c70723"/><rect x="568" width="12" height="12" fill="#c70723"/><rect x="580" width="12" height="12" fill="#c80823"/></g><g transform="translate(0 258)"><rect x="124" width="12" height="12" fill="#f54026"/><rect x="136" width="12" height="12" fill="#e31a1c"/><rect x="148" width="12" height="12" fill="#d30f20"/><rect x="160" width="12" height="12" fill="#ce0c21"/><rect x="172" width="12" height="12" fill="#cf0c21"/><rect x="184" width="12" height="12" fill="#d30f20"/><rect x="196" width="12" height="12" fill="#dd161e"/><rect x="208" width="12" height="12" fill="#f03523"/><rect x="220" width="12" height="12" fill="#fc6731"/><rect x="232" width="12" height="12" fill="#fd7335"/><rect x="244" width="12" height="12" fill="#fc5d2e"/><rect x="256" width="12" height="12" fill="#fa4a29"/><rect x="268" width="12" height="12" fill="#f23924"/><rect x="280" width="12" height="12" fill="#ec2e21"/><rect x="292" width="12" height="12" fill="#ea2820"/><rect x="304" width="12" height="12" fill="#e6201e"/><rect x="316" width="12" height="12" fill="#d8121f"/><rect x="328" width="12" height="12" fill="#cd0b22"/><rect x="340" width="12" height="12" fill="#cb0922"/><rect x="352" width="12" height="12" fill="#c70723"/><rect x="364" width="12" height="12" fill="#c30424"/><rect x="376" width="12" height="12" fill="#c30424"/><rect x="388" width="12" height="12" fill="#c30424"/><rect x="400" width="12" height="12" fill="#c10325"/><rect x="412" width="12" height="12" fill="#bf0126"/><rect x="424" width="12" height="12" fill="#be0126"/><rect x="436" width="12" height="12" fill="#be0126"/><rect x="448" width="12" height="12" fill="#bf0126"/><rect x="460" width="12" height="12" fill="#c00225"/><rect x="472" width="12" height="12" fill="#c10325"/><rect x="484" width="12" height="12" fill="#c10325"/><rect x="496" width="12" height="12" fill="#c20325"/><rect x="508" width="12" height="12" fill="#c20325"/><rect x="520" width="12" height="12" fill="#c20425"/><rect x="532" width="12" height="12" fill="#c30424"/><rect x="544" width="12" height="12" fill="#c50524"/><rect x="556" width="12" height="12" fill="#c50624"/></g><g transform="translate(0 270)"><rect x="136" width="12" height="12" fill="#d6111f"/><rect x="160" width="12" height="12" fill="#cd0b22"/><rect x="172" width="12" height="12" fill="#cd0b22"/><rect x="184" width="12" height="12" fill="#ce0c21"/><rect x="196" width="12" height="12" fill="#d20f20"/><rect x="208" width="12" height="12" fill="#e2191c"/><rect x="220" width="12" height="12" fill="#f84628"/><rect x="232" width="12" height="12" fill="#fc6731"/><rect x="244" width="12" height="12" fill="#fc542c"/><rect x="256" width="12" height="12" fill="#f53f26"/><rect x="268" width="12" height="12" fill="#ed3022"/><rect x="280" width="12" height="12" fill="#ea2920"/><rect x="292" width="12" height="12" fill="#e8251f"/><rect x="304" width="12" height="12" fill="#e21a1c"/><rect x="316" width="12" height="12" fill="#d10e21"/><rect x="328" width="12" height="12" fill="#cb0a22"/><rect x="340" width="12" height="12" fill="#ca0923"/><rect x="352" width="12" height="12" fill="#c40524"/><rect x="364" width="12" height="12" fill="#c00225"/><rect x="376" width="12" height="12" fill="#bf0225"/><rect x="388" width="12" height="12" fill="#bf0125"/><rect x="400" width="12" height="12" fill="#be0026"/><rect x="412" width="12" height="12" fill="#bd0026"/><rect x="424" width="12" height="12" fill="#bd0026"/><rect x="436" width="12" height="12" fill="#bd0026"/><rect x="448" width="12" height="12" fill="#be0126"/><rect x="460" width="12" height="12" fill="#bf0225"/><rect x="472" width="12" height="12" fill="#c00225"/><rect x="484" width="12" height="12" fill="#c10225"/><rect x="496" width="12" height="12" fill="#c10225"/><rect x="508" width="12" height="12" fill="#c10225"/><rect x="520" width="12" height="12" fill="#c00225"/><rect x="532" width="12" height="12" fill="#c00225"/><rect x="544" width="12" height="12" fill="#c10325"/></g><g transform="translate(0 282)"><rect x="196" width="12" height="12" fill="#cf0c21"/><rect x="208" width="12" height="12" fill="#d7111f"/><rect x="220" width="12" height="12" fill="#ea2820"/><rect x="232" width="12" height="12" fill="#fc552c"/><rect x="244" width="12" height="12" fill="#f64227"/><rect x="256" width="12" height="12" fill="#ed2f22"/><rect x="268" width="12" height="12" fill="#ea2820"/><rect x="280" width="12" height="12" fill="#e9251f"/><rect x="292" width="12" height="12" fill="#e7231e"/><rect x="304" width="12" height="12" fill="#e0181d"/><rect x="316" width="12" height="12" fill="#d00d21"/><rect x="328" width="12" height="12" fill="#cb0a22"/><rect x="340" width="12" height="12" fill="#c90823"/><rect x="352" width="12" height="12" fill="#c20325"/><rect x="364" width="12" height="12" fill="#bf0126"/><rect x="376" width="12" height="12" fill="#bf0126"/><rect x="388" width="12" height="12" fill="#be0126"/><rect x="400" width="12" height="12" fill="#bd0026"/><rect x="412" width="12" height="12" fill="#bd0026"/><rect x="424" width="12" height="12" fill="#bd0026"/><rect x="436" width="12" height="12" fill="#bd0026"/><rect x="448" width="12" height="12" fill="#be0126"/><rect x="460" width="12" height="12" fill="#bf0125"/><rect x="472" width="12" height="12" fill="#c00225"/><rect x="484" width="12" height="12" fill="#c00225"/><rect x="496" width="12" height="12" fill="#c00225"/><rect x="508" width="12" height="12" fill="#c00225"/><rect x="520" width="12" height="12" fill="#bf0126"/><rect x="532" width="12" height="12" fill="#be0126"/><rect x="544" width="12" height="12" fill="#be0026"/></g><g transform="translate(0 294)"><rect x="268" width="12" height="12" fill="#e8251f"/><rect x="280" width="12" height="12" fill="#e8241f"/><rect x="292" width="12" height="12" fill="#e7231e"/><rect x="304" width="12" height="12" fill="#e0181d"/><rect x="316" width="12" height="12" fill="#cf0c21"/><rect x="328" width="12" height="12" fill="#c90823"/><rect x="340" width="12" height="12" fill="#c50624"/><rect x="352" width="12" height="12" fill="#c00225"/><rect x="364" width="12" height="12" fill="#bf0126"/><rect x="376" width="12" height="12" fill="#be0126"/><rect x="388" width="12" height="12" fill="#be0126"/><rect x="400" width="12" height="12" fill="#bd0026"/><rect x="412" width="12" height="12" fill="#bd0026"/><rect x="424" width="12" height="12" fill="#bd0026"/><rect x="436" width="12" height="12" fill="#bd0026"/><rect x="448" width="12" height="12" fill="#be0026"/><rect x="460" width="12" height="12" fill="#bf0126"/><rect x="472" width="12" height="12" fill="#c00225"/><rect x="484" width="12" height="12" fill="#c00225"/><rect x="496" width="12" height="12" fill="#c00225"/><rect x="508" width="12" height="12" fill="#bf0125"/><rect x="520" width="12" height="12" fill="#be0126"/><rect x="532" width="12" height="12" fill="#bd0026"/><rect x="544" width="12" height="12" fill="#bd0026"/></g><g transform="translate(0 306)"><rect x="268" width="12" height="12" fill="#e8241f"/><rect x="280" width="12" height="12" fill="#e8241f"/><rect x="292" width="12" height="12" fill="#e7231e"/><rect x="304" width="12" height="12" fill="#e0181d"/><rect x="316" width="12" height="12" fill="#ca0923"/><rect x="328" width="12" height="12" fill="#c20325"/><rect x="340" width="12" height="12" fill="#bf0125"/><rect x="352" width="12" height="12" fill="#be0126"/><rect x="364" width="12" height="12" fill="#be0126"/><rect x="376" width="12" height="12" fill="#be0126"/><rect x="388" width="12" height="12" fill="#be0126"/><rect x="400" width="12" height="12" fill="#bd0026"/><rect x="412" width="12" height="12" fill="#bd0026"/><rect x="424" width="12" height="12" fill="#bd0026"/><rect x="436" width="12" height="12" fill="#bd0026"/><rect x="448" width="12" height="12" fill="#bd0026"/><rect x="460" width="12" height="12" fill="#bf0126"/><rect x="496" width="12" height="12" fill="#bf0225"/><rect x="508" width="12" height="12" fill="#be0126"/><rect x="520" width="12" height="12" fill="#bd0026"/><rect x="532" width="12" height="12" fill="#bd0026"/><rect x="544" width="12" height="12" fill="#bd0026"/><rect x="556" width="12" height="12" fill="#bd0026"/></g><g transform="translate(0 318)"><rect x="316" width="12" height="12" fill="#c00225"/><rect x="328" width="12" height="12" fill="#be0026"/><rect x="340" width="12" height="12" fill="#bd0026"/><rect x="352" width="12" height="12" fill="#bd0026"/><rect x="364" width="12" height="12" fill="#be0026"/><rect x="376" width="12" height="12" fill="#be0126"/><rect x="508" width="12" height="12" fill="#be0026"/><rect x="520" width="12" height="12" fill="#bd0026"/><rect x="532" width="12" height="12" fill="#bd0026"/><rect x="544" width="12" height="12" fill="#bd0026"/><rect x="556" width="12" height="12" fill="#bd0026"/></g><g transform="translate(0 330)"><rect x="316" width="12" height="12" fill="#bd0026"/><rect x="328" width="12" height="12" fill="#bd0026"/><rect x="340" width="12" height="12" fill="#bd0026"/><rect x="352" width="12" height="12" fill="#bd0026"/><rect x="364" width="12" height="12" fill="#bd0026"/><rect x="520" width="12" height="12" fill="#bd0026"/><rect x="532" width="12" height="12" fill="#bd0026"/><rect x="544" width="12" height="12" fill="#bd0026"/><rect x="556" width="12" height="12" fill="#bd0026"/></g><g transform="translate(0 342)"><rect x="328" width="12" height="12" fill="#bd0026"/><rect x="340" width="12" height="12" fill="#bd0026"/><rect x="352" width="12" height="12" fill="#bd0026"/><rect x="364" width="12" height="12" fill="#bd0026"/><rect x="520" width="12" height="12" fill="#bd0026"/><rect x="532" width="12" height="12" fill="#bd0026"/><rect x="544" width="12" height="12" fill="#bd0026"/><rect x="556" width="12" height="12" fill="#bd0026"/></g><g transform="translate(0 354)"><rect x="340" width="12" height="12" fill="#bd0026"/><rect x="352" width="12" height="12" fill="#bd0026"/><rect x="364" width="12" height="12" fill="#bd0026"/><rect x="532" width="12" height="12" fill="#bd0026"/><rect x="544" width="12" height="12" fill="#bd0026"/><rect x="556" width="12" height="12" fill="#bd0026"/></g></g><g fill="none" stroke-linecap="round" stroke-linejoin="round" filter="url(#bl2)"><path d="M103.7 159.1L111.1 173.7 118.8 186.9 126.5 200.2 130 213.6 129.3 224.2" stroke="#fed976" stroke-width="9" opacity="0.8"/><path d="M115.6 47.3L113 66.9 108 81.3 103.6 99.7 99.5 116.8 95.5 134" stroke="#feb24c" stroke-width="9" opacity="0.6"/><path d="M270.3 149.8L271.9 163.1 267.1 176.3 262.3 185.6 253.2 193.6 260.6 201.6 272.2 213.6 270.8 221.6" stroke="#fec25c" stroke-width="16" opacity="0.7"/><path d="M245.8 186.9L252.1 194.9" stroke="#fec25c" stroke-width="10" opacity="0.7"/><path d="M225 95.8L228.5 106.3 233.1 118.1 240 130" stroke="#fec25c" stroke-width="11" opacity="0.7"/><path d="M254.5 98.4L260.3 110.2" stroke="#feb24c" stroke-width="7" opacity="0.6"/><path d="M214.8 153.8L227.9 152.5" stroke="#feb24c" stroke-width="7" opacity="0.6"/><path d="M207.2 137.9L208.3 155.1 208.3 172.3 202.1 185.6" stroke="#feb24c" stroke-width="7" opacity="0.6"/><path d="M166.6 53.8L172.2 70.8 173.9 86.6 178 99.7 185.6 110.2" stroke="#feb24c" stroke-width="14" opacity="0.6"/><path d="M189.2 46L196.9 64.3 203 78.7 212.7 89.2" stroke="#feb24c" stroke-width="11" opacity="0.5"/><path d="M196.6 226.9L210.5 236.2 223.5 242.9 235.5 249.6" stroke="#fd9d44" stroke-width="8" opacity="0.6"/><path d="M504.1 233.6L517.2 221.6 531.3 213.6 544.1 198.9 554.6 184.3 562.7 169.7 572.8 156.4 588.2 143.2" stroke="#fd8d3c" stroke-width="9" opacity="0.5"/><path d="M86.8 59.7L92.9 61" stroke="#feb24c" stroke-width="7" opacity="0.6"/><path d="M80.1 136.6L85.1 149.8 88.5 159.1" stroke="#fd9d44" stroke-width="9" opacity="0.5"/><path d="M139 86.6L144.3 97.1 151.9 94.5" stroke="#fd9d44" stroke-width="8" opacity="0.5"/><path d="M91.9 157.8L93.9 171 98.2 184.3 105.9 197.6 113.7 210.9 120.4 225.6" stroke="#c40e28" stroke-width="13" opacity="0.8"/><path d="M153.5 111.6L163.6 118.1 173.8 123.4 190 122.1 202.2 116.8 209 111.6" stroke="#e8301e" stroke-width="8" opacity="0.5"/></g><use href="#msk"/></g><g clip-path="url(#frm)" fill="none" stroke="#000" stroke-linejoin="round" stroke-linecap="round"><use href="#st" stroke-width="1"/><use href="#cst" stroke-width="1.8"/><use href="#out" stroke-width="1.8"/><use href="#intl" stroke-width="1.4"/><use href="#dots" fill="#000" stroke="none"/><use href="#mec" stroke-width="2.8"/><use href="#pug" fill="#000" stroke="#000" stroke-width="1.5"/><use href="#bays" fill="#fff" stroke="#000" stroke-width="1.5"/><use href="#pam" fill="none" stroke="#000" stroke-width="1.2"/></g><use href="#fr" fill="none" stroke="#1a1a1a" stroke-width="3.8" stroke-linejoin="miter"/><rect x="761.5" y="31.3" width="34" height="332.6" fill="url(#cb1)" stroke="#222" stroke-width="1"/><path d="M795.6 363.9h-3.5" stroke="#222" stroke-width="0.8"/><text x="802.8" y="371.9" font-size="22.4">15</text><path d="M795.6 280.8h-3.5" stroke="#222" stroke-width="0.8"/><text x="802.8" y="288.8" font-size="22.4">20</text><path d="M795.6 197.6h-3.5" stroke="#222" stroke-width="0.8"/><text x="802.8" y="205.6" font-size="22.4">25</text><path d="M795.6 114.4h-3.5" stroke="#222" stroke-width="0.8"/><text x="802.8" y="122.4" font-size="22.4">30</text><path d="M795.6 31.3h-3.5" stroke="#222" stroke-width="0.8"/><text x="802.8" y="39.3" font-size="22.4">35</text></g><g transform="translate(0 521.6)"><g clip-path="url(#land)"><g class="c" filter="url(#bl)"><g transform="translate(0 30)"><rect x="88" width="12" height="12" fill="#bb3c00"/><rect x="100" width="12" height="12" fill="#b33400"/><rect x="112" width="12" height="12" fill="#a92a00"/><rect x="124" width="12" height="12" fill="#9d1e00"/><rect x="136" width="12" height="12" fill="#911200"/><rect x="148" width="12" height="12" fill="#850500"/><rect x="160" width="12" height="12" fill="#7b0000"/><rect x="172" width="12" height="12" fill="#760000"/><rect x="184" width="12" height="12" fill="#750000"/><rect x="196" width="12" height="12" fill="#770000"/><rect x="208" width="12" height="12" fill="#7a0000"/><rect x="220" width="12" height="12" fill="#830300"/><rect x="232" width="12" height="12" fill="#8d0e00"/><rect x="244" width="12" height="12" fill="#951600"/><rect x="256" width="12" height="12" fill="#9a1b00"/><rect x="268" width="12" height="12" fill="#a02100"/><rect x="280" width="12" height="12" fill="#a52600"/><rect x="292" width="12" height="12" fill="#a82900"/><rect x="304" width="12" height="12" fill="#aa2b00"/><rect x="316" width="12" height="12" fill="#ac2d00"/><rect x="328" width="12" height="12" fill="#ab2c00"/><rect x="340" width="12" height="12" fill="#a82900"/><rect x="352" width="12" height="12" fill="#a32400"/><rect x="364" width="12" height="12" fill="#9d1e00"/><rect x="376" width="12" height="12" fill="#961700"/><rect x="388" width="12" height="12" fill="#911200"/><rect x="400" width="12" height="12" fill="#8d0e00"/></g><g transform="translate(0 42)"><rect x="64" width="12" height="12" fill="#c64700"/><rect x="76" width="12" height="12" fill="#c24300"/><rect x="88" width="12" height="12" fill="#bb3c00"/><rect x="100" width="12" height="12" fill="#b13200"/><rect x="112" width="12" height="12" fill="#a72800"/><rect x="124" width="12" height="12" fill="#9c1d00"/><rect x="136" width="12" height="12" fill="#901000"/><rect x="148" width="12" height="12" fill="#830400"/><rect x="160" width="12" height="12" fill="#7a0000"/><rect x="172" width="12" height="12" fill="#750000"/><rect x="184" width="12" height="12" fill="#750000"/><rect x="196" width="12" height="12" fill="#770000"/><rect x="208" width="12" height="12" fill="#7b0000"/><rect x="220" width="12" height="12" fill="#830400"/><rect x="232" width="12" height="12" fill="#8e0f00"/><rect x="244" width="12" height="12" fill="#951600"/><rect x="256" width="12" height="12" fill="#9a1b00"/><rect x="268" width="12" height="12" fill="#a02100"/><rect x="280" width="12" height="12" fill="#a52600"/><rect x="292" width="12" height="12" fill="#a92a00"/><rect x="304" width="12" height="12" fill="#ab2c00"/><rect x="316" width="12" height="12" fill="#ac2d00"/><rect x="328" width="12" height="12" fill="#ab2c00"/><rect x="340" width="12" height="12" fill="#a82900"/><rect x="352" width="12" height="12" fill="#a32400"/><rect x="364" width="12" height="12" fill="#9d1e00"/><rect x="376" width="12" height="12" fill="#961700"/><rect x="388" width="12" height="12" fill="#911100"/><rect x="400" width="12" height="12" fill="#8d0d00"/><rect x="412" width="12" height="12" fill="#8a0a00"/><rect x="424" width="12" height="12" fill="#870700"/></g><g transform="translate(0 54)"><rect x="64" width="12" height="12" fill="#c64700"/><rect x="76" width="12" height="12" fill="#c14200"/><rect x="88" width="12" height="12" fill="#ba3b00"/><rect x="100" width="12" height="12" fill="#b03100"/><rect x="112" width="12" height="12" fill="#a62700"/><rect x="124" width="12" height="12" fill="#9a1b00"/><rect x="136" width="12" height="12" fill="#8f0f00"/><rect x="148" width="12" height="12" fill="#820200"/><rect x="160" width="12" height="12" fill="#790000"/><rect x="172" width="12" height="12" fill="#760000"/><rect x="184" width="12" height="12" fill="#760000"/><rect x="196" width="12" height="12" fill="#780000"/><rect x="208" width="12" height="12" fill="#7d0000"/><rect x="220" width="12" height="12" fill="#850500"/><rect x="232" width="12" height="12" fill="#8f1000"/><rect x="244" width="12" height="12" fill="#961700"/><rect x="256" width="12" height="12" fill="#9b1c00"/><rect x="268" width="12" height="12" fill="#a02100"/><rect x="280" width="12" height="12" fill="#a62700"/><rect x="292" width="12" height="12" fill="#a92a00"/><rect x="304" width="12" height="12" fill="#ab2c00"/><rect x="316" width="12" height="12" fill="#ad2e00"/><rect x="328" width="12" height="12" fill="#ac2d00"/><rect x="340" width="12" height="12" fill="#a92a00"/><rect x="352" width="12" height="12" fill="#a42500"/><rect x="364" width="12" height="12" fill="#9e1f00"/><rect x="376" width="12" height="12" fill="#971800"/><rect x="388" width="12" height="12" fill="#911200"/><rect x="400" width="12" height="12" fill="#8d0d00"/><rect x="412" width="12" height="12" fill="#890900"/><rect x="424" width="12" height="12" fill="#850500"/><rect x="436" width="12" height="12" fill="#810100"/><rect x="448" width="12" height="12" fill="#7f0000"/><rect x="460" width="12" height="12" fill="#7f0000"/><rect x="484" width="12" height="12" fill="#7f0000"/><rect x="640" width="12" height="12" fill="#770000"/><rect x="652" width="12" height="12" fill="#770000"/><rect x="664" width="12" height="12" fill="#770000"/><rect x="676" width="12" height="12" fill="#770000"/></g><g transform="translate(0 66)"><rect x="64" width="12" height="12" fill="#c84900"/><rect x="76" width="12" height="12" fill="#c24300"/><rect x="88" width="12" height="12" fill="#bb3c00"/><rect x="100" width="12" height="12" fill="#b13200"/><rect x="112" width="12" height="12" fill="#a62700"/><rect x="124" width="12" height="12" fill="#9a1b00"/><rect x="136" width="12" height="12" fill="#8f0f00"/><rect x="148" width="12" height="12" fill="#830300"/><rect x="160" width="12" height="12" fill="#7b0000"/><rect x="172" width="12" height="12" fill="#790000"/><rect x="184" width="12" height="12" fill="#7b0000"/><rect x="196" width="12" height="12" fill="#7e0000"/><rect x="208" width="12" height="12" fill="#830300"/><rect x="220" width="12" height="12" fill="#8a0b00"/><rect x="232" width="12" height="12" fill="#921300"/><rect x="244" width="12" height="12" fill="#981900"/><rect x="256" width="12" height="12" fill="#9c1d00"/><rect x="268" width="12" height="12" fill="#a32400"/><rect x="280" width="12" height="12" fill="#a82900"/><rect x="292" width="12" height="12" fill="#ab2c00"/><rect x="304" width="12" height="12" fill="#ad2e00"/><rect x="316" width="12" height="12" fill="#af3000"/><rect x="328" width="12" height="12" fill="#af3000"/><rect x="340" width="12" height="12" fill="#ab2c00"/><rect x="352" width="12" height="12" fill="#a62700"/><rect x="364" width="12" height="12" fill="#a02100"/><rect x="376" width="12" height="12" fill="#9a1b00"/><rect x="388" width="12" height="12" fill="#941500"/><rect x="400" width="12" height="12" fill="#8f0f00"/><rect x="412" width="12" height="12" fill="#890900"/><rect x="424" width="12" height="12" fill="#840400"/><rect x="436" width="12" height="12" fill="#800000"/><rect x="448" width="12" height="12" fill="#7f0000"/><rect x="460" width="12" height="12" fill="#7f0000"/><rect x="472" width="12" height="12" fill="#7f0000"/><rect x="484" width="12" height="12" fill="#7f0000"/><rect x="496" width="12" height="12" fill="#7f0000"/><rect x="640" width="12" height="12" fill="#760000"/><rect x="652" width="12" height="12" fill="#770000"/><rect x="664" width="12" height="12" fill="#770000"/><rect x="676" width="12" height="12" fill="#770000"/></g><g transform="translate(0 78)"><rect x="64" width="12" height="12" fill="#ce4f00"/><rect x="76" width="12" height="12" fill="#c94a00"/><rect x="88" width="12" height="12" fill="#c14200"/><rect x="100" width="12" height="12" fill="#b63700"/><rect x="112" width="12" height="12" fill="#ab2c00"/><rect x="124" width="12" height="12" fill="#a02100"/><rect x="136" width="12" height="12" fill="#951600"/><rect x="148" width="12" height="12" fill="#8b0b00"/><rect x="160" width="12" height="12" fill="#850600"/><rect x="172" width="12" height="12" fill="#860600"/><rect x="184" width="12" height="12" fill="#8a0a00"/><rect x="196" width="12" height="12" fill="#8e0e00"/><rect x="208" width="12" height="12" fill="#931300"/><rect x="220" width="12" height="12" fill="#971800"/><rect x="232" width="12" height="12" fill="#9b1c00"/><rect x="244" width="12" height="12" fill="#9f2000"/><rect x="256" width="12" height="12" fill="#a42500"/><rect x="268" width="12" height="12" fill="#ac2d00"/><rect x="280" width="12" height="12" fill="#b13200"/><rect x="292" width="12" height="12" fill="#b33400"/><rect x="304" width="12" height="12" fill="#b53600"/><rect x="316" width="12" height="12" fill="#b73800"/><rect x="328" width="12" height="12" fill="#b63700"/><rect x="340" width="12" height="12" fill="#b33400"/><rect x="352" width="12" height="12" fill="#ad2e00"/><rect x="364" width="12" height="12" fill="#a72800"/><rect x="376" width="12" height="12" fill="#a12200"/><rect x="388" width="12" height="12" fill="#9b1c00"/><rect x="400" width="12" height="12" fill="#951600"/><rect x="412" width="12" height="12" fill="#8d0d00"/><rect x="424" width="12" height="12" fill="#850500"/><rect x="436" width="12" height="12" fill="#810100"/><rect x="448" width="12" height="12" fill="#7f0000"/><rect x="460" width="12" height="12" fill="#7f0000"/><rect x="472" width="12" height="12" fill="#7f0000"/><rect x="484" width="12" height="12" fill="#7f0000"/><rect x="496" width="12" height="12" fill="#7f0000"/><rect x="508" width="12" height="12" fill="#7f0000"/><rect x="592" width="12" height="12" fill="#710000"/><rect x="604" width="12" height="12" fill="#720000"/><rect x="616" width="12" height="12" fill="#730000"/><rect x="628" width="12" height="12" fill="#740000"/><rect x="640" width="12" height="12" fill="#750000"/><rect x="652" width="12" height="12" fill="#760000"/><rect x="664" width="12" height="12" fill="#770000"/><rect x="676" width="12" height="12" fill="#770000"/></g><g transform="translate(0 90)"><rect x="64" width="12" height="12" fill="#d85900"/><rect x="76" width="12" height="12" fill="#d35400"/><rect x="88" width="12" height="12" fill="#cb4c00"/><rect x="100" width="12" height="12" fill="#c04100"/><rect x="112" width="12" height="12" fill="#b43500"/><rect x="124" width="12" height="12" fill="#aa2b00"/><rect x="136" width="12" height="12" fill="#a22300"/><rect x="148" width="12" height="12" fill="#9b1c00"/><rect x="160" width="12" height="12" fill="#981900"/><rect x="172" width="12" height="12" fill="#991a00"/><rect x="184" width="12" height="12" fill="#9b1c00"/><rect x="196" width="12" height="12" fill="#9f2000"/><rect x="208" width="12" height="12" fill="#a22300"/><rect x="220" width="12" height="12" fill="#a62700"/><rect x="232" width="12" height="12" fill="#aa2b00"/><rect x="244" width="12" height="12" fill="#af3000"/><rect x="256" width="12" height="12" fill="#b63700"/><rect x="268" width="12" height="12" fill="#bc3d00"/><rect x="280" width="12" height="12" fill="#be3f00"/><rect x="292" width="12" height="12" fill="#bf4000"/><rect x="304" width="12" height="12" fill="#c04100"/><rect x="316" width="12" height="12" fill="#c04100"/><rect x="328" width="12" height="12" fill="#bf4000"/><rect x="340" width="12" height="12" fill="#bb3c00"/><rect x="352" width="12" height="12" fill="#b43500"/><rect x="364" width="12" height="12" fill="#ae2f00"/><rect x="376" width="12" height="12" fill="#a82900"/><rect x="388" width="12" height="12" fill="#a32400"/><rect x="400" width="12" height="12" fill="#9d1e00"/><rect x="412" width="12" height="12" fill="#941500"/><rect x="424" width="12" height="12" fill="#8a0a00"/><rect x="436" width="12" height="12" fill="#830300"/><rect x="448" width="12" height="12" fill="#800000"/><rect x="460" width="12" height="12" fill="#7f0000"/><rect x="472" width="12" height="12" fill="#7f0000"/><rect x="484" width="12" height="12" fill="#7f0000"/><rect x="496" width="12" height="12" fill="#7f0000"/><rect x="508" width="12" height="12" fill="#7f0000"/><rect x="580" width="12" height="12" fill="#710000"/><rect x="592" width="12" height="12" fill="#710000"/><rect x="604" width="12" height="12" fill="#710000"/><rect x="616" width="12" height="12" fill="#720000"/><rect x="628" width="12" height="12" fill="#730000"/><rect x="640" width="12" height="12" fill="#740000"/><rect x="652" width="12" height="12" fill="#750000"/><rect x="664" width="12" height="12" fill="#760000"/><rect x="676" width="12" height="12" fill="#770000"/><rect x="688" width="12" height="12" fill="#770000"/></g><g transform="translate(0 102)"><rect x="64" width="12" height="12" fill="#e06100"/><rect x="76" width="12" height="12" fill="#da5b00"/><rect x="88" width="12" height="12" fill="#d25300"/><rect x="100" width="12" height="12" fill="#c64700"/><rect x="112" width="12" height="12" fill="#b83900"/><rect x="124" width="12" height="12" fill="#ae2f00"/><rect x="136" width="12" height="12" fill="#a72800"/><rect x="148" width="12" height="12" fill="#a22300"/><rect x="160" width="12" height="12" fill="#a02100"/><rect x="172" width="12" height="12" fill="#a02100"/><rect x="184" width="12" height="12" fill="#a22300"/><rect x="196" width="12" height="12" fill="#a52600"/><rect x="208" width="12" height="12" fill="#a92a00"/><rect x="220" width="12" height="12" fill="#ad2e00"/><rect x="232" width="12" height="12" fill="#b33400"/><rect x="244" width="12" height="12" fill="#b93a00"/><rect x="256" width="12" height="12" fill="#be3f00"/><rect x="268" width="12" height="12" fill="#c14200"/><rect x="280" width="12" height="12" fill="#c34400"/><rect x="292" width="12" height="12" fill="#c44500"/><rect x="304" width="12" height="12" fill="#c54600"/><rect x="316" width="12" height="12" fill="#c54600"/><rect x="328" width="12" height="12" fill="#c34400"/><rect x="340" width="12" height="12" fill="#bf4000"/><rect x="352" width="12" height="12" fill="#b93a00"/><rect x="364" width="12" height="12" fill="#b13200"/><rect x="376" width="12" height="12" fill="#ab2c00"/><rect x="388" width="12" height="12" fill="#a62700"/><rect x="400" width="12" height="12" fill="#a22300"/><rect x="412" width="12" height="12" fill="#9d1e00"/><rect x="424" width="12" height="12" fill="#931400"/><rect x="436" width="12" height="12" fill="#890a00"/><rect x="448" width="12" height="12" fill="#840400"/><rect x="460" width="12" height="12" fill="#820200"/><rect x="472" width="12" height="12" fill="#800000"/><rect x="484" width="12" height="12" fill="#7f0000"/><rect x="496" width="12" height="12" fill="#7f0000"/><rect x="508" width="12" height="12" fill="#7f0000"/><rect x="520" width="12" height="12" fill="#7f0000"/><rect x="556" width="12" height="12" fill="#720000"/><rect x="568" width="12" height="12" fill="#710000"/><rect x="580" width="12" height="12" fill="#710000"/><rect x="592" width="12" height="12" fill="#720000"/><rect x="604" width="12" height="12" fill="#720000"/><rect x="616" width="12" height="12" fill="#720000"/><rect x="628" width="12" height="12" fill="#720000"/><rect x="640" width="12" height="12" fill="#730000"/><rect x="652" width="12" height="12" fill="#740000"/><rect x="664" width="12" height="12" fill="#760000"/><rect x="676" width="12" height="12" fill="#760000"/><rect x="688" width="12" height="12" fill="#770000"/></g><g transform="translate(0 114)"><rect x="52" width="12" height="12" fill="#f07100"/><rect x="64" width="12" height="12" fill="#eb6c00"/><rect x="76" width="12" height="12" fill="#e56600"/><rect x="88" width="12" height="12" fill="#db5c00"/><rect x="100" width="12" height="12" fill="#cc4d00"/><rect x="112" width="12" height="12" fill="#bb3c00"/><rect x="124" width="12" height="12" fill="#af3000"/><rect x="136" width="12" height="12" fill="#a92a00"/><rect x="148" width="12" height="12" fill="#a42500"/><rect x="160" width="12" height="12" fill="#a22300"/><rect x="172" width="12" height="12" fill="#a12200"/><rect x="184" width="12" height="12" fill="#a32400"/><rect x="196" width="12" height="12" fill="#a72800"/><rect x="208" width="12" height="12" fill="#ac2d00"/><rect x="220" width="12" height="12" fill="#b23300"/><rect x="232" width="12" height="12" fill="#b83900"/><rect x="244" width="12" height="12" fill="#bb3c00"/><rect x="256" width="12" height="12" fill="#be3f00"/><rect x="268" width="12" height="12" fill="#c24300"/><rect x="280" width="12" height="12" fill="#c44500"/><rect x="292" width="12" height="12" fill="#c54600"/><rect x="304" width="12" height="12" fill="#c74800"/><rect x="316" width="12" height="12" fill="#c84900"/><rect x="328" width="12" height="12" fill="#c74800"/><rect x="340" width="12" height="12" fill="#c44500"/><rect x="352" width="12" height="12" fill="#be3f00"/><rect x="364" width="12" height="12" fill="#b63700"/><rect x="376" width="12" height="12" fill="#ae2f00"/><rect x="388" width="12" height="12" fill="#a92a00"/><rect x="400" width="12" height="12" fill="#a62700"/><rect x="412" width="12" height="12" fill="#a32400"/><rect x="424" width="12" height="12" fill="#9c1d00"/><rect x="436" width="12" height="12" fill="#931300"/><rect x="448" width="12" height="12" fill="#8d0d00"/><rect x="460" width="12" height="12" fill="#890900"/><rect x="472" width="12" height="12" fill="#840400"/><rect x="484" width="12" height="12" fill="#820200"/><rect x="496" width="12" height="12" fill="#810100"/><rect x="508" width="12" height="12" fill="#820200"/><rect x="520" width="12" height="12" fill="#840400"/><rect x="544" width="12" height="12" fill="#770000"/><rect x="556" width="12" height="12" fill="#720000"/><rect x="568" width="12" height="12" fill="#720000"/><rect x="580" width="12" height="12" fill="#720000"/><rect x="592" width="12" height="12" fill="#730000"/><rect x="604" width="12" height="12" fill="#740000"/><rect x="616" width="12" height="12" fill="#730000"/><rect x="628" width="12" height="12" fill="#730000"/><rect x="640" width="12" height="12" fill="#720000"/><rect x="652" width="12" height="12" fill="#730000"/><rect x="664" width="12" height="12" fill="#750000"/></g><g transform="translate(0 126)"><rect x="64" width="12" height="12" fill="#fa7b00"/><rect x="76" width="12" height="12" fill="#f47500"/><rect x="88" width="12" height="12" fill="#e96a00"/><rect x="100" width="12" height="12" fill="#d95a00"/><rect x="112" width="12" height="12" fill="#c34400"/><rect x="124" width="12" height="12" fill="#b23300"/><rect x="136" width="12" height="12" fill="#aa2b00"/><rect x="148" width="12" height="12" fill="#a62700"/><rect x="160" width="12" height="12" fill="#a42500"/><rect x="172" width="12" height="12" fill="#a42500"/><rect x="184" width="12" height="12" fill="#a62700"/><rect x="196" width="12" height="12" fill="#ab2c00"/><rect x="208" width="12" height="12" fill="#b13200"/><rect x="220" width="12" height="12" fill="#b63700"/><rect x="232" width="12" height="12" fill="#ba3b00"/><rect x="244" width="12" height="12" fill="#bc3d00"/><rect x="256" width="12" height="12" fill="#be3f00"/><rect x="268" width="12" height="12" fill="#c14200"/><rect x="280" width="12" height="12" fill="#c44500"/><rect x="292" width="12" height="12" fill="#c74800"/><rect x="304" width="12" height="12" fill="#ca4b00"/><rect x="316" width="12" height="12" fill="#cb4c00"/><rect x="328" width="12" height="12" fill="#cb4c00"/><rect x="340" width="12" height="12" fill="#c94a00"/><rect x="352" width="12" height="12" fill="#c54600"/><rect x="364" width="12" height="12" fill="#bf4000"/><rect x="376" width="12" height="12" fill="#b63700"/><rect x="388" width="12" height="12" fill="#ad2e00"/><rect x="400" width="12" height="12" fill="#a92a00"/><rect x="412" width="12" height="12" fill="#a52600"/><rect x="424" width="12" height="12" fill="#9e1f00"/><rect x="436" width="12" height="12" fill="#961700"/><rect x="448" width="12" height="12" fill="#911200"/><rect x="460" width="12" height="12" fill="#8f1000"/><rect x="472" width="12" height="12" fill="#8d0e00"/><rect x="484" width="12" height="12" fill="#8b0b00"/><rect x="496" width="12" height="12" fill="#8a0a00"/><rect x="508" width="12" height="12" fill="#8a0a00"/><rect x="520" width="12" height="12" fill="#8b0b00"/><rect x="532" width="12" height="12" fill="#870700"/><rect x="544" width="12" height="12" fill="#7c0000"/><rect x="556" width="12" height="12" fill="#750000"/><rect x="568" width="12" height="12" fill="#740000"/><rect x="580" width="12" height="12" fill="#750000"/><rect x="592" width="12" height="12" fill="#780000"/><rect x="604" width="12" height="12" fill="#7b0000"/><rect x="616" width="12" height="12" fill="#7b0000"/><rect x="628" width="12" height="12" fill="#780000"/><rect x="640" width="12" height="12" fill="#750000"/><rect x="652" width="12" height="12" fill="#730000"/></g><g transform="translate(0 138)"><rect x="64" width="12" height="12" fill="#ff8606"/><rect x="76" width="12" height="12" fill="#fe7f00"/><rect x="88" width="12" height="12" fill="#f47500"/><rect x="100" width="12" height="12" fill="#e46500"/><rect x="112" width="12" height="12" fill="#ce4f00"/><rect x="124" width="12" height="12" fill="#b73800"/><rect x="136" width="12" height="12" fill="#ac2d00"/><rect x="148" width="12" height="12" fill="#a92a00"/><rect x="160" width="12" height="12" fill="#a92a00"/><rect x="172" width="12" height="12" fill="#aa2b00"/><rect x="184" width="12" height="12" fill="#b03100"/><rect x="196" width="12" height="12" fill="#b63700"/><rect x="208" width="12" height="12" fill="#b93a00"/><rect x="220" width="12" height="12" fill="#ba3b00"/><rect x="232" width="12" height="12" fill="#bc3d00"/><rect x="244" width="12" height="12" fill="#bd3e00"/><rect x="256" width="12" height="12" fill="#bf4000"/><rect x="268" width="12" height="12" fill="#c34400"/><rect x="280" width="12" height="12" fill="#c64700"/><rect x="292" width="12" height="12" fill="#ca4b00"/><rect x="304" width="12" height="12" fill="#cd4e00"/><rect x="316" width="12" height="12" fill="#ce4f00"/><rect x="328" width="12" height="12" fill="#cd4e00"/><rect x="340" width="12" height="12" fill="#cc4d00"/><rect x="352" width="12" height="12" fill="#c94a00"/><rect x="364" width="12" height="12" fill="#c54600"/><rect x="376" width="12" height="12" fill="#be3f00"/><rect x="388" width="12" height="12" fill="#b33400"/><rect x="400" width="12" height="12" fill="#ad2e00"/><rect x="412" width="12" height="12" fill="#a82900"/><rect x="424" width="12" height="12" fill="#a22300"/><rect x="436" width="12" height="12" fill="#9a1b00"/><rect x="448" width="12" height="12" fill="#961700"/><rect x="460" width="12" height="12" fill="#951600"/><rect x="472" width="12" height="12" fill="#941500"/><rect x="484" width="12" height="12" fill="#931400"/><rect x="496" width="12" height="12" fill="#911200"/><rect x="508" width="12" height="12" fill="#8f0f00"/><rect x="520" width="12" height="12" fill="#8d0e00"/><rect x="532" width="12" height="12" fill="#8a0b00"/><rect x="544" width="12" height="12" fill="#820200"/><rect x="556" width="12" height="12" fill="#7a0000"/><rect x="568" width="12" height="12" fill="#790000"/><rect x="580" width="12" height="12" fill="#7c0000"/><rect x="592" width="12" height="12" fill="#810100"/><rect x="604" width="12" height="12" fill="#870700"/><rect x="616" width="12" height="12" fill="#8a0a00"/><rect x="628" width="12" height="12" fill="#880800"/><rect x="640" width="12" height="12" fill="#820200"/><rect x="652" width="12" height="12" fill="#7a0000"/><rect x="664" width="12" height="12" fill="#760000"/></g><g transform="translate(0 150)"><rect x="52" width="12" height="12" fill="#ff9112"/><rect x="64" width="12" height="12" fill="#ff8d0d"/><rect x="76" width="12" height="12" fill="#ff8505"/><rect x="88" width="12" height="12" fill="#f87900"/><rect x="100" width="12" height="12" fill="#e96a00"/><rect x="112" width="12" height="12" fill="#d55600"/><rect x="124" width="12" height="12" fill="#bc3d00"/><rect x="136" width="12" height="12" fill="#af3000"/><rect x="148" width="12" height="12" fill="#ad2e00"/><rect x="160" width="12" height="12" fill="#ae2f00"/><rect x="172" width="12" height="12" fill="#b23300"/><rect x="184" width="12" height="12" fill="#b93a00"/><rect x="196" width="12" height="12" fill="#bb3c00"/><rect x="208" width="12" height="12" fill="#bc3d00"/><rect x="220" width="12" height="12" fill="#bc3d00"/><rect x="232" width="12" height="12" fill="#bd3e00"/><rect x="244" width="12" height="12" fill="#c14200"/><rect x="256" width="12" height="12" fill="#c44500"/><rect x="268" width="12" height="12" fill="#c64700"/><rect x="280" width="12" height="12" fill="#c94a00"/><rect x="292" width="12" height="12" fill="#cc4d00"/><rect x="304" width="12" height="12" fill="#ce4f00"/><rect x="316" width="12" height="12" fill="#cf5000"/><rect x="328" width="12" height="12" fill="#ce4f00"/><rect x="340" width="12" height="12" fill="#cd4e00"/><rect x="352" width="12" height="12" fill="#cc4d00"/><rect x="364" width="12" height="12" fill="#c94a00"/><rect x="376" width="12" height="12" fill="#c54600"/><rect x="388" width="12" height="12" fill="#bd3e00"/><rect x="400" width="12" height="12" fill="#b73800"/><rect x="412" width="12" height="12" fill="#b33400"/><rect x="424" width="12" height="12" fill="#ad2e00"/><rect x="436" width="12" height="12" fill="#a62700"/><rect x="448" width="12" height="12" fill="#a12200"/><rect x="460" width="12" height="12" fill="#9e1f00"/><rect x="472" width="12" height="12" fill="#9b1c00"/><rect x="484" width="12" height="12" fill="#981900"/><rect x="496" width="12" height="12" fill="#941500"/><rect x="508" width="12" height="12" fill="#911100"/><rect x="520" width="12" height="12" fill="#8f0f00"/><rect x="532" width="12" height="12" fill="#8e0e00"/><rect x="544" width="12" height="12" fill="#8a0a00"/><rect x="556" width="12" height="12" fill="#840400"/><rect x="568" width="12" height="12" fill="#820200"/><rect x="580" width="12" height="12" fill="#850600"/><rect x="592" width="12" height="12" fill="#8b0b00"/><rect x="604" width="12" height="12" fill="#901000"/><rect x="616" width="12" height="12" fill="#931300"/><rect x="628" width="12" height="12" fill="#931400"/><rect x="640" width="12" height="12" fill="#911200"/></g><g transform="translate(0 162)"><rect x="64" width="12" height="12" fill="#ff9717"/><rect x="76" width="12" height="12" fill="#ff8e0f"/><rect x="88" width="12" height="12" fill="#ff8202"/><rect x="100" width="12" height="12" fill="#f17200"/><rect x="112" width="12" height="12" fill="#de5f00"/><rect x="124" width="12" height="12" fill="#c74800"/><rect x="136" width="12" height="12" fill="#b93a00"/><rect x="148" width="12" height="12" fill="#b63700"/><rect x="160" width="12" height="12" fill="#b93a00"/><rect x="172" width="12" height="12" fill="#bc3d00"/><rect x="184" width="12" height="12" fill="#bd3e00"/><rect x="196" width="12" height="12" fill="#bc3d00"/><rect x="208" width="12" height="12" fill="#bc3d00"/><rect x="220" width="12" height="12" fill="#bc3d00"/><rect x="232" width="12" height="12" fill="#bf4000"/><rect x="244" width="12" height="12" fill="#c34400"/><rect x="256" width="12" height="12" fill="#c64700"/><rect x="268" width="12" height="12" fill="#c74800"/><rect x="280" width="12" height="12" fill="#c94a00"/><rect x="292" width="12" height="12" fill="#cc4d00"/><rect x="304" width="12" height="12" fill="#ce4f00"/><rect x="316" width="12" height="12" fill="#d05100"/><rect x="328" width="12" height="12" fill="#d15200"/><rect x="340" width="12" height="12" fill="#d15200"/><rect x="352" width="12" height="12" fill="#d15200"/><rect x="364" width="12" height="12" fill="#d05100"/><rect x="376" width="12" height="12" fill="#ce4f00"/><rect x="388" width="12" height="12" fill="#ca4b00"/><rect x="400" width="12" height="12" fill="#c64700"/><rect x="412" width="12" height="12" fill="#c14200"/><rect x="424" width="12" height="12" fill="#ba3b00"/><rect x="436" width="12" height="12" fill="#b33400"/><rect x="448" width="12" height="12" fill="#ad2e00"/><rect x="460" width="12" height="12" fill="#a82900"/><rect x="472" width="12" height="12" fill="#a32400"/><rect x="484" width="12" height="12" fill="#9f2000"/><rect x="496" width="12" height="12" fill="#9b1c00"/><rect x="508" width="12" height="12" fill="#951600"/><rect x="520" width="12" height="12" fill="#921200"/><rect x="532" width="12" height="12" fill="#921300"/><rect x="544" width="12" height="12" fill="#921300"/><rect x="556" width="12" height="12" fill="#911100"/><rect x="568" width="12" height="12" fill="#8f1000"/><rect x="580" width="12" height="12" fill="#911200"/><rect x="592" width="12" height="12" fill="#931400"/><rect x="604" width="12" height="12" fill="#961600"/><rect x="616" width="12" height="12" fill="#961700"/></g><g transform="translate(0 174)"><rect x="64" width="12" height="12" fill="#ffa526"/><rect x="76" width="12" height="12" fill="#ff9d1e"/><rect x="88" width="12" height="12" fill="#ff9011"/><rect x="100" width="12" height="12" fill="#fe7f00"/><rect x="112" width="12" height="12" fill="#ec6d00"/><rect x="124" width="12" height="12" fill="#d95a00"/><rect x="136" width="12" height="12" fill="#cd4e00"/><rect x="148" width="12" height="12" fill="#ca4b00"/><rect x="160" width="12" height="12" fill="#cb4c00"/><rect x="172" width="12" height="12" fill="#c94a00"/><rect x="184" width="12" height="12" fill="#c24300"/><rect x="196" width="12" height="12" fill="#be3f00"/><rect x="208" width="12" height="12" fill="#bd3e00"/><rect x="220" width="12" height="12" fill="#bd3e00"/><rect x="232" width="12" height="12" fill="#c04100"/><rect x="244" width="12" height="12" fill="#c54600"/><rect x="256" width="12" height="12" fill="#c64700"/><rect x="268" width="12" height="12" fill="#c74800"/><rect x="280" width="12" height="12" fill="#ca4b00"/><rect x="292" width="12" height="12" fill="#cc4d00"/><rect x="304" width="12" height="12" fill="#cf5000"/><rect x="316" width="12" height="12" fill="#d15200"/><rect x="328" width="12" height="12" fill="#d45500"/><rect x="340" width="12" height="12" fill="#d55600"/><rect x="352" width="12" height="12" fill="#d65700"/><rect x="364" width="12" height="12" fill="#d55600"/><rect x="376" width="12" height="12" fill="#d55600"/><rect x="388" width="12" height="12" fill="#d25300"/><rect x="400" width="12" height="12" fill="#ce4f00"/><rect x="412" width="12" height="12" fill="#c84900"/><rect x="424" width="12" height="12" fill="#c04100"/><rect x="436" width="12" height="12" fill="#b93a00"/><rect x="448" width="12" height="12" fill="#b53600"/><rect x="460" width="12" height="12" fill="#b13200"/><rect x="472" width="12" height="12" fill="#ae2f00"/><rect x="484" width="12" height="12" fill="#ac2d00"/><rect x="496" width="12" height="12" fill="#a92a00"/><rect x="508" width="12" height="12" fill="#a12200"/><rect x="520" width="12" height="12" fill="#9a1b00"/><rect x="532" width="12" height="12" fill="#981900"/><rect x="544" width="12" height="12" fill="#991a00"/><rect x="556" width="12" height="12" fill="#9a1b00"/><rect x="568" width="12" height="12" fill="#9a1b00"/><rect x="580" width="12" height="12" fill="#9b1c00"/><rect x="592" width="12" height="12" fill="#9b1c00"/><rect x="604" width="12" height="12" fill="#9b1c00"/><rect x="616" width="12" height="12" fill="#991a00"/></g><g transform="translate(0 186)"><rect x="64" width="12" height="12" fill="#ffb334"/><rect x="76" width="12" height="12" fill="#ffaa2b"/><rect x="88" width="12" height="12" fill="#ff9a1b"/><rect x="100" width="12" height="12" fill="#ff8707"/><rect x="112" width="12" height="12" fill="#f47500"/><rect x="124" width="12" height="12" fill="#e66700"/><rect x="136" width="12" height="12" fill="#dd5e00"/><rect x="148" width="12" height="12" fill="#da5b00"/><rect x="160" width="12" height="12" fill="#d85900"/><rect x="172" width="12" height="12" fill="#d45500"/><rect x="184" width="12" height="12" fill="#cb4c00"/><rect x="196" width="12" height="12" fill="#c54600"/><rect x="208" width="12" height="12" fill="#c34400"/><rect x="220" width="12" height="12" fill="#c34400"/><rect x="232" width="12" height="12" fill="#c54600"/><rect x="244" width="12" height="12" fill="#c74800"/><rect x="256" width="12" height="12" fill="#c84900"/><rect x="268" width="12" height="12" fill="#c94a00"/><rect x="280" width="12" height="12" fill="#cb4c00"/><rect x="292" width="12" height="12" fill="#ce4f00"/><rect x="304" width="12" height="12" fill="#d15200"/><rect x="316" width="12" height="12" fill="#d55600"/><rect x="328" width="12" height="12" fill="#d85900"/><rect x="340" width="12" height="12" fill="#d95a00"/><rect x="352" width="12" height="12" fill="#d95a00"/><rect x="364" width="12" height="12" fill="#d85900"/><rect x="376" width="12" height="12" fill="#d85900"/><rect x="388" width="12" height="12" fill="#d55600"/><rect x="400" width="12" height="12" fill="#d15200"/><rect x="412" width="12" height="12" fill="#cb4c00"/><rect x="424" width="12" height="12" fill="#c34400"/><rect x="436" width="12" height="12" fill="#bd3e00"/><rect x="448" width="12" height="12" fill="#b93a00"/><rect x="460" width="12" height="12" fill="#b93a00"/><rect x="472" width="12" height="12" fill="#ba3b00"/><rect x="484" width="12" height="12" fill="#bb3c00"/><rect x="496" width="12" height="12" fill="#bb3c00"/><rect x="508" width="12" height="12" fill="#b63700"/><rect x="520" width="12" height="12" fill="#ab2c00"/><rect x="532" width="12" height="12" fill="#a32400"/><rect x="544" width="12" height="12" fill="#a12200"/><rect x="556" width="12" height="12" fill="#a22300"/><rect x="568" width="12" height="12" fill="#a32400"/><rect x="580" width="12" height="12" fill="#a42500"/><rect x="592" width="12" height="12" fill="#a42500"/><rect x="604" width="12" height="12" fill="#a22300"/></g><g transform="translate(0 198)"><rect x="76" width="12" height="12" fill="#ffb031"/><rect x="88" width="12" height="12" fill="#ffa021"/><rect x="100" width="12" height="12" fill="#ff8e0e"/><rect x="112" width="12" height="12" fill="#fe7f00"/><rect x="124" width="12" height="12" fill="#f47500"/><rect x="136" width="12" height="12" fill="#ef7000"/><rect x="148" width="12" height="12" fill="#ea6b00"/><rect x="160" width="12" height="12" fill="#e56600"/><rect x="172" width="12" height="12" fill="#e06100"/><rect x="184" width="12" height="12" fill="#dc5d00"/><rect x="196" width="12" height="12" fill="#d85900"/><rect x="208" width="12" height="12" fill="#d75800"/><rect x="220" width="12" height="12" fill="#d75800"/><rect x="232" width="12" height="12" fill="#d65700"/><rect x="244" width="12" height="12" fill="#d35400"/><rect x="256" width="12" height="12" fill="#d25300"/><rect x="268" width="12" height="12" fill="#d15200"/><rect x="280" width="12" height="12" fill="#d35400"/><rect x="292" width="12" height="12" fill="#d85900"/><rect x="304" width="12" height="12" fill="#dd5e00"/><rect x="316" width="12" height="12" fill="#df6000"/><rect x="328" width="12" height="12" fill="#df6000"/><rect x="340" width="12" height="12" fill="#dd5e00"/><rect x="352" width="12" height="12" fill="#dc5d00"/><rect x="364" width="12" height="12" fill="#db5c00"/><rect x="376" width="12" height="12" fill="#da5b00"/><rect x="388" width="12" height="12" fill="#d95a00"/><rect x="400" width="12" height="12" fill="#d65700"/><rect x="412" width="12" height="12" fill="#d25300"/><rect x="424" width="12" height="12" fill="#cb4c00"/><rect x="436" width="12" height="12" fill="#c24300"/><rect x="448" width="12" height="12" fill="#bf4000"/><rect x="460" width="12" height="12" fill="#c24300"/><rect x="472" width="12" height="12" fill="#c54600"/><rect x="484" width="12" height="12" fill="#c64700"/><rect x="496" width="12" height="12" fill="#c64700"/><rect x="508" width="12" height="12" fill="#c44500"/><rect x="520" width="12" height="12" fill="#be3f00"/><rect x="532" width="12" height="12" fill="#b53600"/><rect x="544" width="12" height="12" fill="#b03100"/><rect x="556" width="12" height="12" fill="#af3000"/><rect x="568" width="12" height="12" fill="#b03100"/><rect x="580" width="12" height="12" fill="#b23300"/><rect x="592" width="12" height="12" fill="#b43500"/><rect x="604" width="12" height="12" fill="#b33400"/></g><g transform="translate(0 210)"><rect x="76" width="12" height="12" fill="#ffb536"/><rect x="88" width="12" height="12" fill="#ffa829"/><rect x="100" width="12" height="12" fill="#ff9b1c"/><rect x="112" width="12" height="12" fill="#ff9213"/><rect x="124" width="12" height="12" fill="#ff8f0f"/><rect x="136" width="12" height="12" fill="#ff8d0d"/><rect x="148" width="12" height="12" fill="#ff8707"/><rect x="160" width="12" height="12" fill="#fe7f00"/><rect x="172" width="12" height="12" fill="#f47500"/><rect x="184" width="12" height="12" fill="#ea6b00"/><rect x="196" width="12" height="12" fill="#e46500"/><rect x="208" width="12" height="12" fill="#e26300"/><rect x="220" width="12" height="12" fill="#e16200"/><rect x="232" width="12" height="12" fill="#e06100"/><rect x="244" width="12" height="12" fill="#df6000"/><rect x="256" width="12" height="12" fill="#df6000"/><rect x="268" width="12" height="12" fill="#df6000"/><rect x="280" width="12" height="12" fill="#e16200"/><rect x="292" width="12" height="12" fill="#e56600"/><rect x="304" width="12" height="12" fill="#e76800"/><rect x="316" width="12" height="12" fill="#e86900"/><rect x="328" width="12" height="12" fill="#e56600"/><rect x="340" width="12" height="12" fill="#e16200"/><rect x="352" width="12" height="12" fill="#df6000"/><rect x="364" width="12" height="12" fill="#de5f00"/><rect x="376" width="12" height="12" fill="#dd5e00"/><rect x="388" width="12" height="12" fill="#dd5e00"/><rect x="400" width="12" height="12" fill="#dd5e00"/><rect x="412" width="12" height="12" fill="#dc5d00"/><rect x="424" width="12" height="12" fill="#d95a00"/><rect x="436" width="12" height="12" fill="#d25300"/><rect x="448" width="12" height="12" fill="#cd4e00"/><rect x="460" width="12" height="12" fill="#ce4f00"/><rect x="472" width="12" height="12" fill="#ce4f00"/><rect x="484" width="12" height="12" fill="#cd4e00"/><rect x="496" width="12" height="12" fill="#cc4d00"/><rect x="508" width="12" height="12" fill="#ca4b00"/><rect x="520" width="12" height="12" fill="#ca4b00"/><rect x="532" width="12" height="12" fill="#c84900"/><rect x="544" width="12" height="12" fill="#c54600"/><rect x="556" width="12" height="12" fill="#c24300"/><rect x="568" width="12" height="12" fill="#c14200"/><rect x="580" width="12" height="12" fill="#c34400"/><rect x="592" width="12" height="12" fill="#c44500"/><rect x="604" width="12" height="12" fill="#c54600"/></g><g transform="translate(0 222)"><rect x="88" width="12" height="12" fill="#ffb637"/><rect x="100" width="12" height="12" fill="#ffb132"/><rect x="112" width="12" height="12" fill="#ffaf30"/><rect x="124" width="12" height="12" fill="#ffae2f"/><rect x="136" width="12" height="12" fill="#ffa92a"/><rect x="148" width="12" height="12" fill="#ffa021"/><rect x="160" width="12" height="12" fill="#ff9516"/><rect x="172" width="12" height="12" fill="#ff8707"/><rect x="184" width="12" height="12" fill="#f67700"/><rect x="196" width="12" height="12" fill="#ec6d00"/><rect x="208" width="12" height="12" fill="#e76800"/><rect x="220" width="12" height="12" fill="#e56600"/><rect x="232" width="12" height="12" fill="#e36400"/><rect x="244" width="12" height="12" fill="#e26300"/><rect x="256" width="12" height="12" fill="#e26300"/><rect x="268" width="12" height="12" fill="#e26300"/><rect x="280" width="12" height="12" fill="#e56600"/><rect x="292" width="12" height="12" fill="#e96a00"/><rect x="304" width="12" height="12" fill="#ea6b00"/><rect x="316" width="12" height="12" fill="#ea6b00"/><rect x="328" width="12" height="12" fill="#e76800"/><rect x="340" width="12" height="12" fill="#e36400"/><rect x="352" width="12" height="12" fill="#e16200"/><rect x="364" width="12" height="12" fill="#e06100"/><rect x="376" width="12" height="12" fill="#e06100"/><rect x="388" width="12" height="12" fill="#e06100"/><rect x="400" width="12" height="12" fill="#e16200"/><rect x="412" width="12" height="12" fill="#e16200"/><rect x="424" width="12" height="12" fill="#e16200"/><rect x="436" width="12" height="12" fill="#e26300"/><rect x="448" width="12" height="12" fill="#e06100"/><rect x="460" width="12" height="12" fill="#db5c00"/><rect x="472" width="12" height="12" fill="#d75800"/><rect x="484" width="12" height="12" fill="#d45500"/><rect x="496" width="12" height="12" fill="#d25300"/><rect x="508" width="12" height="12" fill="#d15200"/><rect x="520" width="12" height="12" fill="#d35400"/><rect x="532" width="12" height="12" fill="#d55600"/><rect x="544" width="12" height="12" fill="#d35400"/><rect x="556" width="12" height="12" fill="#d05100"/><rect x="568" width="12" height="12" fill="#ce4f00"/><rect x="580" width="12" height="12" fill="#cd4e00"/><rect x="592" width="12" height="12" fill="#cd4e00"/><rect x="604" width="12" height="12" fill="#cd4e00"/></g><g transform="translate(0 234)"><rect x="88" width="12" height="12" fill="#ffc647"/><rect x="100" width="12" height="12" fill="#ffc94a"/><rect x="112" width="12" height="12" fill="#ffca4b"/><rect x="124" width="12" height="12" fill="#ffc445"/><rect x="136" width="12" height="12" fill="#ffb738"/><rect x="148" width="12" height="12" fill="#ffa728"/><rect x="160" width="12" height="12" fill="#ff9a1b"/><rect x="172" width="12" height="12" fill="#ff8f0f"/><rect x="184" width="12" height="12" fill="#ff8202"/><rect x="196" width="12" height="12" fill="#f57600"/><rect x="208" width="12" height="12" fill="#ef7000"/><rect x="220" width="12" height="12" fill="#eb6c00"/><rect x="232" width="12" height="12" fill="#e66700"/><rect x="244" width="12" height="12" fill="#e26300"/><rect x="256" width="12" height="12" fill="#e36400"/><rect x="268" width="12" height="12" fill="#e46500"/><rect x="280" width="12" height="12" fill="#e76800"/><rect x="292" width="12" height="12" fill="#e96a00"/><rect x="304" width="12" height="12" fill="#eb6c00"/><rect x="316" width="12" height="12" fill="#eb6c00"/><rect x="328" width="12" height="12" fill="#e96a00"/><rect x="340" width="12" height="12" fill="#e56600"/><rect x="352" width="12" height="12" fill="#e26300"/><rect x="364" width="12" height="12" fill="#e26300"/><rect x="376" width="12" height="12" fill="#e26300"/><rect x="388" width="12" height="12" fill="#e26300"/><rect x="400" width="12" height="12" fill="#e36400"/><rect x="412" width="12" height="12" fill="#e46500"/><rect x="424" width="12" height="12" fill="#e76800"/><rect x="436" width="12" height="12" fill="#e96a00"/><rect x="448" width="12" height="12" fill="#ea6b00"/><rect x="460" width="12" height="12" fill="#e76800"/><rect x="472" width="12" height="12" fill="#e36400"/><rect x="484" width="12" height="12" fill="#df6000"/><rect x="496" width="12" height="12" fill="#dd5e00"/><rect x="508" width="12" height="12" fill="#dc5d00"/><rect x="520" width="12" height="12" fill="#de5f00"/><rect x="532" width="12" height="12" fill="#de5f00"/><rect x="544" width="12" height="12" fill="#dc5d00"/><rect x="556" width="12" height="12" fill="#d95a00"/><rect x="568" width="12" height="12" fill="#d65700"/><rect x="580" width="12" height="12" fill="#d45500"/><rect x="592" width="12" height="12" fill="#d25300"/></g><g transform="translate(0 246)"><rect x="112" width="12" height="12" fill="#ffd95a"/><rect x="124" width="12" height="12" fill="#ffcc4d"/><rect x="136" width="12" height="12" fill="#ffb637"/><rect x="148" width="12" height="12" fill="#ffa223"/><rect x="160" width="12" height="12" fill="#ff9819"/><rect x="172" width="12" height="12" fill="#ff9212"/><rect x="184" width="12" height="12" fill="#ff8909"/><rect x="196" width="12" height="12" fill="#fe7f00"/><rect x="208" width="12" height="12" fill="#f87900"/><rect x="220" width="12" height="12" fill="#f47500"/><rect x="232" width="12" height="12" fill="#eb6c00"/><rect x="244" width="12" height="12" fill="#e46500"/><rect x="256" width="12" height="12" fill="#e46500"/><rect x="268" width="12" height="12" fill="#e76800"/><rect x="280" width="12" height="12" fill="#e96a00"/><rect x="292" width="12" height="12" fill="#eb6c00"/><rect x="304" width="12" height="12" fill="#ed6e00"/><rect x="316" width="12" height="12" fill="#ef7000"/><rect x="328" width="12" height="12" fill="#f17200"/><rect x="340" width="12" height="12" fill="#ed6e00"/><rect x="352" width="12" height="12" fill="#e76800"/><rect x="364" width="12" height="12" fill="#e56600"/><rect x="376" width="12" height="12" fill="#e66700"/><rect x="388" width="12" height="12" fill="#e86900"/><rect x="400" width="12" height="12" fill="#ea6b00"/><rect x="412" width="12" height="12" fill="#ed6e00"/><rect x="424" width="12" height="12" fill="#f07100"/><rect x="436" width="12" height="12" fill="#f07100"/><rect x="448" width="12" height="12" fill="#f07100"/><rect x="460" width="12" height="12" fill="#ef7000"/><rect x="472" width="12" height="12" fill="#ed6e00"/><rect x="484" width="12" height="12" fill="#ec6d00"/><rect x="496" width="12" height="12" fill="#ea6b00"/><rect x="508" width="12" height="12" fill="#e96a00"/><rect x="520" width="12" height="12" fill="#e86900"/><rect x="532" width="12" height="12" fill="#e56600"/><rect x="544" width="12" height="12" fill="#e26300"/><rect x="556" width="12" height="12" fill="#de5f00"/><rect x="568" width="12" height="12" fill="#dc5d00"/><rect x="580" width="12" height="12" fill="#d95a00"/></g><g transform="translate(0 258)"><rect x="124" width="12" height="12" fill="#ffc94a"/><rect x="136" width="12" height="12" fill="#ffad2e"/><rect x="148" width="12" height="12" fill="#ff9c1d"/><rect x="160" width="12" height="12" fill="#ff9617"/><rect x="172" width="12" height="12" fill="#ff9213"/><rect x="184" width="12" height="12" fill="#ff8a0b"/><rect x="196" width="12" height="12" fill="#ff8303"/><rect x="208" width="12" height="12" fill="#fd7e00"/><rect x="220" width="12" height="12" fill="#fa7b00"/><rect x="232" width="12" height="12" fill="#f27300"/><rect x="244" width="12" height="12" fill="#e76800"/><rect x="256" width="12" height="12" fill="#e76800"/><rect x="268" width="12" height="12" fill="#ea6b00"/><rect x="280" width="12" height="12" fill="#ec6d00"/><rect x="292" width="12" height="12" fill="#ee6f00"/><rect x="304" width="12" height="12" fill="#f27300"/><rect x="316" width="12" height="12" fill="#f77800"/><rect x="328" width="12" height="12" fill="#fa7b00"/><rect x="340" width="12" height="12" fill="#fb7c00"/><rect x="352" width="12" height="12" fill="#f87900"/><rect x="364" width="12" height="12" fill="#f47500"/><rect x="376" width="12" height="12" fill="#f37400"/><rect x="388" width="12" height="12" fill="#f57600"/><rect x="400" width="12" height="12" fill="#f97a00"/><rect x="412" width="12" height="12" fill="#fd7e00"/><rect x="424" width="12" height="12" fill="#fd7e00"/><rect x="436" width="12" height="12" fill="#f97a00"/><rect x="448" width="12" height="12" fill="#f77800"/><rect x="460" width="12" height="12" fill="#f67700"/><rect x="472" width="12" height="12" fill="#f57600"/><rect x="484" width="12" height="12" fill="#f57600"/><rect x="496" width="12" height="12" fill="#f57600"/><rect x="508" width="12" height="12" fill="#f57600"/><rect x="520" width="12" height="12" fill="#f47500"/><rect x="532" width="12" height="12" fill="#f17200"/><rect x="544" width="12" height="12" fill="#ea6b00"/><rect x="556" width="12" height="12" fill="#e46500"/></g><g transform="translate(0 270)"><rect x="136" width="12" height="12" fill="#ffa324"/><rect x="160" width="12" height="12" fill="#ff9515"/><rect x="172" width="12" height="12" fill="#ff9111"/><rect x="184" width="12" height="12" fill="#ff890a"/><rect x="196" width="12" height="12" fill="#ff8303"/><rect x="208" width="12" height="12" fill="#ff8000"/><rect x="220" width="12" height="12" fill="#fd7e00"/><rect x="232" width="12" height="12" fill="#f77800"/><rect x="244" width="12" height="12" fill="#eb6c00"/><rect x="256" width="12" height="12" fill="#eb6c00"/><rect x="268" width="12" height="12" fill="#ed6e00"/><rect x="280" width="12" height="12" fill="#ef7000"/><rect x="292" width="12" height="12" fill="#f17200"/><rect x="304" width="12" height="12" fill="#f57600"/><rect x="316" width="12" height="12" fill="#fa7b00"/><rect x="328" width="12" height="12" fill="#fd7e00"/><rect x="340" width="12" height="12" fill="#ff8101"/><rect x="352" width="12" height="12" fill="#ff8607"/><rect x="364" width="12" height="12" fill="#ff8808"/><rect x="376" width="12" height="12" fill="#ff8304"/><rect x="388" width="12" height="12" fill="#ff8202"/><rect x="400" width="12" height="12" fill="#ff8404"/><rect x="412" width="12" height="12" fill="#ff8708"/><rect x="424" width="12" height="12" fill="#ff8708"/><rect x="436" width="12" height="12" fill="#ff8404"/><rect x="448" width="12" height="12" fill="#ff8000"/><rect x="460" width="12" height="12" fill="#fd7e00"/><rect x="472" width="12" height="12" fill="#fd7e00"/><rect x="484" width="12" height="12" fill="#fe7f00"/><rect x="496" width="12" height="12" fill="#ff8101"/><rect x="508" width="12" height="12" fill="#ff8404"/><rect x="520" width="12" height="12" fill="#ff8607"/><rect x="532" width="12" height="12" fill="#ff8808"/><rect x="544" width="12" height="12" fill="#ff8404"/></g><g transform="translate(0 282)"><rect x="196" width="12" height="12" fill="#ff8202"/><rect x="208" width="12" height="12" fill="#ff8000"/><rect x="220" width="12" height="12" fill="#fe7f00"/><rect x="232" width="12" height="12" fill="#fa7b00"/><rect x="244" width="12" height="12" fill="#ee6f00"/><rect x="256" width="12" height="12" fill="#ef7000"/><rect x="268" width="12" height="12" fill="#f07100"/><rect x="280" width="12" height="12" fill="#f27300"/><rect x="292" width="12" height="12" fill="#f37400"/><rect x="304" width="12" height="12" fill="#f77800"/><rect x="316" width="12" height="12" fill="#fb7c00"/><rect x="328" width="12" height="12" fill="#fe7f00"/><rect x="340" width="12" height="12" fill="#ff8505"/><rect x="352" width="12" height="12" fill="#ff8f10"/><rect x="364" width="12" height="12" fill="#ff9212"/><rect x="376" width="12" height="12" fill="#ff8c0d"/><rect x="388" width="12" height="12" fill="#ff8809"/><rect x="400" width="12" height="12" fill="#ff8909"/><rect x="412" width="12" height="12" fill="#ff8c0c"/><rect x="424" width="12" height="12" fill="#ff8d0d"/><rect x="436" width="12" height="12" fill="#ff8a0b"/><rect x="448" width="12" height="12" fill="#ff8707"/><rect x="460" width="12" height="12" fill="#ff8404"/><rect x="472" width="12" height="12" fill="#ff8404"/><rect x="484" width="12" height="12" fill="#ff8606"/><rect x="496" width="12" height="12" fill="#ff8b0b"/><rect x="508" width="12" height="12" fill="#ff9011"/><rect x="520" width="12" height="12" fill="#ff9617"/><rect x="532" width="12" height="12" fill="#ff9b1c"/><rect x="544" width="12" height="12" fill="#ff9e1f"/></g><g transform="translate(0 294)"><rect x="268" width="12" height="12" fill="#f37400"/><rect x="280" width="12" height="12" fill="#f37400"/><rect x="292" width="12" height="12" fill="#f57600"/><rect x="304" width="12" height="12" fill="#f77800"/><rect x="316" width="12" height="12" fill="#fc7d00"/><rect x="328" width="12" height="12" fill="#ff8404"/><rect x="340" width="12" height="12" fill="#ff8f10"/><rect x="352" width="12" height="12" fill="#ff991a"/><rect x="364" width="12" height="12" fill="#ff9819"/><rect x="376" width="12" height="12" fill="#ff9314"/><rect x="388" width="12" height="12" fill="#ff8d0e"/><rect x="400" width="12" height="12" fill="#ff8c0d"/><rect x="412" width="12" height="12" fill="#ff8f10"/><rect x="424" width="12" height="12" fill="#ff9011"/><rect x="436" width="12" height="12" fill="#ff8e0f"/><rect x="448" width="12" height="12" fill="#ff8a0b"/><rect x="460" width="12" height="12" fill="#ff8708"/><rect x="472" width="12" height="12" fill="#ff8708"/><rect x="484" width="12" height="12" fill="#ff8b0c"/><rect x="496" width="12" height="12" fill="#ff9213"/><rect x="508" width="12" height="12" fill="#ff9a1b"/><rect x="520" width="12" height="12" fill="#ffa324"/><rect x="532" width="12" height="12" fill="#ffa92a"/><rect x="544" width="12" height="12" fill="#ffae2f"/></g><g transform="translate(0 306)"><rect x="268" width="12" height="12" fill="#f47500"/><rect x="280" width="12" height="12" fill="#f47500"/><rect x="292" width="12" height="12" fill="#f57600"/><rect x="304" width="12" height="12" fill="#f97a00"/><rect x="316" width="12" height="12" fill="#ff8606"/><rect x="328" width="12" height="12" fill="#ff9819"/><rect x="340" width="12" height="12" fill="#ffa627"/><rect x="352" width="12" height="12" fill="#ffa728"/><rect x="364" width="12" height="12" fill="#ffa122"/><rect x="376" width="12" height="12" fill="#ff9a1b"/><rect x="388" width="12" height="12" fill="#ff9314"/><rect x="400" width="12" height="12" fill="#ff9011"/><rect x="412" width="12" height="12" fill="#ff9213"/><rect x="424" width="12" height="12" fill="#ff9314"/><rect x="436" width="12" height="12" fill="#ff9112"/><rect x="448" width="12" height="12" fill="#ff8d0d"/><rect x="460" width="12" height="12" fill="#ff890a"/><rect x="496" width="12" height="12" fill="#ff9b1c"/><rect x="508" width="12" height="12" fill="#ffa829"/><rect x="520" width="12" height="12" fill="#ffb132"/><rect x="532" width="12" height="12" fill="#ffb839"/><rect x="544" width="12" height="12" fill="#ffbd3e"/><rect x="556" width="12" height="12" fill="#ffc142"/></g><g transform="translate(0 318)"><rect x="316" width="12" height="12" fill="#ffa223"/><rect x="328" width="12" height="12" fill="#ffb233"/><rect x="340" width="12" height="12" fill="#ffb738"/><rect x="352" width="12" height="12" fill="#ffb536"/><rect x="364" width="12" height="12" fill="#ffaf30"/><rect x="376" width="12" height="12" fill="#ffa728"/><rect x="508" width="12" height="12" fill="#ffbb3c"/><rect x="520" width="12" height="12" fill="#ffc344"/><rect x="532" width="12" height="12" fill="#ffc94a"/><rect x="544" width="12" height="12" fill="#ffce4f"/><rect x="556" width="12" height="12" fill="#ffd253"/></g><g transform="translate(0 330)"><rect x="316" width="12" height="12" fill="#ffb738"/><rect x="328" width="12" height="12" fill="#ffbc3d"/><rect x="340" width="12" height="12" fill="#ffbd3e"/><rect x="352" width="12" height="12" fill="#ffbd3e"/><rect x="364" width="12" height="12" fill="#ffbc3d"/><rect x="520" width="12" height="12" fill="#ffd455"/><rect x="532" width="12" height="12" fill="#ffd859"/><rect x="544" width="12" height="12" fill="#ffdd5e"/><rect x="556" width="12" height="12" fill="#ffe162"/></g><g transform="translate(0 342)"><rect x="328" width="12" height="12" fill="#ffbf40"/><rect x="340" width="12" height="12" fill="#ffc041"/><rect x="352" width="12" height="12" fill="#ffc142"/><rect x="364" width="12" height="12" fill="#ffc142"/><rect x="520" width="12" height="12" fill="#ffe162"/><rect x="532" width="12" height="12" fill="#ffe465"/><rect x="544" width="12" height="12" fill="#ffe869"/><rect x="556" width="12" height="12" fill="#ffec6d"/></g><g transform="translate(0 354)"><rect x="340" width="12" height="12" fill="#ffc243"/><rect x="352" width="12" height="12" fill="#ffc344"/><rect x="364" width="12" height="12" fill="#ffc445"/><rect x="532" width="12" height="12" fill="#ffed6e"/><rect x="544" width="12" height="12" fill="#fff071"/><rect x="556" width="12" height="12" fill="#fff273"/></g></g><g fill="none" stroke-linecap="round" stroke-linejoin="round" filter="url(#bl2)"><path d="M140.9 262.6L138.6 258 136.5 254.5 134 251 128.2 246.4 122.4 242.9 118 240.2 114.3 238.3 108 236 102.7 234.8 101.8 229 99.2 223.2 95.6 220 93 216.5 91.1 212.8 90.3 209.3 89.2 203.5 86.4 199.5 86.3 195.4 83 191.8 80.5 188.4 78.5 184 76.5 180 74.1 176.8 73.5 171.5 73 166.4 71 162 69.5 158.3 70.1 152.5 72 147.5 73.5 143.2 73.2 139.5 73 136.2" stroke="#fff07a" stroke-width="11" opacity="0.8"/><path d="M73 136.2L72.2 130.5 71.2 124.6 71.8 120 73 116 74.4 112.2 75.8 106 77.3 100.6 79 94.5 80.8 89 82.5 84 84.3 79.7 83.5 73 82.5 66 81.5 60 80.5 56 79.5 53.2" stroke="#f5a030" stroke-width="7" opacity="0.7"/></g><use href="#msk"/></g><g clip-path="url(#frm)" fill="none" stroke="#000" stroke-linejoin="round" stroke-linecap="round"><use href="#st" stroke-width="1"/><use href="#cst" stroke-width="1.8"/><use href="#out" stroke-width="1.8"/><use href="#intl" stroke-width="1.4"/><use href="#dots" fill="#000" stroke="none"/><use href="#mec" stroke-width="2.8"/><use href="#pug" fill="#000" stroke="#000" stroke-width="1.5"/><use href="#bays" fill="#fff" stroke="#000" stroke-width="1.5"/><use href="#pam" fill="none" stroke="#000" stroke-width="1.2"/></g><use href="#fr" fill="none" stroke="#1a1a1a" stroke-width="3.8" stroke-linejoin="miter"/><rect x="761.5" y="31" width="34" height="333.7" fill="url(#cb2)" stroke="#222" stroke-width="1"/><path d="M795.6 327.8h-3.5" stroke="#222" stroke-width="0.8"/><text x="802.8" y="335.8" font-size="22.4">3</text><path d="M795.6 204.6h-3.5" stroke="#222" stroke-width="0.8"/><text x="802.8" y="212.6" font-size="22.4">4</text><path d="M795.6 81.5h-3.5" stroke="#222" stroke-width="0.8"/><text x="802.8" y="89.5" font-size="22.4">5</text></g><g transform="translate(894 521.6)"><g clip-path="url(#land)"><g class="c" filter="url(#bl)"><g transform="translate(0 30)"><rect x="88" width="12" height="12" fill="#ffdb5c"/><rect x="100" width="12" height="12" fill="#ffdc5d"/><rect x="112" width="12" height="12" fill="#ffde5f"/><rect x="124" width="12" height="12" fill="#ffde5f"/><rect x="136" width="12" height="12" fill="#ffde5f"/><rect x="148" width="12" height="12" fill="#ffdd5e"/><rect x="160" width="12" height="12" fill="#ffdc5d"/><rect x="172" width="12" height="12" fill="#ffdb5c"/><rect x="184" width="12" height="12" fill="#ffdb5c"/><rect x="196" width="12" height="12" fill="#ffdc5d"/><rect x="208" width="12" height="12" fill="#ffdc5d"/><rect x="220" width="12" height="12" fill="#ffdd5e"/><rect x="232" width="12" height="12" fill="#ffde5f"/><rect x="244" width="12" height="12" fill="#ffe061"/><rect x="256" width="12" height="12" fill="#ffe162"/><rect x="268" width="12" height="12" fill="#ffe162"/><rect x="280" width="12" height="12" fill="#ffe162"/><rect x="292" width="12" height="12" fill="#ffe263"/><rect x="304" width="12" height="12" fill="#ffe465"/><rect x="316" width="12" height="12" fill="#ffe566"/><rect x="328" width="12" height="12" fill="#ffe566"/><rect x="340" width="12" height="12" fill="#ffe566"/><rect x="352" width="12" height="12" fill="#ffe566"/><rect x="364" width="12" height="12" fill="#ffe566"/><rect x="376" width="12" height="12" fill="#ffe566"/><rect x="388" width="12" height="12" fill="#ffe566"/><rect x="400" width="12" height="12" fill="#ffe566"/></g><g transform="translate(0 42)"><rect x="64" width="12" height="12" fill="#ffd253"/><rect x="76" width="12" height="12" fill="#ffd758"/><rect x="88" width="12" height="12" fill="#ffda5b"/><rect x="100" width="12" height="12" fill="#ffdc5d"/><rect x="112" width="12" height="12" fill="#ffdd5e"/><rect x="124" width="12" height="12" fill="#ffde5f"/><rect x="136" width="12" height="12" fill="#ffde5f"/><rect x="148" width="12" height="12" fill="#ffdd5e"/><rect x="160" width="12" height="12" fill="#ffdc5d"/><rect x="172" width="12" height="12" fill="#ffdb5c"/><rect x="184" width="12" height="12" fill="#ffdb5c"/><rect x="196" width="12" height="12" fill="#ffdc5d"/><rect x="208" width="12" height="12" fill="#ffdc5d"/><rect x="220" width="12" height="12" fill="#ffdd5e"/><rect x="232" width="12" height="12" fill="#ffde5f"/><rect x="244" width="12" height="12" fill="#ffe061"/><rect x="256" width="12" height="12" fill="#ffe061"/><rect x="268" width="12" height="12" fill="#ffe162"/><rect x="280" width="12" height="12" fill="#ffe162"/><rect x="292" width="12" height="12" fill="#ffe263"/><rect x="304" width="12" height="12" fill="#ffe465"/><rect x="316" width="12" height="12" fill="#ffe566"/><rect x="328" width="12" height="12" fill="#ffe566"/><rect x="340" width="12" height="12" fill="#ffe566"/><rect x="352" width="12" height="12" fill="#ffe566"/><rect x="364" width="12" height="12" fill="#ffe566"/><rect x="376" width="12" height="12" fill="#ffe566"/><rect x="388" width="12" height="12" fill="#ffe566"/><rect x="400" width="12" height="12" fill="#ffe566"/><rect x="412" width="12" height="12" fill="#ffe566"/><rect x="424" width="12" height="12" fill="#ffe566"/></g><g transform="translate(0 54)"><rect x="64" width="12" height="12" fill="#ffd051"/><rect x="76" width="12" height="12" fill="#ffd657"/><rect x="88" width="12" height="12" fill="#ffd95a"/><rect x="100" width="12" height="12" fill="#ffdb5c"/><rect x="112" width="12" height="12" fill="#ffdd5e"/><rect x="124" width="12" height="12" fill="#ffde5f"/><rect x="136" width="12" height="12" fill="#ffdd5e"/><rect x="148" width="12" height="12" fill="#ffdc5d"/><rect x="160" width="12" height="12" fill="#ffdc5d"/><rect x="172" width="12" height="12" fill="#ffdb5c"/><rect x="184" width="12" height="12" fill="#ffdb5c"/><rect x="196" width="12" height="12" fill="#ffdc5d"/><rect x="208" width="12" height="12" fill="#ffdc5d"/><rect x="220" width="12" height="12" fill="#ffdd5e"/><rect x="232" width="12" height="12" fill="#ffde5f"/><rect x="244" width="12" height="12" fill="#ffdf60"/><rect x="256" width="12" height="12" fill="#ffe061"/><rect x="268" width="12" height="12" fill="#ffe162"/><rect x="280" width="12" height="12" fill="#ffe162"/><rect x="292" width="12" height="12" fill="#ffe263"/><rect x="304" width="12" height="12" fill="#ffe465"/><rect x="316" width="12" height="12" fill="#ffe566"/><rect x="328" width="12" height="12" fill="#ffe566"/><rect x="340" width="12" height="12" fill="#ffe566"/><rect x="352" width="12" height="12" fill="#ffe566"/><rect x="364" width="12" height="12" fill="#ffe566"/><rect x="376" width="12" height="12" fill="#ffe566"/><rect x="388" width="12" height="12" fill="#ffe566"/><rect x="400" width="12" height="12" fill="#ffe566"/><rect x="412" width="12" height="12" fill="#ffe566"/><rect x="424" width="12" height="12" fill="#ffe566"/><rect x="436" width="12" height="12" fill="#ffe566"/><rect x="448" width="12" height="12" fill="#ffe566"/><rect x="460" width="12" height="12" fill="#ffe465"/><rect x="484" width="12" height="12" fill="#ffe162"/><rect x="640" width="12" height="12" fill="#ffd859"/><rect x="652" width="12" height="12" fill="#ffd859"/><rect x="664" width="12" height="12" fill="#ffd859"/><rect x="676" width="12" height="12" fill="#ffd859"/></g><g transform="translate(0 66)"><rect x="64" width="12" height="12" fill="#ffcf50"/><rect x="76" width="12" height="12" fill="#ffd455"/><rect x="88" width="12" height="12" fill="#ffd95a"/><rect x="100" width="12" height="12" fill="#ffdb5c"/><rect x="112" width="12" height="12" fill="#ffdd5e"/><rect x="124" width="12" height="12" fill="#ffde5f"/><rect x="136" width="12" height="12" fill="#ffdd5e"/><rect x="148" width="12" height="12" fill="#ffdc5d"/><rect x="160" width="12" height="12" fill="#ffdb5c"/><rect x="172" width="12" height="12" fill="#ffdb5c"/><rect x="184" width="12" height="12" fill="#ffdb5c"/><rect x="196" width="12" height="12" fill="#ffdc5d"/><rect x="208" width="12" height="12" fill="#ffdc5d"/><rect x="220" width="12" height="12" fill="#ffdd5e"/><rect x="232" width="12" height="12" fill="#ffdd5e"/><rect x="244" width="12" height="12" fill="#ffdf60"/><rect x="256" width="12" height="12" fill="#ffe061"/><rect x="268" width="12" height="12" fill="#ffdf60"/><rect x="280" width="12" height="12" fill="#ffde5f"/><rect x="292" width="12" height="12" fill="#ffde5f"/><rect x="304" width="12" height="12" fill="#ffe162"/><rect x="316" width="12" height="12" fill="#ffe364"/><rect x="328" width="12" height="12" fill="#ffe364"/><rect x="340" width="12" height="12" fill="#ffe364"/><rect x="352" width="12" height="12" fill="#ffe465"/><rect x="364" width="12" height="12" fill="#ffe566"/><rect x="376" width="12" height="12" fill="#ffe566"/><rect x="388" width="12" height="12" fill="#ffe566"/><rect x="400" width="12" height="12" fill="#ffe566"/><rect x="412" width="12" height="12" fill="#ffe566"/><rect x="424" width="12" height="12" fill="#ffe566"/><rect x="436" width="12" height="12" fill="#ffe566"/><rect x="448" width="12" height="12" fill="#ffe566"/><rect x="460" width="12" height="12" fill="#ffe465"/><rect x="472" width="12" height="12" fill="#ffe263"/><rect x="484" width="12" height="12" fill="#ffe162"/><rect x="496" width="12" height="12" fill="#ffe162"/><rect x="640" width="12" height="12" fill="#ffd859"/><rect x="652" width="12" height="12" fill="#ffd859"/><rect x="664" width="12" height="12" fill="#ffd859"/><rect x="676" width="12" height="12" fill="#ffd859"/></g><g transform="translate(0 78)"><rect x="64" width="12" height="12" fill="#ffd051"/><rect x="76" width="12" height="12" fill="#ffd455"/><rect x="88" width="12" height="12" fill="#ffd859"/><rect x="100" width="12" height="12" fill="#ffdb5c"/><rect x="112" width="12" height="12" fill="#ffdc5d"/><rect x="124" width="12" height="12" fill="#ffdd5e"/><rect x="136" width="12" height="12" fill="#ffdc5d"/><rect x="148" width="12" height="12" fill="#ffdc5d"/><rect x="160" width="12" height="12" fill="#ffdb5c"/><rect x="172" width="12" height="12" fill="#ffda5b"/><rect x="184" width="12" height="12" fill="#ffdb5c"/><rect x="196" width="12" height="12" fill="#ffdc5d"/><rect x="208" width="12" height="12" fill="#ffdc5d"/><rect x="220" width="12" height="12" fill="#ffdc5d"/><rect x="232" width="12" height="12" fill="#ffdc5d"/><rect x="244" width="12" height="12" fill="#ffdd5e"/><rect x="256" width="12" height="12" fill="#ffdc5d"/><rect x="268" width="12" height="12" fill="#ffdb5c"/><rect x="280" width="12" height="12" fill="#ffd95a"/><rect x="292" width="12" height="12" fill="#ffd95a"/><rect x="304" width="12" height="12" fill="#ffdc5d"/><rect x="316" width="12" height="12" fill="#ffde5f"/><rect x="328" width="12" height="12" fill="#ffdf60"/><rect x="340" width="12" height="12" fill="#ffe061"/><rect x="352" width="12" height="12" fill="#ffe162"/><rect x="364" width="12" height="12" fill="#ffe364"/><rect x="376" width="12" height="12" fill="#ffe566"/><rect x="388" width="12" height="12" fill="#ffe566"/><rect x="400" width="12" height="12" fill="#ffe566"/><rect x="412" width="12" height="12" fill="#ffe566"/><rect x="424" width="12" height="12" fill="#ffe566"/><rect x="436" width="12" height="12" fill="#ffe566"/><rect x="448" width="12" height="12" fill="#ffe566"/><rect x="460" width="12" height="12" fill="#ffe465"/><rect x="472" width="12" height="12" fill="#ffe263"/><rect x="484" width="12" height="12" fill="#ffe162"/><rect x="496" width="12" height="12" fill="#ffe162"/><rect x="508" width="12" height="12" fill="#ffe162"/><rect x="592" width="12" height="12" fill="#ffd556"/><rect x="604" width="12" height="12" fill="#ffd556"/><rect x="616" width="12" height="12" fill="#ffd657"/><rect x="628" width="12" height="12" fill="#ffd758"/><rect x="640" width="12" height="12" fill="#ffd758"/><rect x="652" width="12" height="12" fill="#ffd859"/><rect x="664" width="12" height="12" fill="#ffd859"/><rect x="676" width="12" height="12" fill="#ffd859"/></g><g transform="translate(0 90)"><rect x="64" width="12" height="12" fill="#ffd556"/><rect x="76" width="12" height="12" fill="#ffd657"/><rect x="88" width="12" height="12" fill="#ffd859"/><rect x="100" width="12" height="12" fill="#ffda5b"/><rect x="112" width="12" height="12" fill="#ffdb5c"/><rect x="124" width="12" height="12" fill="#ffdb5c"/><rect x="136" width="12" height="12" fill="#ffdb5c"/><rect x="148" width="12" height="12" fill="#ffda5b"/><rect x="160" width="12" height="12" fill="#ffd859"/><rect x="172" width="12" height="12" fill="#ffd758"/><rect x="184" width="12" height="12" fill="#ffd758"/><rect x="196" width="12" height="12" fill="#ffd95a"/><rect x="208" width="12" height="12" fill="#ffda5b"/><rect x="220" width="12" height="12" fill="#ffd95a"/><rect x="232" width="12" height="12" fill="#ffd455"/><rect x="244" width="12" height="12" fill="#ffd051"/><rect x="256" width="12" height="12" fill="#ffd051"/><rect x="268" width="12" height="12" fill="#ffcf50"/><rect x="280" width="12" height="12" fill="#ffcf50"/><rect x="292" width="12" height="12" fill="#ffd253"/><rect x="304" width="12" height="12" fill="#ffd95a"/><rect x="316" width="12" height="12" fill="#ffdc5d"/><rect x="328" width="12" height="12" fill="#ffdd5e"/><rect x="340" width="12" height="12" fill="#ffdd5e"/><rect x="352" width="12" height="12" fill="#ffdf60"/><rect x="364" width="12" height="12" fill="#ffe263"/><rect x="376" width="12" height="12" fill="#ffe465"/><rect x="388" width="12" height="12" fill="#ffe566"/><rect x="400" width="12" height="12" fill="#ffe566"/><rect x="412" width="12" height="12" fill="#ffe566"/><rect x="424" width="12" height="12" fill="#ffe566"/><rect x="436" width="12" height="12" fill="#ffe566"/><rect x="448" width="12" height="12" fill="#ffe465"/><rect x="460" width="12" height="12" fill="#ffe364"/><rect x="472" width="12" height="12" fill="#ffe162"/><rect x="484" width="12" height="12" fill="#ffe162"/><rect x="496" width="12" height="12" fill="#ffe162"/><rect x="508" width="12" height="12" fill="#ffe162"/><rect x="580" width="12" height="12" fill="#ffd556"/><rect x="592" width="12" height="12" fill="#ffd556"/><rect x="604" width="12" height="12" fill="#ffd556"/><rect x="616" width="12" height="12" fill="#ffd556"/><rect x="628" width="12" height="12" fill="#ffd657"/><rect x="640" width="12" height="12" fill="#ffd758"/><rect x="652" width="12" height="12" fill="#ffd758"/><rect x="664" width="12" height="12" fill="#ffd859"/><rect x="676" width="12" height="12" fill="#ffd859"/><rect x="688" width="12" height="12" fill="#ffd859"/></g><g transform="translate(0 102)"><rect x="64" width="12" height="12" fill="#ffd859"/><rect x="76" width="12" height="12" fill="#ffd859"/><rect x="88" width="12" height="12" fill="#ffd95a"/><rect x="100" width="12" height="12" fill="#ffd95a"/><rect x="112" width="12" height="12" fill="#ffda5b"/><rect x="124" width="12" height="12" fill="#ffda5b"/><rect x="136" width="12" height="12" fill="#ffd95a"/><rect x="148" width="12" height="12" fill="#ffd657"/><rect x="160" width="12" height="12" fill="#ffd354"/><rect x="172" width="12" height="12" fill="#ffd253"/><rect x="184" width="12" height="12" fill="#ffd253"/><rect x="196" width="12" height="12" fill="#ffd354"/><rect x="208" width="12" height="12" fill="#ffcf50"/><rect x="220" width="12" height="12" fill="#ffc243"/><rect x="232" width="12" height="12" fill="#ffbc3d"/><rect x="244" width="12" height="12" fill="#ffbd3e"/><rect x="256" width="12" height="12" fill="#ffc243"/><rect x="268" width="12" height="12" fill="#ffc849"/><rect x="280" width="12" height="12" fill="#ffcb4c"/><rect x="292" width="12" height="12" fill="#ffcf50"/><rect x="304" width="12" height="12" fill="#ffd758"/><rect x="316" width="12" height="12" fill="#ffdb5c"/><rect x="328" width="12" height="12" fill="#ffdc5d"/><rect x="340" width="12" height="12" fill="#ffdc5d"/><rect x="352" width="12" height="12" fill="#ffdd5e"/><rect x="364" width="12" height="12" fill="#ffe162"/><rect x="376" width="12" height="12" fill="#ffe364"/><rect x="388" width="12" height="12" fill="#ffe364"/><rect x="400" width="12" height="12" fill="#ffe364"/><rect x="412" width="12" height="12" fill="#ffe364"/><rect x="424" width="12" height="12" fill="#ffe364"/><rect x="436" width="12" height="12" fill="#ffe465"/><rect x="448" width="12" height="12" fill="#ffe364"/><rect x="460" width="12" height="12" fill="#ffe263"/><rect x="472" width="12" height="12" fill="#ffe162"/><rect x="484" width="12" height="12" fill="#ffe162"/><rect x="496" width="12" height="12" fill="#ffe162"/><rect x="508" width="12" height="12" fill="#ffe061"/><rect x="520" width="12" height="12" fill="#ffe061"/><rect x="556" width="12" height="12" fill="#ffd253"/><rect x="568" width="12" height="12" fill="#ffd455"/><rect x="580" width="12" height="12" fill="#ffd455"/><rect x="592" width="12" height="12" fill="#ffd556"/><rect x="604" width="12" height="12" fill="#ffd556"/><rect x="616" width="12" height="12" fill="#ffd556"/><rect x="628" width="12" height="12" fill="#ffd556"/><rect x="640" width="12" height="12" fill="#ffd657"/><rect x="652" width="12" height="12" fill="#ffd758"/><rect x="664" width="12" height="12" fill="#ffd758"/><rect x="676" width="12" height="12" fill="#ffd859"/><rect x="688" width="12" height="12" fill="#ffd859"/></g><g transform="translate(0 114)"><rect x="52" width="12" height="12" fill="#ffd95a"/><rect x="64" width="12" height="12" fill="#ffd95a"/><rect x="76" width="12" height="12" fill="#ffd95a"/><rect x="88" width="12" height="12" fill="#ffd95a"/><rect x="100" width="12" height="12" fill="#ffda5b"/><rect x="112" width="12" height="12" fill="#ffda5b"/><rect x="124" width="12" height="12" fill="#ffd95a"/><rect x="136" width="12" height="12" fill="#ffd859"/><rect x="148" width="12" height="12" fill="#ffd455"/><rect x="160" width="12" height="12" fill="#ffd253"/><rect x="172" width="12" height="12" fill="#ffd152"/><rect x="184" width="12" height="12" fill="#ffd152"/><rect x="196" width="12" height="12" fill="#ffcf50"/><rect x="208" width="12" height="12" fill="#ffc142"/><rect x="220" width="12" height="12" fill="#ffb93a"/><rect x="232" width="12" height="12" fill="#ffb839"/><rect x="244" width="12" height="12" fill="#ffb93a"/><rect x="256" width="12" height="12" fill="#ffbd3e"/><rect x="268" width="12" height="12" fill="#ffc445"/><rect x="280" width="12" height="12" fill="#ffca4b"/><rect x="292" width="12" height="12" fill="#ffce4f"/><rect x="304" width="12" height="12" fill="#ffd556"/><rect x="316" width="12" height="12" fill="#ffd859"/><rect x="328" width="12" height="12" fill="#ffd95a"/><rect x="340" width="12" height="12" fill="#ffda5b"/><rect x="352" width="12" height="12" fill="#ffdb5c"/><rect x="364" width="12" height="12" fill="#ffdd5e"/><rect x="376" width="12" height="12" fill="#ffe061"/><rect x="388" width="12" height="12" fill="#ffe061"/><rect x="400" width="12" height="12" fill="#ffe061"/><rect x="412" width="12" height="12" fill="#ffdf60"/><rect x="424" width="12" height="12" fill="#ffdf60"/><rect x="436" width="12" height="12" fill="#ffdf60"/><rect x="448" width="12" height="12" fill="#ffde5f"/><rect x="460" width="12" height="12" fill="#ffde5f"/><rect x="472" width="12" height="12" fill="#ffdf60"/><rect x="484" width="12" height="12" fill="#ffdf60"/><rect x="496" width="12" height="12" fill="#ffdf60"/><rect x="508" width="12" height="12" fill="#ffdd5e"/><rect x="520" width="12" height="12" fill="#ffdb5c"/><rect x="544" width="12" height="12" fill="#ffcc4d"/><rect x="556" width="12" height="12" fill="#ffcc4d"/><rect x="568" width="12" height="12" fill="#ffd051"/><rect x="580" width="12" height="12" fill="#ffd253"/><rect x="592" width="12" height="12" fill="#ffd455"/><rect x="604" width="12" height="12" fill="#ffd455"/><rect x="616" width="12" height="12" fill="#ffd556"/><rect x="628" width="12" height="12" fill="#ffd556"/><rect x="640" width="12" height="12" fill="#ffd556"/><rect x="652" width="12" height="12" fill="#ffd657"/><rect x="664" width="12" height="12" fill="#ffd758"/></g><g transform="translate(0 126)"><rect x="64" width="12" height="12" fill="#ffdb5c"/><rect x="76" width="12" height="12" fill="#ffdb5c"/><rect x="88" width="12" height="12" fill="#ffdb5c"/><rect x="100" width="12" height="12" fill="#ffdb5c"/><rect x="112" width="12" height="12" fill="#ffda5b"/><rect x="124" width="12" height="12" fill="#ffd95a"/><rect x="136" width="12" height="12" fill="#ffd556"/><rect x="148" width="12" height="12" fill="#ffd152"/><rect x="160" width="12" height="12" fill="#ffd051"/><rect x="172" width="12" height="12" fill="#ffd051"/><rect x="184" width="12" height="12" fill="#ffce4f"/><rect x="196" width="12" height="12" fill="#ffc647"/><rect x="208" width="12" height="12" fill="#ffb839"/><rect x="220" width="12" height="12" fill="#ffb536"/><rect x="232" width="12" height="12" fill="#ffb536"/><rect x="244" width="12" height="12" fill="#ffb637"/><rect x="256" width="12" height="12" fill="#ffb839"/><rect x="268" width="12" height="12" fill="#ffbe3f"/><rect x="280" width="12" height="12" fill="#ffc445"/><rect x="292" width="12" height="12" fill="#ffc849"/><rect x="304" width="12" height="12" fill="#ffcd4e"/><rect x="316" width="12" height="12" fill="#ffd152"/><rect x="328" width="12" height="12" fill="#ffd253"/><rect x="340" width="12" height="12" fill="#ffd455"/><rect x="352" width="12" height="12" fill="#ffd758"/><rect x="364" width="12" height="12" fill="#ffda5b"/><rect x="376" width="12" height="12" fill="#ffdc5d"/><rect x="388" width="12" height="12" fill="#ffde5f"/><rect x="400" width="12" height="12" fill="#ffde5f"/><rect x="412" width="12" height="12" fill="#ffde5f"/><rect x="424" width="12" height="12" fill="#ffdd5e"/><rect x="436" width="12" height="12" fill="#ffdc5d"/><rect x="448" width="12" height="12" fill="#ffdb5c"/><rect x="460" width="12" height="12" fill="#ffda5b"/><rect x="472" width="12" height="12" fill="#ffda5b"/><rect x="484" width="12" height="12" fill="#ffda5b"/><rect x="496" width="12" height="12" fill="#ffd95a"/><rect x="508" width="12" height="12" fill="#ffd657"/><rect x="520" width="12" height="12" fill="#ffd152"/><rect x="532" width="12" height="12" fill="#ffcc4d"/><rect x="544" width="12" height="12" fill="#ffc94a"/><rect x="556" width="12" height="12" fill="#ffc849"/><rect x="568" width="12" height="12" fill="#ffca4b"/><rect x="580" width="12" height="12" fill="#ffcd4e"/><rect x="592" width="12" height="12" fill="#ffcf50"/><rect x="604" width="12" height="12" fill="#ffd051"/><rect x="616" width="12" height="12" fill="#ffd152"/><rect x="628" width="12" height="12" fill="#ffd354"/><rect x="640" width="12" height="12" fill="#ffd455"/><rect x="652" width="12" height="12" fill="#ffd556"/></g><g transform="translate(0 138)"><rect x="64" width="12" height="12" fill="#ffdd5e"/><rect x="76" width="12" height="12" fill="#ffde5f"/><rect x="88" width="12" height="12" fill="#ffde5f"/><rect x="100" width="12" height="12" fill="#ffdd5e"/><rect x="112" width="12" height="12" fill="#ffda5b"/><rect x="124" width="12" height="12" fill="#ffd152"/><rect x="136" width="12" height="12" fill="#ffc849"/><rect x="148" width="12" height="12" fill="#ffc748"/><rect x="160" width="12" height="12" fill="#ffc94a"/><rect x="172" width="12" height="12" fill="#ffc94a"/><rect x="184" width="12" height="12" fill="#ffbf40"/><rect x="196" width="12" height="12" fill="#ffb334"/><rect x="208" width="12" height="12" fill="#ffad2e"/><rect x="220" width="12" height="12" fill="#ffaa2b"/><rect x="232" width="12" height="12" fill="#ffa829"/><rect x="244" width="12" height="12" fill="#ffa526"/><rect x="256" width="12" height="12" fill="#ff9f20"/><rect x="268" width="12" height="12" fill="#ff9a1b"/><rect x="280" width="12" height="12" fill="#ff9c1d"/><rect x="292" width="12" height="12" fill="#ffa829"/><rect x="304" width="12" height="12" fill="#ffba3b"/><rect x="316" width="12" height="12" fill="#ffc647"/><rect x="328" width="12" height="12" fill="#ffcc4d"/><rect x="340" width="12" height="12" fill="#ffd051"/><rect x="352" width="12" height="12" fill="#ffd556"/><rect x="364" width="12" height="12" fill="#ffd859"/><rect x="376" width="12" height="12" fill="#ffda5b"/><rect x="388" width="12" height="12" fill="#ffdc5d"/><rect x="400" width="12" height="12" fill="#ffdd5e"/><rect x="412" width="12" height="12" fill="#ffdc5d"/><rect x="424" width="12" height="12" fill="#ffdb5c"/><rect x="436" width="12" height="12" fill="#ffdb5c"/><rect x="448" width="12" height="12" fill="#ffda5b"/><rect x="460" width="12" height="12" fill="#ffd95a"/><rect x="472" width="12" height="12" fill="#ffd556"/><rect x="484" width="12" height="12" fill="#ffd152"/><rect x="496" width="12" height="12" fill="#ffce4f"/><rect x="508" width="12" height="12" fill="#ffcd4e"/><rect x="520" width="12" height="12" fill="#ffcc4d"/><rect x="532" width="12" height="12" fill="#ffca4b"/><rect x="544" width="12" height="12" fill="#ffc647"/><rect x="556" width="12" height="12" fill="#ffc546"/><rect x="568" width="12" height="12" fill="#ffc647"/><rect x="580" width="12" height="12" fill="#ffc748"/><rect x="592" width="12" height="12" fill="#ffc849"/><rect x="604" width="12" height="12" fill="#ffc849"/><rect x="616" width="12" height="12" fill="#ffc94a"/><rect x="628" width="12" height="12" fill="#ffca4b"/><rect x="640" width="12" height="12" fill="#ffce4f"/><rect x="652" width="12" height="12" fill="#ffd253"/><rect x="664" width="12" height="12" fill="#ffd556"/></g><g transform="translate(0 150)"><rect x="52" width="12" height="12" fill="#ffde5f"/><rect x="64" width="12" height="12" fill="#ffdf60"/><rect x="76" width="12" height="12" fill="#ffe061"/><rect x="88" width="12" height="12" fill="#ffe162"/><rect x="100" width="12" height="12" fill="#ffe162"/><rect x="112" width="12" height="12" fill="#ffda5b"/><rect x="124" width="12" height="12" fill="#ffc94a"/><rect x="136" width="12" height="12" fill="#ffc344"/><rect x="148" width="12" height="12" fill="#ffc243"/><rect x="160" width="12" height="12" fill="#ffc243"/><rect x="172" width="12" height="12" fill="#ffbc3d"/><rect x="184" width="12" height="12" fill="#ffb132"/><rect x="196" width="12" height="12" fill="#ffac2d"/><rect x="208" width="12" height="12" fill="#ffa829"/><rect x="220" width="12" height="12" fill="#ff9e1f"/><rect x="232" width="12" height="12" fill="#ff8f10"/><rect x="244" width="12" height="12" fill="#ff8404"/><rect x="256" width="12" height="12" fill="#fb7c00"/><rect x="268" width="12" height="12" fill="#f87900"/><rect x="280" width="12" height="12" fill="#fe7f00"/><rect x="292" width="12" height="12" fill="#ff8d0d"/><rect x="304" width="12" height="12" fill="#ffa021"/><rect x="316" width="12" height="12" fill="#ffb334"/><rect x="328" width="12" height="12" fill="#ffc041"/><rect x="340" width="12" height="12" fill="#ffca4b"/><rect x="352" width="12" height="12" fill="#ffd354"/><rect x="364" width="12" height="12" fill="#ffd657"/><rect x="376" width="12" height="12" fill="#ffd859"/><rect x="388" width="12" height="12" fill="#ffda5b"/><rect x="400" width="12" height="12" fill="#ffda5b"/><rect x="412" width="12" height="12" fill="#ffda5b"/><rect x="424" width="12" height="12" fill="#ffd95a"/><rect x="436" width="12" height="12" fill="#ffd95a"/><rect x="448" width="12" height="12" fill="#ffd859"/><rect x="460" width="12" height="12" fill="#ffd657"/><rect x="472" width="12" height="12" fill="#ffd051"/><rect x="484" width="12" height="12" fill="#ffcc4d"/><rect x="496" width="12" height="12" fill="#ffcb4c"/><rect x="508" width="12" height="12" fill="#ffcb4c"/><rect x="520" width="12" height="12" fill="#ffc94a"/><rect x="532" width="12" height="12" fill="#ffc546"/><rect x="544" width="12" height="12" fill="#ffc041"/><rect x="556" width="12" height="12" fill="#ffc041"/><rect x="568" width="12" height="12" fill="#ffc142"/><rect x="580" width="12" height="12" fill="#ffc243"/><rect x="592" width="12" height="12" fill="#ffc243"/><rect x="604" width="12" height="12" fill="#ffc243"/><rect x="616" width="12" height="12" fill="#ffc344"/><rect x="628" width="12" height="12" fill="#ffc344"/><rect x="640" width="12" height="12" fill="#ffc546"/></g><g transform="translate(0 162)"><rect x="64" width="12" height="12" fill="#ffe263"/><rect x="76" width="12" height="12" fill="#ffe566"/><rect x="88" width="12" height="12" fill="#ffe96a"/><rect x="100" width="12" height="12" fill="#ffe768"/><rect x="112" width="12" height="12" fill="#ffdc5d"/><rect x="124" width="12" height="12" fill="#ffcd4e"/><rect x="136" width="12" height="12" fill="#ffc445"/><rect x="148" width="12" height="12" fill="#ffc243"/><rect x="160" width="12" height="12" fill="#ffc041"/><rect x="172" width="12" height="12" fill="#ffb839"/><rect x="184" width="12" height="12" fill="#ffae2f"/><rect x="196" width="12" height="12" fill="#ffab2c"/><rect x="208" width="12" height="12" fill="#ffa627"/><rect x="220" width="12" height="12" fill="#ff9718"/><rect x="232" width="12" height="12" fill="#ff8606"/><rect x="244" width="12" height="12" fill="#fa7b00"/><rect x="256" width="12" height="12" fill="#f47500"/><rect x="268" width="12" height="12" fill="#f47500"/><rect x="280" width="12" height="12" fill="#fa7b00"/><rect x="292" width="12" height="12" fill="#ff8606"/><rect x="304" width="12" height="12" fill="#ff9314"/><rect x="316" width="12" height="12" fill="#ffa223"/><rect x="328" width="12" height="12" fill="#ffaf30"/><rect x="340" width="12" height="12" fill="#ffbb3c"/><rect x="352" width="12" height="12" fill="#ffc748"/><rect x="364" width="12" height="12" fill="#ffcc4d"/><rect x="376" width="12" height="12" fill="#ffce4f"/><rect x="388" width="12" height="12" fill="#ffd152"/><rect x="400" width="12" height="12" fill="#ffd455"/><rect x="412" width="12" height="12" fill="#ffd455"/><rect x="424" width="12" height="12" fill="#ffd354"/><rect x="436" width="12" height="12" fill="#ffd253"/><rect x="448" width="12" height="12" fill="#ffd051"/><rect x="460" width="12" height="12" fill="#ffcc4d"/><rect x="472" width="12" height="12" fill="#ffc647"/><rect x="484" width="12" height="12" fill="#ffc344"/><rect x="496" width="12" height="12" fill="#ffc344"/><rect x="508" width="12" height="12" fill="#ffc546"/><rect x="520" width="12" height="12" fill="#ffc344"/><rect x="532" width="12" height="12" fill="#ffbc3d"/><rect x="544" width="12" height="12" fill="#ffb637"/><rect x="556" width="12" height="12" fill="#ffb637"/><rect x="568" width="12" height="12" fill="#ffba3b"/><rect x="580" width="12" height="12" fill="#ffbc3d"/><rect x="592" width="12" height="12" fill="#ffbd3e"/><rect x="604" width="12" height="12" fill="#ffbf40"/><rect x="616" width="12" height="12" fill="#ffc041"/></g><g transform="translate(0 174)"><rect x="64" width="12" height="12" fill="#ffe96a"/><rect x="76" width="12" height="12" fill="#ffeb6c"/><rect x="88" width="12" height="12" fill="#ffec6d"/><rect x="100" width="12" height="12" fill="#ffe869"/><rect x="112" width="12" height="12" fill="#ffde5f"/><rect x="124" width="12" height="12" fill="#ffd556"/><rect x="136" width="12" height="12" fill="#ffc849"/><rect x="148" width="12" height="12" fill="#ffc445"/><rect x="160" width="12" height="12" fill="#ffc142"/><rect x="172" width="12" height="12" fill="#ffb738"/><rect x="184" width="12" height="12" fill="#ffae2f"/><rect x="196" width="12" height="12" fill="#ffab2c"/><rect x="208" width="12" height="12" fill="#ffa324"/><rect x="220" width="12" height="12" fill="#ff9313"/><rect x="232" width="12" height="12" fill="#ff8303"/><rect x="244" width="12" height="12" fill="#f87900"/><rect x="256" width="12" height="12" fill="#f37400"/><rect x="268" width="12" height="12" fill="#f37400"/><rect x="280" width="12" height="12" fill="#fa7b00"/><rect x="292" width="12" height="12" fill="#ff8405"/><rect x="304" width="12" height="12" fill="#ff9011"/><rect x="316" width="12" height="12" fill="#ff9c1d"/><rect x="328" width="12" height="12" fill="#ffa627"/><rect x="340" width="12" height="12" fill="#ffae2f"/><rect x="352" width="12" height="12" fill="#ffb839"/><rect x="364" width="12" height="12" fill="#ffbe3f"/><rect x="376" width="12" height="12" fill="#ffc041"/><rect x="388" width="12" height="12" fill="#ffc546"/><rect x="400" width="12" height="12" fill="#ffc94a"/><rect x="412" width="12" height="12" fill="#ffca4b"/><rect x="424" width="12" height="12" fill="#ffca4b"/><rect x="436" width="12" height="12" fill="#ffc748"/><rect x="448" width="12" height="12" fill="#ffc445"/><rect x="460" width="12" height="12" fill="#ffbd3e"/><rect x="472" width="12" height="12" fill="#ffb435"/><rect x="484" width="12" height="12" fill="#ffae2f"/><rect x="496" width="12" height="12" fill="#ffab2c"/><rect x="508" width="12" height="12" fill="#ffaa2b"/><rect x="520" width="12" height="12" fill="#ffac2d"/><rect x="532" width="12" height="12" fill="#ffae2f"/><rect x="544" width="12" height="12" fill="#ffae2f"/><rect x="556" width="12" height="12" fill="#ffb031"/><rect x="568" width="12" height="12" fill="#ffb334"/><rect x="580" width="12" height="12" fill="#ffb637"/><rect x="592" width="12" height="12" fill="#ffb93a"/><rect x="604" width="12" height="12" fill="#ffbb3c"/><rect x="616" width="12" height="12" fill="#ffbe3f"/></g><g transform="translate(0 186)"><rect x="64" width="12" height="12" fill="#ffed6e"/><rect x="76" width="12" height="12" fill="#ffec6d"/><rect x="88" width="12" height="12" fill="#ffea6b"/><rect x="100" width="12" height="12" fill="#ffe566"/><rect x="112" width="12" height="12" fill="#ffde5f"/><rect x="124" width="12" height="12" fill="#ffd95a"/><rect x="136" width="12" height="12" fill="#ffd152"/><rect x="148" width="12" height="12" fill="#ffca4b"/><rect x="160" width="12" height="12" fill="#ffc546"/><rect x="172" width="12" height="12" fill="#ffb738"/><rect x="184" width="12" height="12" fill="#ffad2e"/><rect x="196" width="12" height="12" fill="#ffa92a"/><rect x="208" width="12" height="12" fill="#ffa021"/><rect x="220" width="12" height="12" fill="#ff8e0f"/><rect x="232" width="12" height="12" fill="#ff8101"/><rect x="244" width="12" height="12" fill="#f87900"/><rect x="256" width="12" height="12" fill="#f37400"/><rect x="268" width="12" height="12" fill="#f37400"/><rect x="280" width="12" height="12" fill="#f97a00"/><rect x="292" width="12" height="12" fill="#ff8303"/><rect x="304" width="12" height="12" fill="#ff8e0f"/><rect x="316" width="12" height="12" fill="#ff9a1b"/><rect x="328" width="12" height="12" fill="#ffa122"/><rect x="340" width="12" height="12" fill="#ffa627"/><rect x="352" width="12" height="12" fill="#ffae2f"/><rect x="364" width="12" height="12" fill="#ffb435"/><rect x="376" width="12" height="12" fill="#ffb637"/><rect x="388" width="12" height="12" fill="#ffb839"/><rect x="400" width="12" height="12" fill="#ffbb3c"/><rect x="412" width="12" height="12" fill="#ffbc3d"/><rect x="424" width="12" height="12" fill="#ffbe3f"/><rect x="436" width="12" height="12" fill="#ffbf40"/><rect x="448" width="12" height="12" fill="#ffbc3d"/><rect x="460" width="12" height="12" fill="#ffaf30"/><rect x="472" width="12" height="12" fill="#ffa021"/><rect x="484" width="12" height="12" fill="#ff9617"/><rect x="496" width="12" height="12" fill="#ff8c0d"/><rect x="508" width="12" height="12" fill="#ff8303"/><rect x="520" width="12" height="12" fill="#ff8809"/><rect x="532" width="12" height="12" fill="#ff9a1b"/><rect x="544" width="12" height="12" fill="#ffa728"/><rect x="556" width="12" height="12" fill="#ffac2d"/><rect x="568" width="12" height="12" fill="#ffaf30"/><rect x="580" width="12" height="12" fill="#ffb132"/><rect x="592" width="12" height="12" fill="#ffb435"/><rect x="604" width="12" height="12" fill="#ffb738"/></g><g transform="translate(0 198)"><rect x="76" width="12" height="12" fill="#ffe96a"/><rect x="88" width="12" height="12" fill="#ffe667"/><rect x="100" width="12" height="12" fill="#ffe263"/><rect x="112" width="12" height="12" fill="#ffdd5e"/><rect x="124" width="12" height="12" fill="#ffda5b"/><rect x="136" width="12" height="12" fill="#ffd758"/><rect x="148" width="12" height="12" fill="#ffd455"/><rect x="160" width="12" height="12" fill="#ffcf50"/><rect x="172" width="12" height="12" fill="#ffb637"/><rect x="184" width="12" height="12" fill="#ffa526"/><rect x="196" width="12" height="12" fill="#ffa122"/><rect x="208" width="12" height="12" fill="#ff991a"/><rect x="220" width="12" height="12" fill="#ff8b0b"/><rect x="232" width="12" height="12" fill="#fe7f00"/><rect x="244" width="12" height="12" fill="#f77800"/><rect x="256" width="12" height="12" fill="#f17200"/><rect x="268" width="12" height="12" fill="#f17200"/><rect x="280" width="12" height="12" fill="#f67700"/><rect x="292" width="12" height="12" fill="#fe7f00"/><rect x="304" width="12" height="12" fill="#ff8606"/><rect x="316" width="12" height="12" fill="#ff8e0f"/><rect x="328" width="12" height="12" fill="#ff9415"/><rect x="340" width="12" height="12" fill="#ff9818"/><rect x="352" width="12" height="12" fill="#ff9e1f"/><rect x="364" width="12" height="12" fill="#ffa425"/><rect x="376" width="12" height="12" fill="#ffa627"/><rect x="388" width="12" height="12" fill="#ffa728"/><rect x="400" width="12" height="12" fill="#ffa92a"/><rect x="412" width="12" height="12" fill="#ffab2c"/><rect x="424" width="12" height="12" fill="#ffae2f"/><rect x="436" width="12" height="12" fill="#ffb334"/><rect x="448" width="12" height="12" fill="#ffb233"/><rect x="460" width="12" height="12" fill="#ffa021"/><rect x="472" width="12" height="12" fill="#ff9112"/><rect x="484" width="12" height="12" fill="#ff8707"/><rect x="496" width="12" height="12" fill="#fb7c00"/><rect x="508" width="12" height="12" fill="#f27300"/><rect x="520" width="12" height="12" fill="#f57600"/><rect x="532" width="12" height="12" fill="#ff8909"/><rect x="544" width="12" height="12" fill="#ff9e1f"/><rect x="556" width="12" height="12" fill="#ffa829"/><rect x="568" width="12" height="12" fill="#ffab2c"/><rect x="580" width="12" height="12" fill="#ffad2e"/><rect x="592" width="12" height="12" fill="#ffaf30"/><rect x="604" width="12" height="12" fill="#ffb132"/></g><g transform="translate(0 210)"><rect x="76" width="12" height="12" fill="#ffe667"/><rect x="88" width="12" height="12" fill="#ffe465"/><rect x="100" width="12" height="12" fill="#ffe162"/><rect x="112" width="12" height="12" fill="#ffdd5e"/><rect x="124" width="12" height="12" fill="#ffdb5c"/><rect x="136" width="12" height="12" fill="#ffda5b"/><rect x="148" width="12" height="12" fill="#ffd95a"/><rect x="160" width="12" height="12" fill="#ffd556"/><rect x="172" width="12" height="12" fill="#ffb132"/><rect x="184" width="12" height="12" fill="#ffa021"/><rect x="196" width="12" height="12" fill="#ff9c1d"/><rect x="208" width="12" height="12" fill="#ff9617"/><rect x="220" width="12" height="12" fill="#ff8a0b"/><rect x="232" width="12" height="12" fill="#fe7f00"/><rect x="244" width="12" height="12" fill="#f57600"/><rect x="256" width="12" height="12" fill="#ed6e00"/><rect x="268" width="12" height="12" fill="#ea6b00"/><rect x="280" width="12" height="12" fill="#ed6e00"/><rect x="292" width="12" height="12" fill="#f27300"/><rect x="304" width="12" height="12" fill="#f57600"/><rect x="316" width="12" height="12" fill="#fa7b00"/><rect x="328" width="12" height="12" fill="#ff8404"/><rect x="340" width="12" height="12" fill="#ff8b0b"/><rect x="352" width="12" height="12" fill="#ff9010"/><rect x="364" width="12" height="12" fill="#ff9414"/><rect x="376" width="12" height="12" fill="#ff9415"/><rect x="388" width="12" height="12" fill="#ff9515"/><rect x="400" width="12" height="12" fill="#ff9718"/><rect x="412" width="12" height="12" fill="#ff991a"/><rect x="424" width="12" height="12" fill="#ff9b1c"/><rect x="436" width="12" height="12" fill="#ff9d1e"/><rect x="448" width="12" height="12" fill="#ff9c1d"/><rect x="460" width="12" height="12" fill="#ff8f10"/><rect x="472" width="12" height="12" fill="#ff8606"/><rect x="484" width="12" height="12" fill="#fd7e00"/><rect x="496" width="12" height="12" fill="#f37400"/><rect x="508" width="12" height="12" fill="#ed6e00"/><rect x="520" width="12" height="12" fill="#f27300"/><rect x="532" width="12" height="12" fill="#ff8405"/><rect x="544" width="12" height="12" fill="#ff991a"/><rect x="556" width="12" height="12" fill="#ffa324"/><rect x="568" width="12" height="12" fill="#ffa829"/><rect x="580" width="12" height="12" fill="#ffaa2b"/><rect x="592" width="12" height="12" fill="#ffac2d"/><rect x="604" width="12" height="12" fill="#ffad2e"/></g><g transform="translate(0 222)"><rect x="88" width="12" height="12" fill="#ffe465"/><rect x="100" width="12" height="12" fill="#ffe162"/><rect x="112" width="12" height="12" fill="#ffdf60"/><rect x="124" width="12" height="12" fill="#ffdd5e"/><rect x="136" width="12" height="12" fill="#ffdd5e"/><rect x="148" width="12" height="12" fill="#ffdb5c"/><rect x="160" width="12" height="12" fill="#ffd556"/><rect x="172" width="12" height="12" fill="#ffb435"/><rect x="184" width="12" height="12" fill="#ffa122"/><rect x="196" width="12" height="12" fill="#ff9c1d"/><rect x="208" width="12" height="12" fill="#ff9617"/><rect x="220" width="12" height="12" fill="#ff8b0b"/><rect x="232" width="12" height="12" fill="#fe7f00"/><rect x="244" width="12" height="12" fill="#f47500"/><rect x="256" width="12" height="12" fill="#ec6d00"/><rect x="268" width="12" height="12" fill="#e76800"/><rect x="280" width="12" height="12" fill="#e76800"/><rect x="292" width="12" height="12" fill="#ea6b00"/><rect x="304" width="12" height="12" fill="#ed6e00"/><rect x="316" width="12" height="12" fill="#f17200"/><rect x="328" width="12" height="12" fill="#fa7b00"/><rect x="340" width="12" height="12" fill="#ff8404"/><rect x="352" width="12" height="12" fill="#ff8808"/><rect x="364" width="12" height="12" fill="#ff890a"/><rect x="376" width="12" height="12" fill="#ff890a"/><rect x="388" width="12" height="12" fill="#ff8909"/><rect x="400" width="12" height="12" fill="#ff8a0a"/><rect x="412" width="12" height="12" fill="#ff8b0c"/><rect x="424" width="12" height="12" fill="#ff8b0b"/><rect x="436" width="12" height="12" fill="#ff8505"/><rect x="448" width="12" height="12" fill="#fc7d00"/><rect x="460" width="12" height="12" fill="#fc7d00"/><rect x="472" width="12" height="12" fill="#fc7d00"/><rect x="484" width="12" height="12" fill="#f87900"/><rect x="496" width="12" height="12" fill="#f17200"/><rect x="508" width="12" height="12" fill="#ee6f00"/><rect x="520" width="12" height="12" fill="#f77800"/><rect x="532" width="12" height="12" fill="#ff8b0b"/><rect x="544" width="12" height="12" fill="#ff9a1b"/><rect x="556" width="12" height="12" fill="#ffa122"/><rect x="568" width="12" height="12" fill="#ffa526"/><rect x="580" width="12" height="12" fill="#ffa829"/><rect x="592" width="12" height="12" fill="#ffab2c"/><rect x="604" width="12" height="12" fill="#ffac2d"/></g><g transform="translate(0 234)"><rect x="88" width="12" height="12" fill="#ffe465"/><rect x="100" width="12" height="12" fill="#ffe364"/><rect x="112" width="12" height="12" fill="#ffe263"/><rect x="124" width="12" height="12" fill="#ffe162"/><rect x="136" width="12" height="12" fill="#ffde5f"/><rect x="148" width="12" height="12" fill="#ffda5b"/><rect x="160" width="12" height="12" fill="#ffd354"/><rect x="172" width="12" height="12" fill="#ffb93a"/><rect x="184" width="12" height="12" fill="#ffa324"/><rect x="196" width="12" height="12" fill="#ff9d1e"/><rect x="208" width="12" height="12" fill="#ff9718"/><rect x="220" width="12" height="12" fill="#ff8c0c"/><rect x="232" width="12" height="12" fill="#fe7f00"/><rect x="244" width="12" height="12" fill="#f47500"/><rect x="256" width="12" height="12" fill="#eb6c00"/><rect x="268" width="12" height="12" fill="#e66700"/><rect x="280" width="12" height="12" fill="#e46500"/><rect x="292" width="12" height="12" fill="#e46500"/><rect x="304" width="12" height="12" fill="#e66700"/><rect x="316" width="12" height="12" fill="#e86900"/><rect x="328" width="12" height="12" fill="#ef7000"/><rect x="340" width="12" height="12" fill="#f67700"/><rect x="352" width="12" height="12" fill="#f87900"/><rect x="364" width="12" height="12" fill="#fb7c00"/><rect x="376" width="12" height="12" fill="#fd7e00"/><rect x="388" width="12" height="12" fill="#ff8000"/><rect x="400" width="12" height="12" fill="#ff8101"/><rect x="412" width="12" height="12" fill="#ff8202"/><rect x="424" width="12" height="12" fill="#fd7e00"/><rect x="436" width="12" height="12" fill="#f57600"/><rect x="448" width="12" height="12" fill="#f07100"/><rect x="460" width="12" height="12" fill="#f07100"/><rect x="472" width="12" height="12" fill="#f37400"/><rect x="484" width="12" height="12" fill="#f37400"/><rect x="496" width="12" height="12" fill="#f27300"/><rect x="508" width="12" height="12" fill="#f47500"/><rect x="520" width="12" height="12" fill="#ff8202"/><rect x="532" width="12" height="12" fill="#ff9213"/><rect x="544" width="12" height="12" fill="#ff9c1d"/><rect x="556" width="12" height="12" fill="#ffa021"/><rect x="568" width="12" height="12" fill="#ffa223"/><rect x="580" width="12" height="12" fill="#ffa627"/><rect x="592" width="12" height="12" fill="#ffa92a"/></g><g transform="translate(0 246)"><rect x="112" width="12" height="12" fill="#ffe566"/><rect x="124" width="12" height="12" fill="#ffe162"/><rect x="136" width="12" height="12" fill="#ffdc5d"/><rect x="148" width="12" height="12" fill="#ffd859"/><rect x="160" width="12" height="12" fill="#ffd051"/><rect x="172" width="12" height="12" fill="#ffbc3d"/><rect x="184" width="12" height="12" fill="#ffa526"/><rect x="196" width="12" height="12" fill="#ff9e1f"/><rect x="208" width="12" height="12" fill="#ff991a"/><rect x="220" width="12" height="12" fill="#ff8f10"/><rect x="232" width="12" height="12" fill="#ff8101"/><rect x="244" width="12" height="12" fill="#f47500"/><rect x="256" width="12" height="12" fill="#e96a00"/><rect x="268" width="12" height="12" fill="#e36400"/><rect x="280" width="12" height="12" fill="#df6000"/><rect x="292" width="12" height="12" fill="#de5f00"/><rect x="304" width="12" height="12" fill="#de5f00"/><rect x="316" width="12" height="12" fill="#dd5e00"/><rect x="328" width="12" height="12" fill="#dd5e00"/><rect x="340" width="12" height="12" fill="#e06100"/><rect x="352" width="12" height="12" fill="#e46500"/><rect x="364" width="12" height="12" fill="#ea6b00"/><rect x="376" width="12" height="12" fill="#f07100"/><rect x="388" width="12" height="12" fill="#f37400"/><rect x="400" width="12" height="12" fill="#f47500"/><rect x="412" width="12" height="12" fill="#f27300"/><rect x="424" width="12" height="12" fill="#ed6e00"/><rect x="436" width="12" height="12" fill="#ea6b00"/><rect x="448" width="12" height="12" fill="#ea6b00"/><rect x="460" width="12" height="12" fill="#e96a00"/><rect x="472" width="12" height="12" fill="#e96a00"/><rect x="484" width="12" height="12" fill="#ea6b00"/><rect x="496" width="12" height="12" fill="#ec6d00"/><rect x="508" width="12" height="12" fill="#f27300"/><rect x="520" width="12" height="12" fill="#fe7f00"/><rect x="532" width="12" height="12" fill="#ff9011"/><rect x="544" width="12" height="12" fill="#ff9b1c"/><rect x="556" width="12" height="12" fill="#ff9e1f"/><rect x="568" width="12" height="12" fill="#ffa021"/><rect x="580" width="12" height="12" fill="#ffa324"/></g><g transform="translate(0 258)"><rect x="124" width="12" height="12" fill="#ffde5f"/><rect x="136" width="12" height="12" fill="#ffda5b"/><rect x="148" width="12" height="12" fill="#ffd556"/><rect x="160" width="12" height="12" fill="#ffce4f"/><rect x="172" width="12" height="12" fill="#ffbb3c"/><rect x="184" width="12" height="12" fill="#ffa526"/><rect x="196" width="12" height="12" fill="#ff9e1f"/><rect x="208" width="12" height="12" fill="#ff9c1d"/><rect x="220" width="12" height="12" fill="#ff9516"/><rect x="232" width="12" height="12" fill="#ff8505"/><rect x="244" width="12" height="12" fill="#f27300"/><rect x="256" width="12" height="12" fill="#e36400"/><rect x="268" width="12" height="12" fill="#db5c00"/><rect x="280" width="12" height="12" fill="#d75800"/><rect x="292" width="12" height="12" fill="#d55600"/><rect x="304" width="12" height="12" fill="#d35400"/><rect x="316" width="12" height="12" fill="#ce4f00"/><rect x="328" width="12" height="12" fill="#ca4b00"/><rect x="340" width="12" height="12" fill="#d05100"/><rect x="352" width="12" height="12" fill="#d75800"/><rect x="364" width="12" height="12" fill="#dd5e00"/><rect x="376" width="12" height="12" fill="#e16200"/><rect x="388" width="12" height="12" fill="#e46500"/><rect x="400" width="12" height="12" fill="#e16200"/><rect x="412" width="12" height="12" fill="#da5b00"/><rect x="424" width="12" height="12" fill="#d95a00"/><rect x="436" width="12" height="12" fill="#dd5e00"/><rect x="448" width="12" height="12" fill="#df6000"/><rect x="460" width="12" height="12" fill="#df6000"/><rect x="472" width="12" height="12" fill="#de5f00"/><rect x="484" width="12" height="12" fill="#da5b00"/><rect x="496" width="12" height="12" fill="#d75800"/><rect x="508" width="12" height="12" fill="#d95a00"/><rect x="520" width="12" height="12" fill="#e06100"/><rect x="532" width="12" height="12" fill="#f37400"/><rect x="544" width="12" height="12" fill="#ff8c0c"/><rect x="556" width="12" height="12" fill="#ff991a"/></g><g transform="translate(0 270)"><rect x="136" width="12" height="12" fill="#ffd758"/><rect x="160" width="12" height="12" fill="#ffcd4e"/><rect x="172" width="12" height="12" fill="#ffb839"/><rect x="184" width="12" height="12" fill="#ffa324"/><rect x="196" width="12" height="12" fill="#ff9f20"/><rect x="208" width="12" height="12" fill="#ff9d1e"/><rect x="220" width="12" height="12" fill="#ff9a1b"/><rect x="232" width="12" height="12" fill="#ff8c0d"/><rect x="244" width="12" height="12" fill="#e96a00"/><rect x="256" width="12" height="12" fill="#d25300"/><rect x="268" width="12" height="12" fill="#cc4d00"/><rect x="280" width="12" height="12" fill="#c94a00"/><rect x="292" width="12" height="12" fill="#c44500"/><rect x="304" width="12" height="12" fill="#bf4000"/><rect x="316" width="12" height="12" fill="#b93a00"/><rect x="328" width="12" height="12" fill="#b73800"/><rect x="340" width="12" height="12" fill="#bf4000"/><rect x="352" width="12" height="12" fill="#c94a00"/><rect x="364" width="12" height="12" fill="#ca4b00"/><rect x="376" width="12" height="12" fill="#cc4d00"/><rect x="388" width="12" height="12" fill="#cd4e00"/><rect x="400" width="12" height="12" fill="#cb4c00"/><rect x="412" width="12" height="12" fill="#c94a00"/><rect x="424" width="12" height="12" fill="#c94a00"/><rect x="436" width="12" height="12" fill="#cd4e00"/><rect x="448" width="12" height="12" fill="#d05100"/><rect x="460" width="12" height="12" fill="#d15200"/><rect x="472" width="12" height="12" fill="#cf5000"/><rect x="484" width="12" height="12" fill="#c64700"/><rect x="496" width="12" height="12" fill="#bb3c00"/><rect x="508" width="12" height="12" fill="#b43500"/><rect x="520" width="12" height="12" fill="#ae2f00"/><rect x="532" width="12" height="12" fill="#a92a00"/><rect x="544" width="12" height="12" fill="#b73800"/></g><g transform="translate(0 282)"><rect x="196" width="12" height="12" fill="#ff9e1f"/><rect x="208" width="12" height="12" fill="#ff9e1f"/><rect x="220" width="12" height="12" fill="#ff9c1d"/><rect x="232" width="12" height="12" fill="#ff8e0f"/><rect x="244" width="12" height="12" fill="#cf5000"/><rect x="256" width="12" height="12" fill="#c04100"/><rect x="268" width="12" height="12" fill="#bd3e00"/><rect x="280" width="12" height="12" fill="#b83900"/><rect x="292" width="12" height="12" fill="#b13200"/><rect x="304" width="12" height="12" fill="#aa2b00"/><rect x="316" width="12" height="12" fill="#a52600"/><rect x="328" width="12" height="12" fill="#a52600"/><rect x="340" width="12" height="12" fill="#a92a00"/><rect x="352" width="12" height="12" fill="#b03100"/><rect x="364" width="12" height="12" fill="#b33400"/><rect x="376" width="12" height="12" fill="#b53600"/><rect x="388" width="12" height="12" fill="#b83900"/><rect x="400" width="12" height="12" fill="#bd3e00"/><rect x="412" width="12" height="12" fill="#bf4000"/><rect x="424" width="12" height="12" fill="#c04100"/><rect x="436" width="12" height="12" fill="#c24300"/><rect x="448" width="12" height="12" fill="#c54600"/><rect x="460" width="12" height="12" fill="#c74800"/><rect x="472" width="12" height="12" fill="#c34400"/><rect x="484" width="12" height="12" fill="#b53600"/><rect x="496" width="12" height="12" fill="#a42500"/><rect x="508" width="12" height="12" fill="#941400"/><rect x="520" width="12" height="12" fill="#7e0000"/><rect x="532" width="12" height="12" fill="#650000"/><rect x="544" width="12" height="12" fill="#570000"/></g><g transform="translate(0 294)"><rect x="268" width="12" height="12" fill="#b43500"/><rect x="280" width="12" height="12" fill="#ae2f00"/><rect x="292" width="12" height="12" fill="#a52600"/><rect x="304" width="12" height="12" fill="#9c1d00"/><rect x="316" width="12" height="12" fill="#951600"/><rect x="328" width="12" height="12" fill="#8f1000"/><rect x="340" width="12" height="12" fill="#8c0d00"/><rect x="352" width="12" height="12" fill="#951600"/><rect x="364" width="12" height="12" fill="#a32400"/><rect x="376" width="12" height="12" fill="#aa2b00"/><rect x="388" width="12" height="12" fill="#af3000"/><rect x="400" width="12" height="12" fill="#b53600"/><rect x="412" width="12" height="12" fill="#b93a00"/><rect x="424" width="12" height="12" fill="#ba3b00"/><rect x="436" width="12" height="12" fill="#bd3e00"/><rect x="448" width="12" height="12" fill="#c04100"/><rect x="460" width="12" height="12" fill="#c24300"/><rect x="472" width="12" height="12" fill="#bc3d00"/><rect x="484" width="12" height="12" fill="#a92a00"/><rect x="496" width="12" height="12" fill="#8f1000"/><rect x="508" width="12" height="12" fill="#720000"/><rect x="520" width="12" height="12" fill="#550000"/><rect x="532" width="12" height="12" fill="#410000"/><rect x="544" width="12" height="12" fill="#360000"/></g><g transform="translate(0 306)"><rect x="268" width="12" height="12" fill="#af3000"/><rect x="280" width="12" height="12" fill="#a72800"/><rect x="292" width="12" height="12" fill="#9d1e00"/><rect x="304" width="12" height="12" fill="#921300"/><rect x="316" width="12" height="12" fill="#860600"/><rect x="328" width="12" height="12" fill="#7c0000"/><rect x="340" width="12" height="12" fill="#780000"/><rect x="352" width="12" height="12" fill="#7e0000"/><rect x="364" width="12" height="12" fill="#921200"/><rect x="376" width="12" height="12" fill="#a32400"/><rect x="388" width="12" height="12" fill="#ab2c00"/><rect x="400" width="12" height="12" fill="#b13200"/><rect x="412" width="12" height="12" fill="#b53600"/><rect x="424" width="12" height="12" fill="#b63700"/><rect x="436" width="12" height="12" fill="#b93a00"/><rect x="448" width="12" height="12" fill="#bd3e00"/><rect x="460" width="12" height="12" fill="#bf4000"/><rect x="496" width="12" height="12" fill="#6e0000"/><rect x="508" width="12" height="12" fill="#4b0000"/><rect x="520" width="12" height="12" fill="#350000"/><rect x="532" width="12" height="12" fill="#2b0000"/><rect x="544" width="12" height="12" fill="#250000"/><rect x="556" width="12" height="12" fill="#210000"/></g><g transform="translate(0 318)"><rect x="316" width="12" height="12" fill="#7a0000"/><rect x="328" width="12" height="12" fill="#720000"/><rect x="340" width="12" height="12" fill="#6e0000"/><rect x="352" width="12" height="12" fill="#6d0000"/><rect x="364" width="12" height="12" fill="#760000"/><rect x="376" width="12" height="12" fill="#8f1000"/><rect x="508" width="12" height="12" fill="#2c0000"/><rect x="520" width="12" height="12" fill="#220000"/><rect x="532" width="12" height="12" fill="#1d0000"/><rect x="544" width="12" height="12" fill="#190000"/><rect x="556" width="12" height="12" fill="#150000"/></g><g transform="translate(0 330)"><rect x="316" width="12" height="12" fill="#720000"/><rect x="328" width="12" height="12" fill="#6b0000"/><rect x="340" width="12" height="12" fill="#660000"/><rect x="352" width="12" height="12" fill="#610000"/><rect x="364" width="12" height="12" fill="#600000"/><rect x="520" width="12" height="12" fill="#170000"/><rect x="532" width="12" height="12" fill="#140000"/><rect x="544" width="12" height="12" fill="#110000"/><rect x="556" width="12" height="12" fill="#0f0000"/></g><g transform="translate(0 342)"><rect x="328" width="12" height="12" fill="#640000"/><rect x="340" width="12" height="12" fill="#5e0000"/><rect x="352" width="12" height="12" fill="#590000"/><rect x="364" width="12" height="12" fill="#570000"/><rect x="520" width="12" height="12" fill="#100000"/><rect x="532" width="12" height="12" fill="#0e0000"/><rect x="544" width="12" height="12" fill="#0d0000"/><rect x="556" width="12" height="12" fill="#0c0000"/></g><g transform="translate(0 354)"><rect x="340" width="12" height="12" fill="#580000"/><rect x="352" width="12" height="12" fill="#550000"/><rect x="364" width="12" height="12" fill="#540000"/><rect x="532" width="12" height="12" fill="#0c0000"/><rect x="544" width="12" height="12" fill="#0b0000"/><rect x="556" width="12" height="12" fill="#0b0000"/></g></g><g fill="none" stroke-linecap="round" stroke-linejoin="round" filter="url(#bl2)"><path d="M140.9 262.6L138.6 258 136.5 254.5 134 251 128.2 246.4 122.4 242.9 118 240.2 114.3 238.3 108 236 102.7 234.8 101.8 229 99.2 223.2 95.6 220 93 216.5 91.1 212.8 90.3 209.3 89.2 203.5 86.4 199.5 86.3 195.4 83 191.8 80.5 188.4 78.5 184 76.5 180 74.1 176.8 73.5 171.5 73 166.4 71 162 69.5 158.3 70.1 152.5 72 147.5 73.5 143.2 73.2 139.5 73 136.2 72.2 130.5 71.2 124.6 71.8 120 73 116 74.4 112.2 75.8 106 77.3 100.6 79 94.5 80.8 89 82.5 84 84.3 79.7 83.5 73 82.5 66 81.5 60 80.5 56 79.5 53.2" stroke="#c04a10" stroke-width="7" opacity="0.9"/><path d="M112.3 172.3L120 185.6 127.7 198.9 132.3 212.2 132.8 221.6" stroke="#e8902e" stroke-width="7" opacity="0.8"/></g><use href="#msk"/></g><g clip-path="url(#frm)" fill="none" stroke="#000" stroke-linejoin="round" stroke-linecap="round"><use href="#st" stroke-width="1"/><use href="#cst" stroke-width="1.8"/><use href="#out" stroke-width="1.8"/><use href="#intl" stroke-width="1.4"/><use href="#dots" fill="#000" stroke="none"/><use href="#mec" stroke-width="2.8"/><use href="#pug" fill="#000" stroke="#000" stroke-width="1.5"/><use href="#bays" fill="#fff" stroke="#000" stroke-width="1.5"/><use href="#pam" fill="none" stroke="#000" stroke-width="1.2"/></g><use href="#fr" fill="none" stroke="#1a1a1a" stroke-width="3.8" stroke-linejoin="miter"/><rect x="761.5" y="31" width="34" height="333.7" fill="url(#cb3)" stroke="#222" stroke-width="1"/><path d="M795.6 298h-3.5" stroke="#222" stroke-width="0.8"/><text x="802.8" y="306" font-size="22.4">20</text><path d="M795.6 231.2h-3.5" stroke="#222" stroke-width="0.8"/><text x="802.8" y="239.2" font-size="22.4">30</text><path d="M795.6 164.5h-3.5" stroke="#222" stroke-width="0.8"/><text x="802.8" y="172.5" font-size="22.4">40</text><path d="M795.6 97.7h-3.5" stroke="#222" stroke-width="0.8"/><text x="802.8" y="105.7" font-size="22.4">50</text></g></svg></body></html>
